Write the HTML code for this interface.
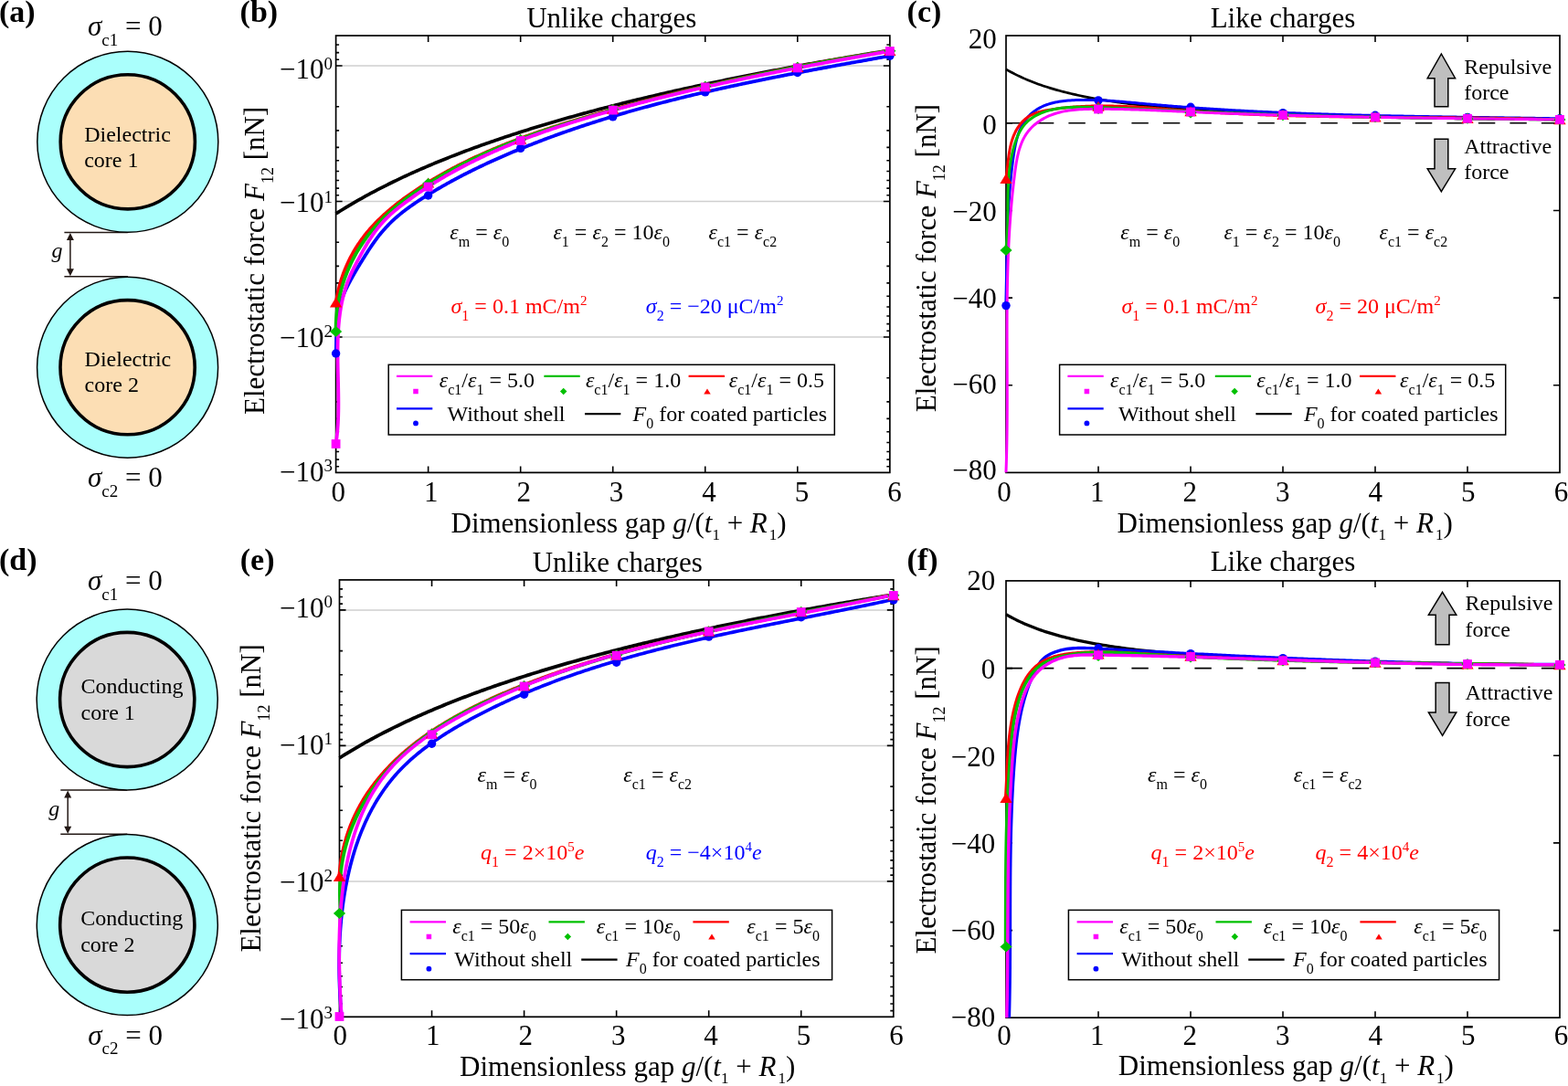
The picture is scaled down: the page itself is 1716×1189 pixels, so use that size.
<!DOCTYPE html><html><head><meta charset='utf-8'><style>html,body{margin:0;padding:0;background:#fff;overflow:hidden}svg{display:block}</style></head><body><svg width='1716' height='1189' viewBox='0 0 1716 1189' font-family="'Liberation Serif', 'Times New Roman', serif">
<rect width='1716' height='1189' fill='#fff'/>
<defs><clipPath id='clipb'><rect x='359.60' y='39.00' width='622.24' height='478.40'/></clipPath><clipPath id='clipc'><rect x='1093.00' y='39.00' width='622.00' height='478.40'/></clipPath><clipPath id='clipe'><rect x='363.50' y='634.90' width='622.30' height='478.40'/></clipPath><clipPath id='clipf'><rect x='1093.00' y='635.90' width='622.00' height='478.30'/></clipPath></defs>
<line x1='367.60' y1='72.00' x2='973.84' y2='72.00' stroke='#cfcfcf' stroke-width='1.5'/>
<line x1='367.60' y1='220.50' x2='973.84' y2='220.50' stroke='#cfcfcf' stroke-width='1.5'/>
<line x1='367.60' y1='369.00' x2='973.84' y2='369.00' stroke='#cfcfcf' stroke-width='1.5'/>
<line x1='367.60' y1='517.50' x2='973.84' y2='517.50' stroke='#cfcfcf' stroke-width='1.5'/>
<line x1='1101.00' y1='134.80' x2='1707.00' y2='134.80' stroke='#000' stroke-width='1.6' stroke-dasharray='18.4,16.1' stroke-dashoffset='0.6'/>
<line x1='371.50' y1='667.90' x2='977.80' y2='667.90' stroke='#cfcfcf' stroke-width='1.5'/>
<line x1='371.50' y1='816.40' x2='977.80' y2='816.40' stroke='#cfcfcf' stroke-width='1.5'/>
<line x1='371.50' y1='964.90' x2='977.80' y2='964.90' stroke='#cfcfcf' stroke-width='1.5'/>
<line x1='371.50' y1='1113.40' x2='977.80' y2='1113.40' stroke='#cfcfcf' stroke-width='1.5'/>
<line x1='1101.00' y1='731.60' x2='1707.00' y2='731.60' stroke='#000' stroke-width='1.6' stroke-dasharray='18.4,16.1' stroke-dashoffset='0.6'/>
<path d='M468.64,517.40v-7M468.64,39.00v7M569.68,517.40v-7M569.68,39.00v7M670.72,517.40v-7M670.72,39.00v7M771.76,517.40v-7M771.76,39.00v7M872.80,517.40v-7M872.80,39.00v7M367.60,49.00h3.5M973.84,49.00h-3.5M367.60,57.61h3.5M973.84,57.61h-3.5M367.60,65.21h3.5M973.84,65.21h-3.5M367.60,72.00h7M973.84,72.00h-7M367.60,116.70h3.5M973.84,116.70h-3.5M367.60,142.85h3.5M973.84,142.85h-3.5M367.60,161.41h3.5M973.84,161.41h-3.5M367.60,175.80h3.5M973.84,175.80h-3.5M367.60,187.56h3.5M973.84,187.56h-3.5M367.60,197.50h3.5M973.84,197.50h-3.5M367.60,206.11h3.5M973.84,206.11h-3.5M367.60,213.71h3.5M973.84,213.71h-3.5M367.60,220.50h7M973.84,220.50h-7M367.60,265.20h3.5M973.84,265.20h-3.5M367.60,291.35h3.5M973.84,291.35h-3.5M367.60,309.91h3.5M973.84,309.91h-3.5M367.60,324.30h3.5M973.84,324.30h-3.5M367.60,336.06h3.5M973.84,336.06h-3.5M367.60,346.00h3.5M973.84,346.00h-3.5M367.60,354.61h3.5M973.84,354.61h-3.5M367.60,362.21h3.5M973.84,362.21h-3.5M367.60,369.00h7M973.84,369.00h-7M367.60,413.70h3.5M973.84,413.70h-3.5M367.60,439.85h3.5M973.84,439.85h-3.5M367.60,458.41h3.5M973.84,458.41h-3.5M367.60,472.80h3.5M973.84,472.80h-3.5M367.60,484.56h3.5M973.84,484.56h-3.5M367.60,494.50h3.5M973.84,494.50h-3.5M367.60,503.11h3.5M973.84,503.11h-3.5M367.60,510.71h3.5M973.84,510.71h-3.5' stroke='#000' stroke-width='1.6' fill='none'/>
<rect x='367.60' y='39.00' width='606.24' height='478.40' fill='none' stroke='#000' stroke-width='1.7'/>
<path d='M1202.00,517.40v-7M1202.00,39.00v7M1303.00,517.40v-7M1303.00,39.00v7M1404.00,517.40v-7M1404.00,39.00v7M1505.00,517.40v-7M1505.00,39.00v7M1606.00,517.40v-7M1606.00,39.00v7M1101.00,421.78h7M1707.00,421.78h-7M1101.00,326.12h7M1707.00,326.12h-7M1101.00,230.46h7M1707.00,230.46h-7M1101.00,134.80h7M1707.00,134.80h-7' stroke='#000' stroke-width='1.6' fill='none'/>
<rect x='1101.00' y='39.00' width='606.00' height='478.40' fill='none' stroke='#000' stroke-width='1.7'/>
<path d='M472.55,1113.30v-7M472.55,634.90v7M573.60,1113.30v-7M573.60,634.90v7M674.65,1113.30v-7M674.65,634.90v7M775.70,1113.30v-7M775.70,634.90v7M876.75,1113.30v-7M876.75,634.90v7M371.50,644.90h3.5M977.80,644.90h-3.5M371.50,653.51h3.5M977.80,653.51h-3.5M371.50,661.11h3.5M977.80,661.11h-3.5M371.50,667.90h7M977.80,667.90h-7M371.50,712.60h3.5M977.80,712.60h-3.5M371.50,738.75h3.5M977.80,738.75h-3.5M371.50,757.31h3.5M977.80,757.31h-3.5M371.50,771.70h3.5M977.80,771.70h-3.5M371.50,783.46h3.5M977.80,783.46h-3.5M371.50,793.40h3.5M977.80,793.40h-3.5M371.50,802.01h3.5M977.80,802.01h-3.5M371.50,809.61h3.5M977.80,809.61h-3.5M371.50,816.40h7M977.80,816.40h-7M371.50,861.10h3.5M977.80,861.10h-3.5M371.50,887.25h3.5M977.80,887.25h-3.5M371.50,905.81h3.5M977.80,905.81h-3.5M371.50,920.20h3.5M977.80,920.20h-3.5M371.50,931.96h3.5M977.80,931.96h-3.5M371.50,941.90h3.5M977.80,941.90h-3.5M371.50,950.51h3.5M977.80,950.51h-3.5M371.50,958.11h3.5M977.80,958.11h-3.5M371.50,964.90h7M977.80,964.90h-7M371.50,1009.60h3.5M977.80,1009.60h-3.5M371.50,1035.75h3.5M977.80,1035.75h-3.5M371.50,1054.31h3.5M977.80,1054.31h-3.5M371.50,1068.70h3.5M977.80,1068.70h-3.5M371.50,1080.46h3.5M977.80,1080.46h-3.5M371.50,1090.40h3.5M977.80,1090.40h-3.5M371.50,1099.01h3.5M977.80,1099.01h-3.5M371.50,1106.61h3.5M977.80,1106.61h-3.5' stroke='#000' stroke-width='1.6' fill='none'/>
<rect x='371.50' y='634.90' width='606.30' height='478.40' fill='none' stroke='#000' stroke-width='1.7'/>
<path d='M1202.00,1114.20v-7M1202.00,635.90v7M1303.00,1114.20v-7M1303.00,635.90v7M1404.00,1114.20v-7M1404.00,635.90v7M1505.00,1114.20v-7M1505.00,635.90v7M1606.00,1114.20v-7M1606.00,635.90v7M1101.00,1018.58h7M1707.00,1018.58h-7M1101.00,922.92h7M1707.00,922.92h-7M1101.00,827.26h7M1707.00,827.26h-7M1101.00,731.60h7M1707.00,731.60h-7' stroke='#000' stroke-width='1.6' fill='none'/>
<rect x='1101.00' y='635.90' width='606.00' height='478.30' fill='none' stroke='#000' stroke-width='1.7'/>
<path d='M367.60,233.98L370.14,232.37L372.67,230.78L375.21,229.21L377.75,227.66L380.28,226.13L382.82,224.62L385.36,223.12L387.89,221.64L390.43,220.18L392.97,218.73L395.50,217.30L398.04,215.88L400.58,214.48L403.11,213.10L405.65,211.73L408.19,210.38L410.72,209.03L413.26,207.71L415.79,206.39L418.33,205.09L420.87,203.80L423.40,202.53L425.94,201.27L428.48,200.02L431.01,198.78L433.55,197.55L436.09,196.34L438.62,195.13L441.16,193.94L443.70,192.76L446.23,191.59L448.77,190.43L451.31,189.28L453.84,188.14L456.38,187.01L458.92,185.89L461.45,184.78L463.99,183.68L466.53,182.59L469.06,181.50L471.60,180.43L474.14,179.37L476.67,178.31L479.21,177.26L481.75,176.22L484.28,175.19L486.82,174.17L489.36,173.16L491.89,172.15L494.43,171.15L496.97,170.16L499.50,169.18L502.04,168.20L504.57,167.23L507.11,166.27L509.65,165.32L512.18,164.37L514.72,163.43L517.26,162.50L519.79,161.57L522.33,160.65L524.87,159.73L527.40,158.83L529.94,157.93L532.48,157.03L535.01,156.14L537.55,155.26L540.09,154.38L542.62,153.51L545.16,152.65L547.70,151.79L550.23,150.94L552.77,150.09L555.31,149.25L557.84,148.41L560.38,147.58L562.92,146.75L565.45,145.93L567.99,145.12L570.53,144.31L573.06,143.50L575.60,142.70L578.14,141.91L580.67,141.11L583.21,140.33L585.74,139.55L588.28,138.77L590.82,138.00L593.35,137.23L595.89,136.47L598.43,135.71L600.96,134.96L603.50,134.21L606.04,133.47L608.57,132.72L611.11,131.99L613.65,131.26L616.18,130.53L618.72,129.80L621.26,129.08L623.79,128.37L626.33,127.66L628.87,126.95L631.40,126.24L633.94,125.54L636.48,124.85L639.01,124.15L641.55,123.47L644.09,122.78L646.62,122.10L649.16,121.42L651.70,120.74L654.23,120.07L656.77,119.41L659.31,118.74L661.84,118.08L664.38,117.42L666.92,116.77L669.45,116.12L671.99,115.47L674.52,114.83L677.06,114.18L679.60,113.55L682.13,112.91L684.67,112.28L687.21,111.65L689.74,111.03L692.28,110.40L694.82,109.78L697.35,109.17L699.89,108.55L702.43,107.94L704.96,107.33L707.50,106.73L710.04,106.13L712.57,105.53L715.11,104.93L717.65,104.34L720.18,103.75L722.72,103.16L725.26,102.57L727.79,101.99L730.33,101.41L732.87,100.83L735.40,100.25L737.94,99.68L740.48,99.11L743.01,98.54L745.55,97.98L748.09,97.41L750.62,96.85L753.16,96.30L755.70,95.74L758.23,95.19L760.77,94.64L763.30,94.09L765.84,93.54L768.38,93.00L770.91,92.46L773.45,91.92L775.99,91.38L778.52,90.85L781.06,90.31L783.60,89.78L786.13,89.25L788.67,88.73L791.21,88.20L793.74,87.68L796.28,87.16L798.82,86.64L801.35,86.13L803.89,85.62L806.43,85.10L808.96,84.59L811.50,84.09L814.04,83.58L816.57,83.08L819.11,82.58L821.65,82.08L824.18,81.58L826.72,81.08L829.26,80.59L831.79,80.10L834.33,79.61L836.87,79.12L839.40,78.63L841.94,78.15L844.47,77.67L847.01,77.18L849.55,76.71L852.08,76.23L854.62,75.75L857.16,75.28L859.69,74.81L862.23,74.34L864.77,73.87L867.30,73.40L869.84,72.93L872.38,72.47L874.91,72.01L877.45,71.55L879.99,71.09L882.52,70.63L885.06,70.18L887.60,69.72L890.13,69.27L892.67,68.82L895.21,68.37L897.74,67.92L900.28,67.48L902.82,67.03L905.35,66.59L907.89,66.15L910.43,65.71L912.96,65.27L915.50,64.83L918.04,64.40L920.57,63.96L923.11,63.53L925.65,63.10L928.18,62.67L930.72,62.24L933.25,61.81L935.79,61.39L938.33,60.97L940.86,60.54L943.40,60.12L945.94,59.70L948.47,59.28L951.01,58.87L953.55,58.45L956.08,58.03L958.62,57.62L961.16,57.21L963.69,56.80L966.23,56.39L968.77,55.98L971.30,55.58L973.84,55.17' stroke='#000' stroke-width='3.7' fill='none' stroke-linejoin='round' stroke-linecap='butt' clip-path='url(#clipb)'/>
<path d='M367.69,387.02L367.77,385.19L367.83,383.35L367.89,381.50L367.95,379.65L367.99,377.78L368.04,375.92L368.08,374.05L368.12,372.18L368.17,370.30L368.22,368.42L368.28,366.54L368.34,364.66L368.41,362.79L368.50,360.91L368.60,359.03L368.71,357.16L368.84,355.29L368.99,353.43L369.17,351.57L369.36,349.71L369.58,347.87L369.83,346.03L370.10,344.19L370.40,342.37L370.74,340.56L371.10,338.76L371.50,336.96L371.93,335.18L372.40,333.40L372.89,331.64L373.43,329.89L373.99,328.15L374.59,326.42L375.22,324.70L375.88,323.00L376.57,321.30L377.29,319.61L378.04,317.93L378.81,316.26L379.61,314.59L380.42,312.94L381.26,311.29L382.12,309.64L382.99,308.00L383.88,306.37L384.78,304.74L385.69,303.11L386.61,301.49L387.53,299.86L388.47,298.24L389.41,296.63L390.36,295.01L391.31,293.40L392.27,291.79L393.24,290.18L394.21,288.58L395.19,286.98L396.18,285.39L397.16,283.79L398.15,282.20L399.15,280.62L400.15,279.03L401.15,277.45L402.15,275.88L403.17,274.31L404.18,272.75L405.21,271.20L406.25,269.65L407.29,268.11L408.35,266.59L409.41,265.07L410.50,263.57L411.59,262.07L412.70,260.60L413.83,259.13L414.97,257.68L416.13,256.25L417.31,254.83L418.50,253.42L419.71,252.03L420.93,250.65L422.17,249.29L423.43,247.94L424.70,246.61L425.99,245.29L427.29,243.99L428.61,242.71L429.95,241.44L431.30,240.19L432.67,238.95L434.06,237.73L435.46,236.52L436.87,235.33L438.30,234.15L439.74,232.98L441.20,231.83L442.67,230.70L444.14,229.57L445.64,228.46L447.14,227.36L448.65,226.27L450.17,225.19L451.70,224.12L453.24,223.06L454.78,222.01L456.34,220.97L457.90,219.94L459.47,218.92L461.04,217.90L462.62,216.90L464.20,215.90L465.79,214.91L467.38,213.92L468.97,212.94L470.57,211.97L472.17,211.00L473.77,210.03L475.38,209.08L476.99,208.13L478.60,207.18L480.21,206.24L481.83,205.30L483.45,204.37L485.07,203.45L486.69,202.53L488.32,201.62L489.95,200.71L491.58,199.81L493.21,198.91L494.85,198.02L496.49,197.13L498.13,196.25L499.78,195.37L501.42,194.50L503.07,193.63L504.72,192.77L506.37,191.91L508.03,191.06L509.69,190.21L511.34,189.37L513.01,188.53L514.67,187.70L516.34,186.87L518.00,186.04L519.67,185.22L521.35,184.41L523.02,183.60L524.70,182.79L526.37,181.99L528.05,181.19L529.73,180.40L531.42,179.61L533.10,178.82L534.79,178.04L536.48,177.26L538.17,176.49L539.86,175.72L541.56,174.96L543.25,174.20L544.95,173.44L546.65,172.69L548.35,171.94L550.05,171.19L551.76,170.45L553.46,169.72L555.17,168.98L556.88,168.25L558.59,167.53L560.30,166.80L562.01,166.08L563.73,165.37L565.44,164.66L567.16,163.95L568.88,163.24L570.60,162.54L572.32,161.84L574.04,161.14L575.76,160.45L577.49,159.76L579.21,159.08L580.94,158.39L582.67,157.71L584.40,157.04L586.13,156.37L587.86,155.70L589.59,155.03L591.32,154.37L593.06,153.70L594.79,153.05L596.53,152.39L598.27,151.74L600.01,151.09L601.75,150.45L603.49,149.81L605.24,149.17L606.98,148.53L608.73,147.90L610.47,147.27L612.22,146.64L613.97,146.02L615.72,145.40L617.47,144.78L619.22,144.17L620.97,143.55L622.73,142.94L624.48,142.34L626.24,141.73L627.99,141.13L629.75,140.53L631.51,139.94L633.27,139.35L635.03,138.76L636.79,138.17L638.56,137.59L640.32,137.00L642.08,136.43L643.85,135.85L645.62,135.28L647.38,134.71L649.15,134.14L650.92,133.57L652.69,133.01L654.46,132.45L656.24,131.89L658.01,131.34L659.78,130.79L661.56,130.24L663.33,129.69L665.11,129.14L666.89,128.60L668.67,128.06L670.45,127.53L672.23,126.99L674.01,126.46L675.79,125.93L677.57,125.40L679.36,124.88L681.14,124.36L682.92,123.84L684.71,123.32L686.50,122.80L688.28,122.29L690.07,121.78L691.86,121.27L693.65,120.76L695.44,120.26L697.23,119.76L699.02,119.26L700.82,118.76L702.61,118.27L704.40,117.78L706.20,117.28L707.99,116.80L709.79,116.31L711.59,115.83L713.38,115.35L715.18,114.87L716.98,114.39L718.78,113.91L720.58,113.44L722.38,112.97L724.18,112.50L725.98,112.03L727.79,111.57L729.59,111.10L731.39,110.64L733.20,110.18L735.00,109.73L736.81,109.27L738.61,108.82L740.42,108.37L742.23,107.92L744.04,107.47L745.84,107.02L747.65,106.58L749.46,106.14L751.27,105.70L753.08,105.26L754.89,104.82L756.71,104.39L758.52,103.95L760.33,103.52L762.14,103.09L763.96,102.67L765.77,102.24L767.58,101.81L769.40,101.39L771.21,100.97L773.03,100.55L774.85,100.13L776.66,99.72L778.48,99.30L780.30,98.89L782.12,98.48L783.93,98.07L785.75,97.66L787.57,97.25L789.39,96.85L791.21,96.45L793.03,96.04L794.85,95.64L796.67,95.24L798.49,94.85L800.31,94.45L802.13,94.05L803.96,93.66L805.78,93.27L807.60,92.88L809.42,92.49L811.25,92.10L813.07,91.71L814.89,91.33L816.72,90.95L818.54,90.56L820.37,90.18L822.19,89.80L824.02,89.42L825.84,89.04L827.67,88.67L829.49,88.29L831.32,87.92L833.15,87.55L834.97,87.17L836.80,86.80L838.62,86.43L840.45,86.07L842.28,85.70L844.11,85.33L845.93,84.97L847.76,84.60L849.59,84.24L851.42,83.88L853.24,83.52L855.07,83.16L856.90,82.80L858.73,82.44L860.55,82.08L862.38,81.73L864.21,81.37L866.04,81.02L867.87,80.66L869.70,80.31L871.53,79.96L873.35,79.61L875.18,79.26L877.01,78.91L878.84,78.56L880.67,78.21L882.50,77.87L884.33,77.52L886.15,77.18L887.98,76.83L889.81,76.49L891.64,76.14L893.47,75.80L895.30,75.46L897.13,75.12L898.95,74.78L900.78,74.44L902.61,74.10L904.44,73.76L906.27,73.42L908.10,73.09L909.92,72.75L911.75,72.41L913.58,72.08L915.41,71.74L917.23,71.41L919.06,71.07L920.89,70.74L922.71,70.41L924.54,70.07L926.37,69.74L928.19,69.41L930.02,69.08L931.85,68.74L933.67,68.41L935.50,68.08L937.32,67.75L939.15,67.42L940.97,67.09L942.80,66.76L944.62,66.44L946.45,66.11L948.27,65.78L950.10,65.45L951.92,65.12L953.74,64.79L955.57,64.47L957.39,64.14L959.21,63.81L961.03,63.48L962.85,63.16L964.68,62.83L966.50,62.50L968.32,62.18L970.14,61.85L971.96,61.52L973.78,61.20' stroke='#0000ff' stroke-width='3.8' fill='none' stroke-linejoin='round' stroke-linecap='butt' clip-path='url(#clipb)'/>
<path d='M367.89,331.26L368.15,329.48L368.42,327.70L368.72,325.93L369.04,324.17L369.38,322.41L369.74,320.66L370.11,318.91L370.51,317.17L370.93,315.44L371.37,313.72L371.83,312.00L372.31,310.29L372.81,308.59L373.32,306.89L373.86,305.20L374.42,303.52L374.99,301.85L375.58,300.19L376.19,298.53L376.83,296.89L377.47,295.25L378.14,293.62L378.83,292.00L379.53,290.38L380.25,288.78L380.99,287.19L381.75,285.60L382.52,284.03L383.31,282.46L384.12,280.91L384.95,279.37L385.79,277.83L386.65,276.31L387.52,274.79L388.41,273.29L389.32,271.80L390.25,270.32L391.19,268.85L392.15,267.39L393.12,265.95L394.11,264.51L395.11,263.09L396.13,261.68L397.17,260.28L398.22,258.90L399.28,257.52L400.36,256.16L401.46,254.81L402.56,253.47L403.69,252.14L404.82,250.83L405.97,249.52L407.13,248.23L408.31,246.95L409.50,245.68L410.70,244.42L411.91,243.17L413.13,241.93L414.37,240.70L415.61,239.48L416.87,238.27L418.14,237.08L419.42,235.89L420.71,234.71L422.01,233.54L423.32,232.38L424.63,231.23L425.96,230.09L427.30,228.96L428.64,227.84L430.00,226.73L431.36,225.62L432.73,224.52L434.11,223.44L435.49,222.36L436.89,221.29L438.29,220.22L439.69,219.17L441.11,218.12L442.52,217.08L443.95,216.05L445.38,215.03L446.82,214.01L448.26,213.00L449.70,212.00L451.15,211.00L452.61,210.01L454.07,209.03L455.53,208.06L457.00,207.09L458.47,206.12L459.94,205.17L461.42,204.22L462.90,203.27L464.38,202.33L465.87,201.40L467.36,200.47L468.85,199.55L470.35,198.64L471.85,197.73L473.35,196.83L474.85,195.93L476.36,195.04L477.87,194.16L479.39,193.28L480.91,192.41L482.43,191.54L483.95,190.68L485.48,189.82L487.01,188.97L488.54,188.13L490.07,187.29L491.61,186.45L493.15,185.62L494.70,184.80L496.24,183.98L497.79,183.17L499.34,182.36L500.90,181.56L502.45,180.76L504.01,179.97L505.57,179.18L507.14,178.40L508.71,177.63L510.28,176.85L511.85,176.09L513.42,175.33L515.00,174.57L516.58,173.82L518.16,173.07L519.75,172.33L521.33,171.59L522.92,170.86L524.51,170.13L526.11,169.40L527.70,168.69L529.30,167.97L530.90,167.26L532.50,166.56L534.11,165.85L535.71,165.16L537.32,164.47L538.93,163.78L540.55,163.09L542.16,162.41L543.78,161.74L545.40,161.07L547.02,160.40L548.64,159.74L550.26,159.08L551.89,158.43L553.52,157.77L555.15,157.13L556.78,156.48L558.42,155.85L560.05,155.21L561.69,154.58L563.33,153.95L564.97,153.33L566.61,152.71L568.25,152.09L569.90,151.48L571.55,150.87L573.19,150.26L574.84,149.66L576.50,149.06L578.15,148.47L579.80,147.87L581.46,147.28L583.12,146.70L584.77,146.12L586.43,145.54L588.10,144.96L589.76,144.39L591.42,143.82L593.09,143.25L594.75,142.69L596.42,142.13L598.09,141.57L599.76,141.02L601.43,140.47L603.10,139.92L604.78,139.37L606.45,138.83L608.13,138.29L609.80,137.75L611.48,137.22L613.16,136.68L614.84,136.15L616.52,135.63L618.20,135.10L619.88,134.58L621.56,134.06L623.24,133.54L624.93,133.03L626.61,132.51L628.30,132.00L629.99,131.49L631.67,130.99L633.36,130.48L635.05,129.98L636.74,129.48L638.43,128.99L640.12,128.49L641.81,128.00L643.50,127.50L645.19,127.01L646.88,126.53L648.57,126.04L650.27,125.56L651.96,125.07L653.65,124.59L655.35,124.11L657.04,123.64L658.74,123.16L660.43,122.69L662.12,122.21L663.82,121.74L665.51,121.27L667.21,120.80L668.91,120.34L670.60,119.87L672.30,119.41L673.99,118.94L675.69,118.48L677.38,118.02L679.08,117.56L680.78,117.10L682.47,116.65L684.17,116.19L685.86,115.74L687.56,115.29L689.26,114.83L690.95,114.38L692.65,113.93L694.35,113.49L696.04,113.04L697.74,112.60L699.44,112.15L701.14,111.71L702.83,111.27L704.53,110.83L706.23,110.39L707.93,109.95L709.62,109.51L711.32,109.08L713.02,108.64L714.72,108.21L716.42,107.78L718.11,107.35L719.81,106.92L721.51,106.49L723.21,106.07L724.91,105.64L726.61,105.22L728.31,104.79L730.01,104.37L731.71,103.95L733.41,103.53L735.11,103.11L736.81,102.70L738.51,102.28L740.21,101.87L741.91,101.45L743.61,101.04L745.31,100.63L747.01,100.22L748.71,99.81L750.41,99.40L752.11,99.00L753.81,98.59L755.52,98.19L757.22,97.79L758.92,97.38L760.62,96.98L762.32,96.58L764.03,96.19L765.73,95.79L767.43,95.39L769.14,95.00L770.84,94.61L772.54,94.21L774.25,93.82L775.95,93.43L777.66,93.04L779.36,92.66L781.07,92.27L782.77,91.88L784.48,91.50L786.18,91.12L787.89,90.73L789.59,90.35L791.30,89.97L793.01,89.60L794.71,89.22L796.42,88.84L798.13,88.47L799.83,88.09L801.54,87.72L803.25,87.35L804.96,86.98L806.66,86.61L808.37,86.24L810.08,85.87L811.79,85.50L813.50,85.14L815.21,84.77L816.92,84.41L818.63,84.05L820.34,83.69L822.05,83.33L823.76,82.97L825.47,82.61L827.18,82.26L828.90,81.90L830.61,81.55L832.32,81.19L834.03,80.84L835.74,80.49L837.46,80.14L839.17,79.79L840.88,79.44L842.60,79.09L844.31,78.75L846.03,78.40L847.74,78.06L849.46,77.72L851.17,77.37L852.89,77.03L854.60,76.69L856.32,76.36L858.04,76.02L859.76,75.68L861.47,75.35L863.19,75.01L864.91,74.68L866.63,74.34L868.35,74.01L870.06,73.68L871.78,73.35L873.50,73.02L875.22,72.70L876.94,72.37L878.66,72.05L880.39,71.72L882.11,71.40L883.83,71.08L885.55,70.75L887.27,70.43L889.00,70.11L890.72,69.80L892.44,69.48L894.17,69.16L895.89,68.85L897.61,68.53L899.34,68.22L901.07,67.91L902.79,67.59L904.52,67.28L906.24,66.97L907.97,66.66L909.70,66.36L911.42,66.05L913.15,65.74L914.88,65.44L916.61,65.14L918.34,64.83L920.07,64.53L921.80,64.23L923.53,63.93L925.26,63.63L926.99,63.33L928.72,63.03L930.45,62.74L932.19,62.44L933.92,62.15L935.65,61.85L937.39,61.56L939.12,61.27L940.86,60.98L942.59,60.69L944.33,60.40L946.06,60.11L947.80,59.83L949.53,59.54L951.27,59.25L953.01,58.97L954.75,58.69L956.49,58.40L958.22,58.12L959.96,57.84L961.70,57.56L963.44,57.28L965.18,57.00L966.92,56.73L968.67,56.45L970.41,56.17L972.15,55.90L973.89,55.63' stroke='#ff0000' stroke-width='3.8' fill='none' stroke-linejoin='round' stroke-linecap='butt' clip-path='url(#clipb)'/>
<path d='M367.63,363.09L367.61,361.25L367.61,359.41L367.63,357.57L367.67,355.73L367.73,353.90L367.81,352.06L367.92,350.23L368.04,348.40L368.19,346.57L368.36,344.74L368.55,342.91L368.75,341.09L368.98,339.27L369.23,337.45L369.50,335.64L369.79,333.83L370.10,332.02L370.43,330.22L370.78,328.42L371.15,326.62L371.53,324.83L371.94,323.04L372.37,321.26L372.82,319.48L373.28,317.71L373.77,315.94L374.27,314.18L374.79,312.42L375.33,310.67L375.89,308.93L376.47,307.19L377.07,305.46L377.68,303.73L378.32,302.02L378.97,300.30L379.64,298.60L380.33,296.90L381.03,295.22L381.76,293.53L382.50,291.86L383.26,290.20L384.03,288.54L384.83,286.89L385.64,285.25L386.46,283.62L387.31,282.00L388.17,280.39L389.05,278.79L389.94,277.19L390.86,275.61L391.79,274.04L392.73,272.48L393.69,270.93L394.67,269.39L395.66,267.86L396.67,266.34L397.70,264.83L398.74,263.33L399.80,261.85L400.87,260.38L401.96,258.92L403.06,257.47L404.18,256.04L405.31,254.61L406.46,253.20L407.63,251.80L408.80,250.41L409.99,249.03L411.19,247.67L412.41,246.31L413.64,244.97L414.88,243.64L416.14,242.32L417.41,241.01L418.69,239.71L419.98,238.43L421.28,237.15L422.59,235.89L423.92,234.64L425.26,233.39L426.60,232.16L427.96,230.94L429.33,229.73L430.70,228.53L432.09,227.34L433.49,226.17L434.89,225.00L436.31,223.84L437.73,222.69L439.16,221.56L440.60,220.43L442.04,219.32L443.50,218.21L444.96,217.11L446.43,216.02L447.90,214.95L449.39,213.88L450.87,212.82L452.37,211.76L453.87,210.72L455.37,209.68L456.88,208.65L458.39,207.63L459.91,206.62L461.43,205.61L462.96,204.61L464.49,203.62L466.02,202.63L467.56,201.65L469.10,200.68L470.64,199.71L472.19,198.76L473.74,197.80L475.30,196.86L476.86,195.92L478.42,194.98L479.99,194.06L481.56,193.14L483.13,192.22L484.71,191.32L486.29,190.41L487.87,189.52L489.46,188.63L491.05,187.75L492.65,186.87L494.24,186.00L495.85,185.14L497.45,184.28L499.06,183.42L500.67,182.58L502.28,181.74L503.90,180.90L505.52,180.07L507.14,179.25L508.77,178.43L510.40,177.62L512.03,176.81L513.66,176.01L515.30,175.21L516.94,174.42L518.58,173.64L520.23,172.86L521.88,172.08L523.53,171.31L525.19,170.55L526.84,169.79L528.50,169.04L530.17,168.29L531.83,167.54L533.50,166.80L535.17,166.07L536.84,165.34L538.52,164.62L540.19,163.90L541.87,163.18L543.55,162.47L545.24,161.77L546.93,161.07L548.61,160.37L550.31,159.68L552.00,158.99L553.69,158.31L555.39,157.63L557.09,156.96L558.79,156.29L560.50,155.62L562.20,154.96L563.91,154.31L565.62,153.65L567.33,153.00L569.05,152.36L570.76,151.72L572.48,151.08L574.20,150.45L575.92,149.82L577.64,149.20L579.36,148.57L581.09,147.96L582.82,147.34L584.55,146.73L586.28,146.13L588.01,145.52L589.74,144.92L591.48,144.33L593.21,143.73L594.95,143.14L596.69,142.56L598.43,141.98L600.17,141.40L601.92,140.82L603.66,140.25L605.41,139.68L607.15,139.11L608.90,138.55L610.65,137.98L612.40,137.43L614.15,136.87L615.90,136.32L617.66,135.77L619.41,135.22L621.16,134.68L622.92,134.14L624.68,133.60L626.43,133.06L628.19,132.53L629.95,131.99L631.71,131.47L633.47,130.94L635.23,130.41L636.99,129.89L638.76,129.37L640.52,128.86L642.28,128.34L644.05,127.83L645.81,127.32L647.58,126.81L649.34,126.30L651.11,125.79L652.87,125.29L654.64,124.79L656.41,124.29L658.17,123.79L659.94,123.29L661.71,122.80L663.47,122.31L665.24,121.82L667.01,121.33L668.78,120.84L670.54,120.35L672.31,119.87L674.08,119.38L675.85,118.90L677.61,118.42L679.38,117.94L681.15,117.46L682.92,116.98L684.69,116.50L686.45,116.03L688.22,115.56L689.99,115.09L691.76,114.62L693.52,114.15L695.29,113.68L697.06,113.21L698.83,112.75L700.60,112.28L702.36,111.82L704.13,111.36L705.90,110.90L707.67,110.44L709.44,109.98L711.20,109.53L712.97,109.07L714.74,108.62L716.51,108.17L718.28,107.72L720.05,107.27L721.82,106.82L723.58,106.38L725.35,105.93L727.12,105.49L728.89,105.05L730.66,104.60L732.43,104.16L734.20,103.73L735.97,103.29L737.74,102.85L739.51,102.42L741.28,101.99L743.05,101.55L744.82,101.12L746.59,100.69L748.36,100.26L750.13,99.84L751.90,99.41L753.67,98.99L755.44,98.56L757.21,98.14L758.99,97.72L760.76,97.30L762.53,96.88L764.30,96.47L766.07,96.05L767.85,95.64L769.62,95.23L771.39,94.81L773.16,94.40L774.94,93.99L776.71,93.59L778.48,93.18L780.26,92.77L782.03,92.37L783.81,91.97L785.58,91.56L787.36,91.16L789.13,90.76L790.91,90.37L792.68,89.97L794.46,89.57L796.23,89.18L798.01,88.79L799.79,88.39L801.56,88.00L803.34,87.61L805.12,87.22L806.89,86.84L808.67,86.45L810.45,86.07L812.23,85.68L814.01,85.30L815.79,84.92L817.56,84.54L819.34,84.16L821.12,83.78L822.90,83.40L824.68,83.03L826.47,82.65L828.25,82.28L830.03,81.91L831.81,81.54L833.59,81.17L835.37,80.80L837.16,80.43L838.94,80.07L840.72,79.70L842.51,79.34L844.29,78.98L846.07,78.61L847.86,78.25L849.64,77.90L851.43,77.54L853.22,77.18L855.00,76.82L856.79,76.47L858.58,76.12L860.36,75.76L862.15,75.41L863.94,75.06L865.73,74.71L867.52,74.37L869.31,74.02L871.10,73.67L872.89,73.33L874.68,72.98L876.47,72.64L878.26,72.30L880.05,71.96L881.84,71.62L883.64,71.28L885.43,70.95L887.22,70.61L889.02,70.28L890.81,69.94L892.61,69.61L894.40,69.28L896.20,68.95L897.99,68.62L899.79,68.29L901.59,67.96L903.38,67.64L905.18,67.31L906.98,66.99L908.78,66.67L910.58,66.34L912.38,66.02L914.18,65.70L915.98,65.38L917.78,65.07L919.59,64.75L921.39,64.43L923.19,64.12L925.00,63.81L926.80,63.49L928.60,63.18L930.41,62.87L932.22,62.56L934.02,62.25L935.83,61.95L937.64,61.64L939.44,61.34L941.25,61.03L943.06,60.73L944.87,60.43L946.68,60.12L948.49,59.82L950.30,59.53L952.12,59.23L953.93,58.93L955.74,58.63L957.56,58.34L959.37,58.04L961.18,57.75L963.00,57.46L964.82,57.17L966.63,56.88L968.45,56.59L970.27,56.30L972.09,56.01L973.91,55.73' stroke='#00c000' stroke-width='3.8' fill='none' stroke-linejoin='round' stroke-linecap='butt' clip-path='url(#clipb)'/>
<path d='M367.59,485.99L367.89,483.95L368.17,481.91L368.43,479.86L368.68,477.81L368.90,475.75L369.10,473.69L369.29,471.62L369.46,469.54L369.61,467.46L369.75,465.37L369.87,463.28L369.98,461.18L370.08,459.08L370.16,456.98L370.23,454.87L370.28,452.75L370.33,450.64L370.36,448.51L370.39,446.39L370.40,444.26L370.41,442.13L370.40,439.99L370.39,437.85L370.38,435.71L370.35,433.57L370.33,431.42L370.29,429.28L370.25,427.13L370.21,424.97L370.17,422.82L370.12,420.67L370.07,418.51L370.02,416.35L369.96,414.19L369.91,412.03L369.86,409.87L369.81,407.71L369.76,405.55L369.72,403.39L369.67,401.23L369.64,399.07L369.60,396.91L369.57,394.75L369.55,392.59L369.53,390.44L369.52,388.28L369.51,386.12L369.52,383.97L369.53,381.82L369.56,379.67L369.59,377.52L369.63,375.37L369.69,373.23L369.75,371.09L369.83,368.95L369.93,366.81L370.03,364.68L370.15,362.55L370.29,360.43L370.44,358.30L370.61,356.19L370.79,354.07L370.99,351.96L371.21,349.86L371.45,347.75L371.71,345.66L371.99,343.56L372.29,341.48L372.61,339.39L372.95,337.32L373.32,335.25L373.71,333.18L374.12,331.12L374.56,329.07L375.02,327.02L375.51,324.98L376.02,322.95L376.56,320.92L377.13,318.90L377.73,316.88L378.36,314.88L379.01,312.88L379.70,310.89L380.41,308.90L381.16,306.93L381.94,304.96L382.76,303.00L383.60,301.05L384.47,299.11L385.37,297.17L386.30,295.24L387.24,293.32L388.21,291.41L389.19,289.50L390.19,287.60L391.20,285.71L392.21,283.82L393.24,281.93L394.26,280.06L395.29,278.18L396.33,276.31L397.36,274.45L398.41,272.60L399.46,270.75L400.53,268.92L401.61,267.09L402.70,265.28L403.82,263.48L404.95,261.69L406.11,259.92L407.29,258.16L408.49,256.42L409.72,254.69L410.98,252.99L412.26,251.30L413.56,249.63L414.89,247.98L416.25,246.36L417.63,244.76L419.04,243.18L420.48,241.62L421.95,240.09L423.44,238.58L424.96,237.10L426.51,235.65L428.08,234.21L429.67,232.80L431.28,231.41L432.91,230.04L434.56,228.68L436.22,227.35L437.90,226.02L439.58,224.72L441.28,223.42L442.99,222.14L444.70,220.86L446.42,219.60L448.14,218.35L449.87,217.10L451.61,215.86L453.35,214.64L455.09,213.42L456.84,212.21L458.60,211.01L460.36,209.82L462.12,208.64L463.89,207.46L465.67,206.30L467.45,205.14L469.23,203.99L471.02,202.85L472.82,201.72L474.62,200.60L476.42,199.49L478.23,198.38L480.04,197.28L481.86,196.19L483.68,195.11L485.51,194.04L487.34,192.97L489.17,191.91L491.01,190.87L492.85,189.82L494.70,188.79L496.55,187.76L498.41,186.74L500.27,185.73L502.13,184.73L504.00,183.73L505.87,182.74L507.75,181.76L509.63,180.79L511.51,179.82L513.40,178.86L515.29,177.91L517.18,176.96L519.08,176.02L520.98,175.09L522.89,174.17L524.80,173.25L526.71,172.34L528.63,171.43L530.55,170.53L532.47,169.64L534.39,168.76L536.32,167.88L538.26,167.01L540.19,166.14L542.13,165.28L544.07,164.43L546.02,163.58L547.96,162.74L549.92,161.91L551.87,161.08L553.83,160.26L555.79,159.44L557.75,158.63L559.71,157.82L561.68,157.02L563.65,156.23L565.62,155.44L567.60,154.66L569.58,153.88L571.56,153.11L573.54,152.34L575.53,151.58L577.51,150.83L579.51,150.08L581.50,149.33L583.49,148.59L585.49,147.86L587.49,147.13L589.49,146.40L591.49,145.68L593.50,144.96L595.51,144.25L597.51,143.55L599.53,142.85L601.54,142.15L603.55,141.46L605.57,140.77L607.59,140.09L609.61,139.41L611.63,138.73L613.65,138.06L615.68,137.39L617.70,136.73L619.73,136.07L621.76,135.42L623.79,134.77L625.82,134.12L627.86,133.48L629.89,132.84L631.93,132.20L633.96,131.57L636.00,130.94L638.04,130.32L640.08,129.70L642.12,129.08L644.16,128.47L646.21,127.85L648.25,127.25L650.30,126.64L652.34,126.04L654.39,125.44L656.43,124.85L658.48,124.25L660.53,123.67L662.58,123.08L664.63,122.49L666.68,121.91L668.73,121.34L670.78,120.76L672.83,120.19L674.88,119.62L676.93,119.05L678.98,118.48L681.04,117.92L683.09,117.36L685.14,116.80L687.20,116.24L689.25,115.69L691.30,115.14L693.36,114.59L695.41,114.04L697.47,113.50L699.53,112.96L701.58,112.42L703.64,111.88L705.69,111.35L707.75,110.81L709.81,110.28L711.87,109.76L713.92,109.23L715.98,108.71L718.04,108.19L720.10,107.67L722.16,107.15L724.22,106.64L726.28,106.12L728.34,105.61L730.40,105.10L732.46,104.60L734.52,104.09L736.59,103.59L738.65,103.09L740.71,102.59L742.77,102.10L744.84,101.60L746.90,101.11L748.97,100.62L751.03,100.14L753.09,99.65L755.16,99.16L757.23,98.68L759.29,98.20L761.36,97.72L763.42,97.25L765.49,96.77L767.56,96.30L769.63,95.83L771.69,95.36L773.76,94.89L775.83,94.43L777.90,93.96L779.97,93.50L782.04,93.04L784.11,92.58L786.18,92.12L788.25,91.67L790.32,91.22L792.39,90.76L794.46,90.31L796.53,89.86L798.61,89.42L800.68,88.97L802.75,88.53L804.83,88.08L806.90,87.64L808.97,87.20L811.05,86.77L813.12,86.33L815.20,85.89L817.27,85.46L819.35,85.03L821.42,84.60L823.50,84.17L825.58,83.74L827.65,83.32L829.73,82.89L831.81,82.47L833.89,82.04L835.97,81.62L838.04,81.20L840.12,80.78L842.20,80.37L844.28,79.95L846.36,79.54L848.44,79.12L850.52,78.71L852.60,78.30L854.69,77.89L856.77,77.48L858.85,77.07L860.93,76.67L863.02,76.26L865.10,75.86L867.18,75.45L869.27,75.05L871.35,74.65L873.43,74.25L875.52,73.85L877.60,73.46L879.69,73.06L881.77,72.66L883.86,72.27L885.95,71.87L888.03,71.48L890.12,71.09L892.21,70.70L894.30,70.31L896.38,69.92L898.47,69.53L900.56,69.14L902.65,68.75L904.74,68.37L906.83,67.98L908.92,67.60L911.01,67.21L913.10,66.83L915.19,66.45L917.28,66.07L919.37,65.68L921.46,65.30L923.56,64.92L925.65,64.55L927.74,64.17L929.84,63.79L931.93,63.41L934.02,63.04L936.12,62.66L938.21,62.28L940.31,61.91L942.40,61.54L944.50,61.16L946.59,60.79L948.69,60.42L950.79,60.04L952.88,59.67L954.98,59.30L957.08,58.93L959.17,58.56L961.27,58.19L963.37,57.82L965.47,57.45L967.57,57.08L969.67,56.71L971.77,56.34L973.87,55.97' stroke='#ff00ff' stroke-width='3.8' fill='none' stroke-linejoin='round' stroke-linecap='butt' clip-path='url(#clipb)'/>
<path d='M1101.00,75.85L1103.54,77.30L1106.07,78.70L1108.61,80.05L1111.14,81.35L1113.68,82.61L1116.21,83.82L1118.75,84.99L1121.28,86.12L1123.82,87.21L1126.36,88.27L1128.89,89.29L1131.43,90.27L1133.96,91.23L1136.50,92.15L1139.03,93.05L1141.57,93.92L1144.10,94.76L1146.64,95.58L1149.18,96.37L1151.71,97.13L1154.25,97.88L1156.78,98.60L1159.32,99.30L1161.85,99.99L1164.39,100.65L1166.92,101.29L1169.46,101.92L1172.00,102.52L1174.53,103.12L1177.07,103.69L1179.60,104.25L1182.14,104.80L1184.67,105.33L1187.21,105.84L1189.74,106.34L1192.28,106.83L1194.82,107.31L1197.35,107.78L1199.89,108.23L1202.42,108.67L1204.96,109.10L1207.49,109.52L1210.03,109.94L1212.56,110.34L1215.10,110.73L1217.64,111.11L1220.17,111.48L1222.71,111.84L1225.24,112.20L1227.78,112.55L1230.31,112.89L1232.85,113.22L1235.38,113.54L1237.92,113.86L1240.46,114.17L1242.99,114.47L1245.53,114.77L1248.06,115.06L1250.60,115.34L1253.13,115.62L1255.67,115.89L1258.21,116.16L1260.74,116.42L1263.28,116.67L1265.81,116.92L1268.35,117.17L1270.88,117.41L1273.42,117.64L1275.95,117.87L1278.49,118.10L1281.03,118.32L1283.56,118.53L1286.10,118.75L1288.63,118.96L1291.17,119.16L1293.70,119.36L1296.24,119.56L1298.77,119.75L1301.31,119.94L1303.85,120.12L1306.38,120.31L1308.92,120.48L1311.45,120.66L1313.99,120.83L1316.52,121.00L1319.06,121.17L1321.59,121.33L1324.13,121.49L1326.67,121.65L1329.20,121.80L1331.74,121.95L1334.27,122.10L1336.81,122.25L1339.34,122.39L1341.88,122.54L1344.41,122.68L1346.95,122.81L1349.49,122.95L1352.02,123.08L1354.56,123.21L1357.09,123.34L1359.63,123.46L1362.16,123.59L1364.70,123.71L1367.23,123.83L1369.77,123.95L1372.31,124.06L1374.84,124.18L1377.38,124.29L1379.91,124.40L1382.45,124.51L1384.98,124.62L1387.52,124.72L1390.05,124.82L1392.59,124.93L1395.13,125.03L1397.66,125.13L1400.20,125.22L1402.73,125.32L1405.27,125.42L1407.80,125.51L1410.34,125.60L1412.87,125.69L1415.41,125.78L1417.95,125.87L1420.48,125.95L1423.02,126.04L1425.55,126.12L1428.09,126.21L1430.62,126.29L1433.16,126.37L1435.69,126.45L1438.23,126.53L1440.77,126.60L1443.30,126.68L1445.84,126.76L1448.37,126.83L1450.91,126.90L1453.44,126.98L1455.98,127.05L1458.51,127.12L1461.05,127.19L1463.59,127.25L1466.12,127.32L1468.66,127.39L1471.19,127.45L1473.73,127.52L1476.26,127.58L1478.80,127.64L1481.33,127.71L1483.87,127.77L1486.41,127.83L1488.94,127.89L1491.48,127.95L1494.01,128.01L1496.55,128.06L1499.08,128.12L1501.62,128.18L1504.15,128.23L1506.69,128.29L1509.23,128.34L1511.76,128.39L1514.30,128.45L1516.83,128.50L1519.37,128.55L1521.90,128.60L1524.44,128.65L1526.97,128.70L1529.51,128.75L1532.05,128.80L1534.58,128.85L1537.12,128.89L1539.65,128.94L1542.19,128.99L1544.72,129.03L1547.26,129.08L1549.79,129.12L1552.33,129.16L1554.87,129.21L1557.40,129.25L1559.94,129.29L1562.47,129.34L1565.01,129.38L1567.54,129.42L1570.08,129.46L1572.62,129.50L1575.15,129.54L1577.69,129.58L1580.22,129.62L1582.76,129.65L1585.29,129.69L1587.83,129.73L1590.36,129.77L1592.90,129.80L1595.44,129.84L1597.97,129.88L1600.51,129.91L1603.04,129.95L1605.58,129.98L1608.11,130.02L1610.65,130.05L1613.18,130.08L1615.72,130.12L1618.26,130.15L1620.79,130.18L1623.33,130.22L1625.86,130.25L1628.40,130.28L1630.93,130.31L1633.47,130.34L1636.00,130.37L1638.54,130.40L1641.08,130.43L1643.61,130.46L1646.15,130.49L1648.68,130.52L1651.22,130.55L1653.75,130.58L1656.29,130.61L1658.82,130.63L1661.36,130.66L1663.90,130.69L1666.43,130.72L1668.97,130.74L1671.50,130.77L1674.04,130.80L1676.57,130.82L1679.11,130.85L1681.64,130.87L1684.18,130.90L1686.72,130.92L1689.25,130.95L1691.79,130.97L1694.32,131.00L1696.86,131.02L1699.39,131.05L1701.93,131.07L1704.46,131.09L1707.00,131.12' stroke='#000' stroke-width='2.7' fill='none' stroke-linejoin='round' stroke-linecap='butt' clip-path='url(#clipc)'/>
<path d='M1100.80,334.72L1100.86,332.67L1100.91,330.63L1100.96,328.59L1101.01,326.55L1101.05,324.51L1101.10,322.48L1101.14,320.46L1101.18,318.43L1101.22,316.41L1101.26,314.39L1101.30,312.37L1101.34,310.36L1101.38,308.35L1101.41,306.34L1101.45,304.33L1101.48,302.33L1101.52,300.32L1101.55,298.32L1101.59,296.32L1101.62,294.33L1101.66,292.33L1101.69,290.34L1101.73,288.35L1101.77,286.36L1101.80,284.37L1101.84,282.38L1101.88,280.40L1101.92,278.41L1101.96,276.43L1102.01,274.44L1102.05,272.46L1102.10,270.48L1102.14,268.50L1102.19,266.52L1102.24,264.54L1102.30,262.56L1102.35,260.59L1102.41,258.61L1102.47,256.63L1102.54,254.65L1102.60,252.67L1102.67,250.70L1102.74,248.72L1102.82,246.74L1102.90,244.76L1102.98,242.78L1103.06,240.80L1103.15,238.83L1103.24,236.84L1103.34,234.86L1103.44,232.88L1103.54,230.90L1103.65,228.91L1103.77,226.93L1103.88,224.94L1104.01,222.95L1104.13,220.97L1104.26,218.98L1104.40,216.98L1104.54,214.99L1104.69,212.99L1104.84,211.00L1105.00,209.00L1105.16,207.00L1105.33,204.99L1105.51,202.99L1105.69,200.98L1105.87,198.97L1106.07,196.96L1106.27,194.94L1106.47,192.93L1106.68,190.91L1106.90,188.88L1107.13,186.86L1107.36,184.83L1107.60,182.80L1107.85,180.76L1108.11,178.72L1108.37,176.68L1108.64,174.64L1108.92,172.59L1109.21,170.54L1109.51,168.50L1109.83,166.45L1110.17,164.42L1110.53,162.39L1110.91,160.38L1111.32,158.37L1111.75,156.39L1112.22,154.42L1112.72,152.46L1113.26,150.54L1113.84,148.63L1114.45,146.75L1115.11,144.90L1115.82,143.08L1116.57,141.29L1117.38,139.54L1118.23,137.83L1119.15,136.15L1120.12,134.52L1121.15,132.93L1122.24,131.39L1123.40,129.89L1124.63,128.45L1125.92,127.05L1127.27,125.71L1128.68,124.42L1130.14,123.19L1131.65,122.02L1133.22,120.90L1134.83,119.84L1136.49,118.83L1138.18,117.89L1139.92,117.01L1141.69,116.20L1143.50,115.44L1145.33,114.75L1147.20,114.10L1149.10,113.52L1151.02,112.98L1152.97,112.49L1154.94,112.05L1156.92,111.65L1158.93,111.30L1160.95,110.98L1162.99,110.71L1165.03,110.46L1167.09,110.25L1169.16,110.07L1171.23,109.92L1173.30,109.79L1175.38,109.68L1177.45,109.60L1179.53,109.53L1181.60,109.48L1183.66,109.45L1185.72,109.42L1187.77,109.41L1189.82,109.42L1191.86,109.44L1193.90,109.46L1195.93,109.50L1197.96,109.56L1199.99,109.62L1202.01,109.69L1204.03,109.77L1206.04,109.86L1208.05,109.96L1210.06,110.07L1212.06,110.19L1214.06,110.31L1216.06,110.44L1218.05,110.58L1220.05,110.73L1222.04,110.88L1224.02,111.03L1226.01,111.19L1227.99,111.36L1229.98,111.52L1231.96,111.70L1233.94,111.87L1235.91,112.05L1237.89,112.23L1239.87,112.41L1241.84,112.59L1243.82,112.78L1245.79,112.96L1247.77,113.15L1249.74,113.33L1251.72,113.51L1253.69,113.70L1255.67,113.88L1257.65,114.05L1259.62,114.23L1261.60,114.41L1263.58,114.58L1265.55,114.75L1267.53,114.92L1269.51,115.09L1271.49,115.26L1273.47,115.42L1275.45,115.59L1277.43,115.75L1279.41,115.91L1281.39,116.07L1283.38,116.23L1285.36,116.39L1287.34,116.54L1289.32,116.69L1291.31,116.85L1293.29,117.00L1295.27,117.15L1297.26,117.30L1299.24,117.44L1301.23,117.59L1303.21,117.73L1305.20,117.87L1307.19,118.01L1309.17,118.15L1311.16,118.29L1313.15,118.43L1315.13,118.56L1317.12,118.70L1319.11,118.83L1321.10,118.96L1323.09,119.09L1325.08,119.22L1327.07,119.35L1329.06,119.47L1331.05,119.60L1333.04,119.72L1335.03,119.84L1337.02,119.97L1339.01,120.09L1341.00,120.20L1342.99,120.32L1344.99,120.44L1346.98,120.55L1348.97,120.67L1350.96,120.78L1352.96,120.89L1354.95,121.00L1356.95,121.11L1358.94,121.22L1360.93,121.32L1362.93,121.43L1364.92,121.53L1366.92,121.64L1368.92,121.74L1370.91,121.84L1372.91,121.94L1374.90,122.04L1376.90,122.13L1378.90,122.23L1380.89,122.33L1382.89,122.42L1384.89,122.51L1386.89,122.61L1388.88,122.70L1390.88,122.79L1392.88,122.88L1394.88,122.96L1396.88,123.05L1398.88,123.14L1400.88,123.22L1402.87,123.31L1404.87,123.39L1406.87,123.47L1408.87,123.55L1410.87,123.63L1412.87,123.71L1414.87,123.79L1416.87,123.87L1418.88,123.95L1420.88,124.02L1422.88,124.10L1424.88,124.17L1426.88,124.24L1428.88,124.31L1430.88,124.39L1432.88,124.46L1434.89,124.53L1436.89,124.59L1438.89,124.66L1440.89,124.73L1442.90,124.80L1444.90,124.86L1446.90,124.93L1448.90,124.99L1450.91,125.05L1452.91,125.12L1454.91,125.18L1456.92,125.24L1458.92,125.30L1460.92,125.36L1462.93,125.42L1464.93,125.47L1466.93,125.53L1468.94,125.59L1470.94,125.64L1472.94,125.70L1474.95,125.75L1476.95,125.81L1478.96,125.86L1480.96,125.91L1482.96,125.97L1484.97,126.02L1486.97,126.07L1488.98,126.12L1490.98,126.17L1492.98,126.22L1494.99,126.26L1496.99,126.31L1499.00,126.36L1501.00,126.41L1503.01,126.45L1505.01,126.50L1507.02,126.54L1509.02,126.59L1511.03,126.63L1513.03,126.67L1515.03,126.72L1517.04,126.76L1519.04,126.80L1521.05,126.84L1523.05,126.88L1525.06,126.92L1527.06,126.97L1529.07,127.00L1531.07,127.04L1533.07,127.08L1535.08,127.12L1537.08,127.16L1539.09,127.20L1541.09,127.23L1543.10,127.27L1545.10,127.31L1547.10,127.34L1549.11,127.38L1551.11,127.41L1553.11,127.45L1555.12,127.48L1557.12,127.52L1559.13,127.55L1561.13,127.59L1563.13,127.62L1565.14,127.65L1567.14,127.69L1569.14,127.72L1571.15,127.75L1573.15,127.78L1575.15,127.82L1577.15,127.85L1579.16,127.88L1581.16,127.91L1583.16,127.94L1585.16,127.97L1587.17,128.00L1589.17,128.03L1591.17,128.06L1593.17,128.09L1595.17,128.13L1597.17,128.15L1599.18,128.18L1601.18,128.21L1603.18,128.24L1605.18,128.27L1607.18,128.30L1609.18,128.33L1611.18,128.36L1613.18,128.39L1615.18,128.42L1617.18,128.45L1619.18,128.48L1621.18,128.51L1623.18,128.53L1625.18,128.56L1627.18,128.59L1629.18,128.62L1631.17,128.65L1633.17,128.68L1635.17,128.71L1637.17,128.74L1639.17,128.76L1641.16,128.79L1643.16,128.82L1645.16,128.85L1647.15,128.88L1649.15,128.91L1651.15,128.94L1653.14,128.97L1655.14,129.00L1657.14,129.03L1659.13,129.06L1661.13,129.09L1663.12,129.12L1665.11,129.15L1667.11,129.18L1669.10,129.21L1671.10,129.24L1673.09,129.27L1675.08,129.30L1677.08,129.33L1679.07,129.36L1681.06,129.39L1683.05,129.43L1685.05,129.46L1687.04,129.49L1689.03,129.52L1691.02,129.56L1693.01,129.59L1695.00,129.62L1696.99,129.66L1698.98,129.69L1700.97,129.72L1702.96,129.76L1704.95,129.79L1706.93,129.83' stroke='#0000ff' stroke-width='3.0' fill='none' stroke-linejoin='round' stroke-linecap='butt' clip-path='url(#clipc)'/>
<path d='M1101.02,194.79L1101.25,193.29L1101.46,191.78L1101.66,190.24L1101.86,188.68L1102.04,187.10L1102.22,185.51L1102.40,183.90L1102.58,182.28L1102.76,180.64L1102.94,179.00L1103.13,177.34L1103.32,175.68L1103.52,174.02L1103.74,172.34L1103.96,170.67L1104.20,168.99L1104.46,167.32L1104.74,165.64L1105.04,163.97L1105.36,162.31L1105.71,160.65L1106.09,159.00L1106.49,157.36L1106.93,155.73L1107.40,154.12L1107.90,152.51L1108.44,150.93L1109.02,149.36L1109.64,147.81L1110.31,146.28L1111.02,144.78L1111.78,143.30L1112.59,141.84L1113.44,140.41L1114.35,139.02L1115.30,137.66L1116.29,136.34L1117.34,135.06L1118.42,133.82L1119.55,132.64L1120.72,131.51L1121.94,130.43L1123.19,129.41L1124.48,128.46L1125.81,127.57L1127.18,126.74L1128.58,125.98L1130.01,125.28L1131.47,124.63L1132.97,124.04L1134.48,123.49L1136.02,122.99L1137.58,122.52L1139.16,122.10L1140.75,121.71L1142.36,121.35L1143.98,121.02L1145.61,120.71L1147.24,120.43L1148.88,120.15L1150.53,119.90L1152.17,119.65L1153.81,119.41L1155.45,119.18L1157.10,118.96L1158.74,118.74L1160.38,118.54L1162.03,118.35L1163.67,118.16L1165.31,117.98L1166.96,117.81L1168.60,117.65L1170.24,117.50L1171.89,117.36L1173.53,117.22L1175.17,117.09L1176.82,116.97L1178.46,116.86L1180.10,116.75L1181.75,116.66L1183.39,116.56L1185.04,116.48L1186.68,116.40L1188.32,116.33L1189.97,116.27L1191.61,116.21L1193.26,116.16L1194.90,116.12L1196.54,116.08L1198.19,116.05L1199.83,116.03L1201.48,116.01L1203.12,115.99L1204.77,115.99L1206.41,115.99L1208.05,115.99L1209.70,116.00L1211.34,116.01L1212.99,116.03L1214.63,116.06L1216.28,116.08L1217.92,116.12L1219.57,116.16L1221.21,116.20L1222.86,116.25L1224.50,116.30L1226.15,116.36L1227.79,116.42L1229.44,116.48L1231.08,116.55L1232.73,116.62L1234.37,116.69L1236.02,116.77L1237.66,116.85L1239.31,116.94L1240.95,117.03L1242.60,117.12L1244.24,117.21L1245.89,117.31L1247.53,117.41L1249.18,117.51L1250.83,117.62L1252.47,117.72L1254.12,117.83L1255.76,117.94L1257.41,118.06L1259.05,118.17L1260.70,118.29L1262.34,118.41L1263.99,118.53L1265.64,118.65L1267.28,118.77L1268.93,118.89L1270.57,119.02L1272.22,119.14L1273.86,119.27L1275.51,119.40L1277.16,119.52L1278.80,119.65L1280.45,119.78L1282.09,119.91L1283.74,120.03L1285.39,120.16L1287.03,120.29L1288.68,120.42L1290.32,120.54L1291.97,120.67L1293.62,120.80L1295.26,120.92L1296.91,121.05L1298.55,121.17L1300.20,121.29L1301.85,121.41L1303.49,121.53L1305.14,121.65L1306.78,121.77L1308.43,121.88L1310.08,122.00L1311.72,122.11L1313.37,122.22L1315.01,122.33L1316.66,122.44L1318.31,122.55L1319.95,122.65L1321.60,122.76L1323.25,122.86L1324.89,122.96L1326.54,123.06L1328.18,123.16L1329.83,123.26L1331.48,123.36L1333.12,123.45L1334.77,123.54L1336.41,123.64L1338.06,123.73L1339.71,123.82L1341.35,123.91L1343.00,124.00L1344.65,124.08L1346.29,124.17L1347.94,124.25L1349.59,124.34L1351.23,124.42L1352.88,124.50L1354.52,124.58L1356.17,124.66L1357.82,124.73L1359.46,124.81L1361.11,124.88L1362.76,124.96L1364.40,125.03L1366.05,125.10L1367.70,125.17L1369.34,125.24L1370.99,125.31L1372.63,125.38L1374.28,125.45L1375.93,125.51L1377.57,125.58L1379.22,125.64L1380.87,125.70L1382.51,125.76L1384.16,125.82L1385.81,125.88L1387.45,125.94L1389.10,126.00L1390.75,126.06L1392.39,126.11L1394.04,126.17L1395.69,126.22L1397.33,126.27L1398.98,126.33L1400.63,126.38L1402.27,126.43L1403.92,126.48L1405.56,126.53L1407.21,126.57L1408.86,126.62L1410.50,126.67L1412.15,126.71L1413.80,126.76L1415.44,126.80L1417.09,126.84L1418.74,126.89L1420.38,126.93L1422.03,126.97L1423.68,127.01L1425.32,127.05L1426.97,127.09L1428.62,127.12L1430.26,127.16L1431.91,127.20L1433.56,127.23L1435.21,127.27L1436.85,127.30L1438.50,127.33L1440.15,127.37L1441.79,127.40L1443.44,127.43L1445.09,127.46L1446.73,127.49L1448.38,127.52L1450.03,127.55L1451.67,127.58L1453.32,127.61L1454.97,127.64L1456.61,127.66L1458.26,127.69L1459.91,127.71L1461.55,127.74L1463.20,127.76L1464.85,127.79L1466.49,127.81L1468.14,127.84L1469.79,127.86L1471.44,127.88L1473.08,127.90L1474.73,127.92L1476.38,127.95L1478.02,127.97L1479.67,127.99L1481.32,128.01L1482.96,128.02L1484.61,128.04L1486.26,128.06L1487.90,128.08L1489.55,128.10L1491.20,128.11L1492.85,128.13L1494.49,128.15L1496.14,128.16L1497.79,128.18L1499.43,128.20L1501.08,128.21L1502.73,128.23L1504.37,128.24L1506.02,128.26L1507.67,128.27L1509.32,128.28L1510.96,128.30L1512.61,128.31L1514.26,128.32L1515.90,128.34L1517.55,128.35L1519.20,128.36L1520.85,128.38L1522.49,128.39L1524.14,128.40L1525.79,128.41L1527.43,128.42L1529.08,128.44L1530.73,128.45L1532.38,128.46L1534.02,128.47L1535.67,128.48L1537.32,128.49L1538.96,128.50L1540.61,128.51L1542.26,128.53L1543.91,128.54L1545.55,128.55L1547.20,128.56L1548.85,128.57L1550.49,128.58L1552.14,128.59L1553.79,128.60L1555.44,128.61L1557.08,128.62L1558.73,128.63L1560.38,128.64L1562.02,128.65L1563.67,128.67L1565.32,128.68L1566.97,128.69L1568.61,128.70L1570.26,128.71L1571.91,128.72L1573.56,128.73L1575.20,128.74L1576.85,128.76L1578.50,128.77L1580.14,128.78L1581.79,128.79L1583.44,128.80L1585.09,128.82L1586.73,128.83L1588.38,128.84L1590.03,128.86L1591.68,128.87L1593.32,128.88L1594.97,128.90L1596.62,128.91L1598.27,128.93L1599.91,128.94L1601.56,128.95L1603.21,128.97L1604.86,128.99L1606.50,129.00L1608.15,129.02L1609.80,129.03L1611.44,129.05L1613.09,129.07L1614.74,129.09L1616.39,129.10L1618.03,129.12L1619.68,129.14L1621.33,129.16L1622.98,129.18L1624.62,129.20L1626.27,129.22L1627.92,129.24L1629.57,129.26L1631.21,129.28L1632.86,129.30L1634.51,129.33L1636.16,129.35L1637.80,129.37L1639.45,129.40L1641.10,129.42L1642.75,129.45L1644.39,129.47L1646.04,129.50L1647.69,129.52L1649.34,129.55L1650.98,129.58L1652.63,129.61L1654.28,129.64L1655.93,129.66L1657.57,129.69L1659.22,129.73L1660.87,129.76L1662.52,129.79L1664.16,129.82L1665.81,129.85L1667.46,129.89L1669.11,129.92L1670.75,129.96L1672.40,129.99L1674.05,130.03L1675.70,130.07L1677.35,130.11L1678.99,130.14L1680.64,130.18L1682.29,130.22L1683.94,130.26L1685.58,130.31L1687.23,130.35L1688.88,130.39L1690.53,130.44L1692.17,130.48L1693.82,130.53L1695.47,130.57L1697.12,130.62L1698.76,130.67L1700.41,130.72L1702.06,130.77L1703.71,130.82L1705.35,130.87L1707.00,130.92' stroke='#ff0000' stroke-width='3.0' fill='none' stroke-linejoin='round' stroke-linecap='butt' clip-path='url(#clipc)'/>
<path d='M1100.66,273.87L1100.89,272.08L1101.11,270.30L1101.30,268.51L1101.49,266.71L1101.65,264.91L1101.81,263.11L1101.95,261.30L1102.07,259.49L1102.19,257.68L1102.29,255.86L1102.38,254.04L1102.46,252.22L1102.54,250.39L1102.60,248.56L1102.66,246.73L1102.71,244.90L1102.75,243.06L1102.79,241.22L1102.82,239.38L1102.85,237.54L1102.87,235.70L1102.89,233.85L1102.91,232.01L1102.93,230.16L1102.94,228.31L1102.96,226.46L1102.98,224.61L1103.00,222.76L1103.02,220.91L1103.04,219.05L1103.07,217.20L1103.11,215.35L1103.14,213.50L1103.19,211.65L1103.24,209.79L1103.29,207.94L1103.36,206.09L1103.43,204.24L1103.51,202.40L1103.61,200.55L1103.71,198.70L1103.82,196.86L1103.95,195.02L1104.09,193.17L1104.25,191.34L1104.41,189.50L1104.60,187.66L1104.80,185.83L1105.01,184.00L1105.24,182.17L1105.50,180.35L1105.76,178.53L1106.05,176.71L1106.36,174.90L1106.69,173.08L1107.04,171.28L1107.42,169.47L1107.81,167.67L1108.23,165.87L1108.68,164.08L1109.15,162.29L1109.64,160.51L1110.17,158.73L1110.72,156.96L1111.30,155.20L1111.91,153.46L1112.56,151.73L1113.25,150.02L1113.97,148.34L1114.74,146.69L1115.55,145.06L1116.41,143.48L1117.31,141.93L1118.27,140.42L1119.27,138.95L1120.33,137.54L1121.45,136.17L1122.63,134.86L1123.86,133.61L1125.15,132.42L1126.50,131.28L1127.90,130.20L1129.35,129.17L1130.84,128.19L1132.37,127.27L1133.94,126.39L1135.54,125.57L1137.17,124.79L1138.83,124.06L1140.52,123.38L1142.22,122.74L1143.94,122.14L1145.68,121.59L1147.43,121.07L1149.19,120.60L1150.96,120.17L1152.74,119.77L1154.53,119.40L1156.32,119.08L1158.13,118.78L1159.95,118.51L1161.77,118.28L1163.60,118.07L1165.43,117.89L1167.27,117.73L1169.12,117.60L1170.97,117.49L1172.83,117.40L1174.69,117.33L1176.56,117.28L1178.42,117.24L1180.29,117.22L1182.17,117.21L1184.04,117.22L1185.92,117.24L1187.79,117.26L1189.67,117.29L1191.54,117.33L1193.42,117.38L1195.29,117.43L1197.16,117.48L1199.03,117.53L1200.90,117.58L1202.76,117.64L1204.62,117.69L1206.49,117.75L1208.35,117.81L1210.20,117.87L1212.06,117.93L1213.91,118.00L1215.77,118.06L1217.62,118.13L1219.47,118.19L1221.32,118.26L1223.16,118.33L1225.01,118.40L1226.85,118.47L1228.70,118.54L1230.54,118.62L1232.38,118.69L1234.22,118.77L1236.05,118.84L1237.89,118.92L1239.72,119.00L1241.56,119.08L1243.39,119.16L1245.22,119.24L1247.05,119.32L1248.89,119.40L1250.71,119.48L1252.54,119.56L1254.37,119.64L1256.20,119.73L1258.02,119.81L1259.85,119.89L1261.67,119.98L1263.50,120.06L1265.32,120.15L1267.15,120.23L1268.97,120.32L1270.79,120.40L1272.61,120.49L1274.43,120.58L1276.25,120.66L1278.08,120.75L1279.90,120.83L1281.72,120.92L1283.54,121.00L1285.36,121.09L1287.18,121.18L1289.00,121.26L1290.82,121.35L1292.64,121.43L1294.46,121.51L1296.28,121.60L1298.10,121.68L1299.92,121.76L1301.74,121.85L1303.56,121.93L1305.38,122.01L1307.20,122.09L1309.03,122.17L1310.85,122.25L1312.67,122.33L1314.49,122.41L1316.32,122.49L1318.14,122.57L1319.96,122.65L1321.79,122.72L1323.61,122.80L1325.44,122.87L1327.26,122.95L1329.09,123.02L1330.91,123.10L1332.74,123.17L1334.56,123.25L1336.39,123.32L1338.22,123.39L1340.04,123.46L1341.87,123.54L1343.70,123.61L1345.52,123.68L1347.35,123.75L1349.18,123.82L1351.01,123.89L1352.84,123.95L1354.66,124.02L1356.49,124.09L1358.32,124.16L1360.15,124.22L1361.98,124.29L1363.81,124.36L1365.64,124.42L1367.47,124.49L1369.30,124.55L1371.13,124.62L1372.96,124.68L1374.79,124.74L1376.63,124.80L1378.46,124.87L1380.29,124.93L1382.12,124.99L1383.95,125.05L1385.78,125.11L1387.62,125.17L1389.45,125.23L1391.28,125.29L1393.11,125.35L1394.95,125.41L1396.78,125.46L1398.61,125.52L1400.45,125.58L1402.28,125.64L1404.12,125.69L1405.95,125.75L1407.78,125.80L1409.62,125.86L1411.45,125.91L1413.29,125.97L1415.12,126.02L1416.96,126.07L1418.79,126.13L1420.63,126.18L1422.46,126.23L1424.30,126.28L1426.13,126.33L1427.97,126.38L1429.81,126.43L1431.64,126.49L1433.48,126.53L1435.31,126.58L1437.15,126.63L1438.99,126.68L1440.82,126.73L1442.66,126.78L1444.50,126.83L1446.33,126.87L1448.17,126.92L1450.01,126.97L1451.85,127.01L1453.68,127.06L1455.52,127.10L1457.36,127.15L1459.20,127.19L1461.03,127.24L1462.87,127.28L1464.71,127.32L1466.55,127.37L1468.38,127.41L1470.22,127.45L1472.06,127.49L1473.90,127.54L1475.74,127.58L1477.58,127.62L1479.41,127.66L1481.25,127.70L1483.09,127.74L1484.93,127.78L1486.77,127.82L1488.61,127.86L1490.44,127.90L1492.28,127.93L1494.12,127.97L1495.96,128.01L1497.80,128.05L1499.64,128.09L1501.48,128.12L1503.32,128.16L1505.15,128.20L1506.99,128.23L1508.83,128.27L1510.67,128.30L1512.51,128.34L1514.35,128.37L1516.19,128.41L1518.03,128.44L1519.87,128.47L1521.70,128.51L1523.54,128.54L1525.38,128.57L1527.22,128.61L1529.06,128.64L1530.90,128.67L1532.74,128.70L1534.58,128.74L1536.42,128.77L1538.25,128.80L1540.09,128.83L1541.93,128.86L1543.77,128.89L1545.61,128.92L1547.45,128.95L1549.29,128.98L1551.12,129.01L1552.96,129.04L1554.80,129.07L1556.64,129.09L1558.48,129.12L1560.32,129.15L1562.15,129.18L1563.99,129.21L1565.83,129.23L1567.67,129.26L1569.51,129.29L1571.34,129.31L1573.18,129.34L1575.02,129.37L1576.86,129.39L1578.69,129.42L1580.53,129.44L1582.37,129.47L1584.21,129.49L1586.04,129.52L1587.88,129.54L1589.72,129.57L1591.55,129.59L1593.39,129.61L1595.23,129.64L1597.06,129.66L1598.90,129.69L1600.74,129.71L1602.57,129.73L1604.41,129.75L1606.24,129.78L1608.08,129.80L1609.91,129.82L1611.75,129.84L1613.59,129.86L1615.42,129.89L1617.26,129.91L1619.09,129.93L1620.93,129.95L1622.76,129.97L1624.59,129.99L1626.43,130.01L1628.26,130.03L1630.10,130.05L1631.93,130.07L1633.76,130.09L1635.60,130.11L1637.43,130.13L1639.26,130.15L1641.10,130.17L1642.93,130.19L1644.76,130.21L1646.60,130.23L1648.43,130.24L1650.26,130.26L1652.09,130.28L1653.92,130.30L1655.76,130.32L1657.59,130.34L1659.42,130.35L1661.25,130.37L1663.08,130.39L1664.91,130.41L1666.74,130.42L1668.57,130.44L1670.40,130.46L1672.23,130.47L1674.06,130.49L1675.89,130.51L1677.72,130.52L1679.55,130.54L1681.37,130.56L1683.20,130.57L1685.03,130.59L1686.86,130.60L1688.69,130.62L1690.51,130.63L1692.34,130.65L1694.17,130.67L1695.99,130.68L1697.82,130.70L1699.65,130.71L1701.47,130.73L1703.30,130.74L1705.12,130.76L1706.95,130.77' stroke='#00c000' stroke-width='3.0' fill='none' stroke-linejoin='round' stroke-linecap='butt' clip-path='url(#clipc)'/>
<path d='M1100.95,517.48L1101.04,515.03L1101.13,512.58L1101.22,510.13L1101.30,507.68L1101.37,505.24L1101.44,502.79L1101.51,500.35L1101.58,497.91L1101.64,495.47L1101.70,493.03L1101.75,490.59L1101.80,488.16L1101.85,485.72L1101.89,483.29L1101.94,480.86L1101.97,478.42L1102.01,475.99L1102.04,473.56L1102.07,471.13L1102.10,468.71L1102.13,466.28L1102.15,463.85L1102.17,461.43L1102.19,459.00L1102.20,456.58L1102.22,454.16L1102.23,451.74L1102.24,449.31L1102.25,446.89L1102.25,444.47L1102.26,442.06L1102.26,439.64L1102.26,437.22L1102.26,434.80L1102.26,432.39L1102.26,429.97L1102.25,427.56L1102.25,425.14L1102.24,422.73L1102.24,420.32L1102.23,417.91L1102.22,415.49L1102.21,413.08L1102.21,410.67L1102.20,408.26L1102.19,405.85L1102.18,403.44L1102.17,401.03L1102.16,398.62L1102.15,396.22L1102.14,393.81L1102.13,391.40L1102.12,388.99L1102.11,386.59L1102.10,384.18L1102.09,381.77L1102.08,379.37L1102.07,376.96L1102.07,374.55L1102.06,372.15L1102.06,369.74L1102.05,367.34L1102.05,364.93L1102.05,362.52L1102.05,360.12L1102.05,357.71L1102.05,355.31L1102.06,352.90L1102.07,350.50L1102.07,348.09L1102.08,345.68L1102.10,343.28L1102.11,340.87L1102.12,338.47L1102.14,336.06L1102.16,333.65L1102.19,331.25L1102.21,328.84L1102.24,326.43L1102.27,324.03L1102.30,321.62L1102.34,319.21L1102.37,316.80L1102.42,314.39L1102.46,311.98L1102.51,309.57L1102.56,307.16L1102.61,304.75L1102.67,302.34L1102.73,299.93L1102.80,297.52L1102.86,295.11L1102.94,292.69L1103.01,290.28L1103.09,287.87L1103.17,285.45L1103.26,283.04L1103.35,280.62L1103.45,278.20L1103.55,275.79L1103.66,273.37L1103.77,270.95L1103.88,268.53L1104.00,266.11L1104.12,263.69L1104.25,261.27L1104.38,258.84L1104.52,256.42L1104.67,254.00L1104.81,251.57L1104.97,249.14L1105.13,246.72L1105.29,244.29L1105.46,241.86L1105.64,239.43L1105.82,237.00L1106.01,234.57L1106.20,232.13L1106.40,229.70L1106.61,227.26L1106.82,224.83L1107.04,222.39L1107.26,219.95L1107.49,217.51L1107.73,215.07L1107.97,212.62L1108.23,210.18L1108.48,207.74L1108.75,205.29L1109.02,202.84L1109.30,200.39L1109.58,197.94L1109.87,195.49L1110.17,193.04L1110.48,190.58L1110.80,188.13L1111.13,185.67L1111.47,183.22L1111.83,180.78L1112.22,178.35L1112.64,175.93L1113.10,173.53L1113.59,171.16L1114.12,168.80L1114.70,166.47L1115.34,164.17L1116.03,161.90L1116.78,159.66L1117.60,157.47L1118.48,155.31L1119.44,153.21L1120.48,151.14L1121.61,149.13L1122.81,147.18L1124.12,145.28L1125.51,143.44L1127.01,141.66L1128.60,139.95L1130.29,138.30L1132.06,136.73L1133.90,135.22L1135.82,133.78L1137.80,132.42L1139.83,131.13L1141.92,129.91L1144.06,128.77L1146.23,127.71L1148.43,126.73L1150.66,125.83L1152.92,125.01L1155.21,124.25L1157.52,123.57L1159.85,122.95L1162.20,122.39L1164.57,121.89L1166.96,121.45L1169.37,121.06L1171.79,120.72L1174.22,120.43L1176.67,120.17L1179.13,119.96L1181.59,119.78L1184.07,119.64L1186.55,119.53L1189.03,119.44L1191.52,119.38L1194.01,119.33L1196.49,119.31L1198.98,119.29L1201.47,119.29L1203.95,119.29L1206.42,119.30L1208.89,119.32L1211.36,119.34L1213.82,119.36L1216.28,119.39L1218.73,119.43L1221.18,119.47L1223.62,119.52L1226.07,119.57L1228.50,119.62L1230.94,119.68L1233.37,119.74L1235.80,119.81L1238.22,119.88L1240.65,119.95L1243.07,120.03L1245.48,120.11L1247.90,120.19L1250.31,120.28L1252.72,120.37L1255.13,120.46L1257.53,120.55L1259.94,120.65L1262.34,120.75L1264.74,120.85L1267.14,120.95L1269.54,121.05L1271.93,121.15L1274.33,121.26L1276.73,121.36L1279.12,121.47L1281.51,121.58L1283.91,121.69L1286.30,121.80L1288.69,121.90L1291.09,122.01L1293.48,122.12L1295.87,122.23L1298.27,122.34L1300.66,122.44L1303.06,122.55L1305.45,122.65L1307.85,122.76L1310.24,122.86L1312.64,122.96L1315.04,123.06L1317.44,123.16L1319.84,123.26L1322.24,123.36L1324.64,123.45L1327.04,123.55L1329.45,123.65L1331.85,123.74L1334.25,123.83L1336.66,123.92L1339.06,124.01L1341.47,124.10L1343.88,124.19L1346.28,124.28L1348.69,124.37L1351.10,124.45L1353.51,124.54L1355.92,124.62L1358.33,124.71L1360.74,124.79L1363.15,124.87L1365.56,124.95L1367.97,125.03L1370.39,125.11L1372.80,125.19L1375.21,125.27L1377.63,125.34L1380.04,125.42L1382.46,125.49L1384.87,125.57L1387.29,125.64L1389.71,125.71L1392.12,125.78L1394.54,125.85L1396.96,125.92L1399.38,125.99L1401.80,126.06L1404.22,126.13L1406.64,126.20L1409.06,126.26L1411.48,126.33L1413.90,126.39L1416.32,126.46L1418.74,126.52L1421.16,126.58L1423.59,126.64L1426.01,126.71L1428.43,126.77L1430.85,126.83L1433.28,126.88L1435.70,126.94L1438.13,127.00L1440.55,127.06L1442.98,127.11L1445.40,127.17L1447.83,127.22L1450.25,127.28L1452.68,127.33L1455.10,127.39L1457.53,127.44L1459.95,127.49L1462.38,127.54L1464.81,127.59L1467.23,127.64L1469.66,127.69L1472.09,127.74L1474.52,127.79L1476.94,127.84L1479.37,127.89L1481.80,127.93L1484.23,127.98L1486.66,128.03L1489.08,128.07L1491.51,128.12L1493.94,128.16L1496.37,128.20L1498.80,128.25L1501.23,128.29L1503.65,128.33L1506.08,128.37L1508.51,128.42L1510.94,128.46L1513.37,128.50L1515.80,128.54L1518.23,128.58L1520.65,128.62L1523.08,128.65L1525.51,128.69L1527.94,128.73L1530.37,128.77L1532.80,128.81L1535.22,128.84L1537.65,128.88L1540.08,128.92L1542.51,128.95L1544.94,128.99L1547.36,129.02L1549.79,129.06L1552.22,129.09L1554.65,129.12L1557.08,129.16L1559.50,129.19L1561.93,129.22L1564.36,129.26L1566.78,129.29L1569.21,129.32L1571.64,129.35L1574.06,129.39L1576.49,129.42L1578.91,129.45L1581.34,129.48L1583.76,129.51L1586.19,129.54L1588.61,129.57L1591.04,129.60L1593.46,129.63L1595.89,129.66L1598.31,129.69L1600.73,129.72L1603.16,129.75L1605.58,129.77L1608.00,129.80L1610.42,129.83L1612.84,129.86L1615.26,129.89L1617.69,129.92L1620.11,129.94L1622.53,129.97L1624.95,130.00L1627.37,130.03L1629.78,130.05L1632.20,130.08L1634.62,130.11L1637.04,130.14L1639.46,130.16L1641.87,130.19L1644.29,130.22L1646.70,130.24L1649.12,130.27L1651.53,130.30L1653.95,130.32L1656.36,130.35L1658.78,130.38L1661.19,130.40L1663.60,130.43L1666.01,130.45L1668.42,130.48L1670.83,130.51L1673.24,130.53L1675.65,130.56L1678.06,130.59L1680.47,130.61L1682.88,130.64L1685.29,130.67L1687.69,130.69L1690.10,130.72L1692.50,130.75L1694.91,130.77L1697.31,130.80L1699.72,130.83L1702.12,130.86L1704.52,130.88L1706.92,130.91' stroke='#ff00ff' stroke-width='3.0' fill='none' stroke-linejoin='round' stroke-linecap='butt' clip-path='url(#clipc)'/>
<path d='M371.50,829.88L374.04,828.27L376.57,826.68L379.11,825.11L381.65,823.56L384.18,822.03L386.72,820.52L389.26,819.02L391.79,817.54L394.33,816.08L396.87,814.63L399.41,813.20L401.94,811.78L404.48,810.38L407.02,809.00L409.55,807.63L412.09,806.28L414.63,804.93L417.16,803.61L419.70,802.29L422.24,800.99L424.77,799.70L427.31,798.43L429.85,797.17L432.38,795.92L434.92,794.68L437.46,793.45L439.99,792.24L442.53,791.03L445.07,789.84L447.60,788.66L450.14,787.49L452.68,786.33L455.22,785.18L457.75,784.04L460.29,782.91L462.83,781.79L465.36,780.68L467.90,779.58L470.44,778.49L472.97,777.40L475.51,776.33L478.05,775.27L480.58,774.21L483.12,773.16L485.66,772.12L488.19,771.09L490.73,770.07L493.27,769.06L495.80,768.05L498.34,767.05L500.88,766.06L503.41,765.08L505.95,764.10L508.49,763.13L511.03,762.17L513.56,761.22L516.10,760.27L518.64,759.33L521.17,758.40L523.71,757.47L526.25,756.55L528.78,755.63L531.32,754.73L533.86,753.83L536.39,752.93L538.93,752.04L541.47,751.16L544.00,750.28L546.54,749.41L549.08,748.55L551.61,747.69L554.15,746.84L556.69,745.99L559.22,745.15L561.76,744.31L564.30,743.48L566.84,742.65L569.37,741.83L571.91,741.02L574.45,740.21L576.98,739.40L579.52,738.60L582.06,737.81L584.59,737.01L587.13,736.23L589.67,735.45L592.20,734.67L594.74,733.90L597.28,733.13L599.81,732.37L602.35,731.61L604.89,730.86L607.42,730.11L609.96,729.37L612.50,728.62L615.03,727.89L617.57,727.16L620.11,726.43L622.65,725.70L625.18,724.98L627.72,724.27L630.26,723.56L632.79,722.85L635.33,722.14L637.87,721.44L640.40,720.75L642.94,720.05L645.48,719.37L648.01,718.68L650.55,718.00L653.09,717.32L655.62,716.64L658.16,715.97L660.70,715.31L663.23,714.64L665.77,713.98L668.31,713.32L670.84,712.67L673.38,712.02L675.92,711.37L678.46,710.73L680.99,710.08L683.53,709.45L686.07,708.81L688.60,708.18L691.14,707.55L693.68,706.93L696.21,706.30L698.75,705.68L701.29,705.07L703.82,704.45L706.36,703.84L708.90,703.23L711.43,702.63L713.97,702.03L716.51,701.43L719.04,700.83L721.58,700.24L724.12,699.65L726.65,699.06L729.19,698.47L731.73,697.89L734.27,697.31L736.80,696.73L739.34,696.15L741.88,695.58L744.41,695.01L746.95,694.44L749.49,693.88L752.02,693.31L754.56,692.75L757.10,692.20L759.63,691.64L762.17,691.09L764.71,690.54L767.24,689.99L769.78,689.44L772.32,688.90L774.85,688.36L777.39,687.82L779.93,687.28L782.46,686.75L785.00,686.21L787.54,685.68L790.08,685.15L792.61,684.63L795.15,684.10L797.69,683.58L800.22,683.06L802.76,682.54L805.30,682.03L807.83,681.52L810.37,681.00L812.91,680.49L815.44,679.99L817.98,679.48L820.52,678.98L823.05,678.48L825.59,677.98L828.13,677.48L830.66,676.98L833.20,676.49L835.74,676.00L838.27,675.51L840.81,675.02L843.35,674.53L845.89,674.05L848.42,673.57L850.96,673.08L853.50,672.61L856.03,672.13L858.57,671.65L861.11,671.18L863.64,670.71L866.18,670.24L868.72,669.77L871.25,669.30L873.79,668.83L876.33,668.37L878.86,667.91L881.40,667.45L883.94,666.99L886.47,666.53L889.01,666.08L891.55,665.62L894.08,665.17L896.62,664.72L899.16,664.27L901.70,663.82L904.23,663.38L906.77,662.93L909.31,662.49L911.84,662.05L914.38,661.61L916.92,661.17L919.45,660.73L921.99,660.30L924.53,659.86L927.06,659.43L929.60,659.00L932.14,658.57L934.67,658.14L937.21,657.71L939.75,657.29L942.28,656.87L944.82,656.44L947.36,656.02L949.89,655.60L952.43,655.18L954.97,654.77L957.51,654.35L960.04,653.93L962.58,653.52L965.12,653.11L967.65,652.70L970.19,652.29L972.73,651.88L975.26,651.48L977.80,651.07' stroke='#000' stroke-width='3.8' fill='none' stroke-linejoin='round' stroke-linecap='butt' clip-path='url(#clipe)'/>
<path d='M374.14,1115.81L373.94,1113.77L373.75,1111.72L373.56,1109.66L373.39,1107.59L373.21,1105.51L373.05,1103.43L372.89,1101.34L372.73,1099.24L372.59,1097.14L372.45,1095.03L372.31,1092.92L372.18,1090.79L372.06,1088.67L371.95,1086.53L371.84,1084.40L371.74,1082.25L371.65,1080.10L371.57,1077.95L371.49,1075.79L371.42,1073.62L371.36,1071.46L371.30,1069.28L371.26,1067.11L371.22,1064.93L371.19,1062.74L371.17,1060.55L371.15,1058.36L371.15,1056.17L371.15,1053.97L371.16,1051.77L371.18,1049.57L371.21,1047.36L371.25,1045.15L371.29,1042.94L371.35,1040.73L371.41,1038.52L371.49,1036.30L371.57,1034.09L371.67,1031.87L371.77,1029.65L371.88,1027.43L372.00,1025.21L372.14,1022.99L372.28,1020.76L372.43,1018.54L372.59,1016.32L372.77,1014.10L372.95,1011.88L373.14,1009.66L373.35,1007.44L373.56,1005.22L373.79,1003.00L374.03,1000.78L374.28,998.57L374.54,996.35L374.81,994.14L375.09,991.93L375.38,989.72L375.69,987.52L376.00,985.31L376.33,983.11L376.67,980.92L377.02,978.72L377.39,976.53L377.77,974.34L378.16,972.16L378.56,969.98L378.97,967.80L379.40,965.63L379.84,963.46L380.29,961.30L380.75,959.14L381.23,956.98L381.72,954.83L382.23,952.69L382.74,950.55L383.28,948.42L383.82,946.29L384.38,944.17L384.95,942.05L385.54,939.94L386.14,937.84L386.75,935.74L387.38,933.65L388.02,931.57L388.68,929.49L389.35,927.43L390.03,925.37L390.73,923.31L391.45,921.27L392.18,919.23L392.92,917.20L393.68,915.18L394.46,913.17L395.25,911.17L396.05,909.17L396.87,907.19L397.71,905.21L398.56,903.25L399.43,901.29L400.32,899.34L401.22,897.40L402.13,895.48L403.06,893.56L404.01,891.66L404.98,889.76L405.96,887.88L406.96,886.00L407.97,884.14L409.01,882.29L410.05,880.45L411.12,878.63L412.20,876.81L413.30,875.01L414.42,873.22L415.56,871.44L416.71,869.67L417.88,867.92L419.07,866.18L420.27,864.46L421.50,862.74L422.74,861.04L424.00,859.36L425.28,857.69L426.57,856.03L427.89,854.39L429.22,852.76L430.57,851.14L431.95,849.54L433.34,847.96L434.74,846.39L436.17,844.84L437.62,843.30L439.08,841.77L440.56,840.26L442.06,838.76L443.58,837.28L445.11,835.81L446.66,834.36L448.22,832.92L449.80,831.49L451.39,830.08L453.00,828.68L454.63,827.29L456.27,825.91L457.92,824.55L459.59,823.20L461.27,821.86L462.96,820.54L464.67,819.22L466.39,817.92L468.12,816.63L469.86,815.35L471.62,814.09L473.38,812.83L475.16,811.59L476.95,810.35L478.74,809.13L480.55,807.92L482.37,806.71L484.20,805.52L486.03,804.34L487.87,803.17L489.73,802.01L491.59,800.85L493.46,799.71L495.33,798.58L497.21,797.45L499.10,796.34L501.00,795.23L502.90,794.13L504.81,793.04L506.72,791.96L508.64,790.88L510.56,789.82L512.49,788.76L514.42,787.71L516.36,786.67L518.30,785.63L520.24,784.60L522.18,783.58L524.13,782.57L526.08,781.56L528.03,780.56L529.99,779.56L531.95,778.58L533.91,777.60L535.87,776.62L537.84,775.65L539.81,774.69L541.78,773.74L543.75,772.79L545.72,771.85L547.70,770.91L549.68,769.98L551.66,769.06L553.65,768.14L555.63,767.23L557.62,766.33L559.61,765.43L561.61,764.54L563.60,763.65L565.60,762.77L567.60,761.90L569.60,761.03L571.61,760.17L573.62,759.31L575.62,758.46L577.63,757.61L579.65,756.77L581.66,755.94L583.68,755.11L585.70,754.29L587.72,753.47L589.74,752.66L591.77,751.86L593.79,751.06L595.82,750.26L597.85,749.47L599.89,748.69L601.92,747.91L603.96,747.14L606.00,746.37L608.04,745.60L610.08,744.85L612.12,744.09L614.17,743.35L616.21,742.60L618.26,741.87L620.31,741.13L622.37,740.40L624.42,739.68L626.48,738.96L628.53,738.25L630.59,737.54L632.65,736.84L634.72,736.14L636.78,735.44L638.84,734.75L640.91,734.07L642.98,733.39L645.05,732.71L647.12,732.04L649.19,731.37L651.27,730.71L653.35,730.05L655.42,729.39L657.50,728.74L659.58,728.10L661.66,727.46L663.75,726.82L665.83,726.18L667.92,725.55L670.00,724.93L672.09,724.31L674.18,723.69L676.27,723.07L678.36,722.46L680.46,721.86L682.55,721.26L684.65,720.66L686.74,720.06L688.84,719.47L690.94,718.88L693.04,718.30L695.14,717.72L697.24,717.14L699.35,716.57L701.45,716.00L703.55,715.43L705.66,714.87L707.77,714.31L709.88,713.75L711.99,713.19L714.10,712.64L716.21,712.10L718.32,711.55L720.43,711.01L722.55,710.47L724.66,709.94L726.78,709.41L728.89,708.88L731.01,708.35L733.13,707.83L735.24,707.31L737.36,706.79L739.48,706.27L741.60,705.76L743.73,705.25L745.85,704.74L747.97,704.24L750.09,703.73L752.22,703.23L754.34,702.74L756.47,702.24L758.59,701.75L760.72,701.26L762.85,700.77L764.97,700.29L767.10,699.80L769.23,699.32L771.36,698.84L773.49,698.37L775.62,697.89L777.75,697.42L779.88,696.95L782.01,696.48L784.14,696.01L786.27,695.54L788.40,695.08L790.53,694.62L792.67,694.16L794.80,693.70L796.93,693.24L799.07,692.79L801.20,692.34L803.33,691.88L805.47,691.43L807.60,690.99L809.73,690.54L811.87,690.09L814.00,689.65L816.14,689.20L818.27,688.76L820.40,688.32L822.54,687.88L824.67,687.44L826.81,687.01L828.94,686.57L831.08,686.13L833.21,685.70L835.35,685.27L837.48,684.83L839.61,684.40L841.75,683.97L843.88,683.54L846.02,683.11L848.15,682.68L850.28,682.26L852.42,681.83L854.55,681.40L856.68,680.98L858.81,680.55L860.95,680.13L863.08,679.70L865.21,679.28L867.34,678.86L869.47,678.43L871.60,678.01L873.73,677.59L875.86,677.17L877.99,676.74L880.12,676.32L882.25,675.90L884.37,675.48L886.50,675.06L888.63,674.63L890.75,674.21L892.88,673.79L895.01,673.37L897.13,672.95L899.25,672.52L901.38,672.10L903.50,671.68L905.62,671.25L907.74,670.83L909.86,670.41L911.98,669.98L914.10,669.56L916.22,669.13L918.34,668.70L920.46,668.28L922.57,667.85L924.69,667.42L926.80,666.99L928.92,666.56L931.03,666.13L933.14,665.70L935.25,665.27L937.36,664.84L939.47,664.40L941.58,663.97L943.69,663.53L945.80,663.10L947.90,662.66L950.00,662.22L952.11,661.78L954.21,661.34L956.31,660.89L958.41,660.45L960.51,660.00L962.61,659.56L964.71,659.11L966.80,658.66L968.90,658.21L970.99,657.75L973.08,657.30L975.17,656.84L977.26,656.39' stroke='#0000ff' stroke-width='3.7' fill='none' stroke-linejoin='round' stroke-linecap='butt' clip-path='url(#clipe)'/>
<path d='M371.21,960.75L371.35,958.71L371.51,956.69L371.69,954.67L371.89,952.67L372.10,950.68L372.33,948.71L372.59,946.74L372.86,944.79L373.15,942.85L373.46,940.91L373.78,939.00L374.13,937.09L374.49,935.19L374.87,933.31L375.26,931.44L375.68,929.58L376.11,927.73L376.56,925.89L377.03,924.06L377.51,922.25L378.01,920.45L378.53,918.65L379.06,916.87L379.61,915.10L380.18,913.34L380.76,911.59L381.36,909.85L381.97,908.13L382.60,906.41L383.25,904.71L383.91,903.01L384.59,901.33L385.28,899.66L385.99,897.99L386.71,896.34L387.45,894.70L388.20,893.07L388.97,891.45L389.75,889.84L390.55,888.24L391.36,886.65L392.18,885.07L393.02,883.50L393.87,881.94L394.74,880.40L395.62,878.86L396.52,877.33L397.42,875.81L398.34,874.30L399.28,872.80L400.22,871.31L401.18,869.83L402.16,868.36L403.14,866.90L404.14,865.45L405.15,864.01L406.17,862.58L407.21,861.16L408.26,859.75L409.31,858.34L410.39,856.95L411.47,855.57L412.56,854.19L413.67,852.82L414.78,851.47L415.91,850.12L417.05,848.78L418.20,847.45L419.36,846.13L420.53,844.82L421.71,843.52L422.90,842.22L424.11,840.94L425.32,839.66L426.54,838.39L427.77,837.13L429.02,835.88L430.27,834.64L431.53,833.40L432.80,832.18L434.08,830.96L435.37,829.75L436.67,828.55L437.97,827.36L439.29,826.17L440.61,825.00L441.95,823.83L443.29,822.67L444.64,821.52L446.00,820.37L447.36,819.24L448.74,818.11L450.12,816.99L451.51,815.88L452.90,814.77L454.31,813.67L455.72,812.58L457.14,811.50L458.57,810.43L460.00,809.36L461.44,808.30L462.89,807.25L464.35,806.20L465.81,805.16L467.28,804.13L468.76,803.11L470.24,802.09L471.73,801.08L473.22,800.08L474.73,799.08L476.23,798.09L477.75,797.11L479.27,796.13L480.79,795.16L482.33,794.20L483.87,793.24L485.41,792.30L486.96,791.35L488.51,790.42L490.07,789.49L491.64,788.56L493.21,787.64L494.79,786.73L496.37,785.83L497.96,784.93L499.55,784.04L501.14,783.15L502.74,782.27L504.35,781.39L505.96,780.52L507.58,779.66L509.19,778.80L510.82,777.95L512.45,777.10L514.08,776.26L515.71,775.43L517.35,774.60L519.00,773.77L520.64,772.95L522.29,772.14L523.95,771.33L525.61,770.53L527.27,769.73L528.93,768.94L530.60,768.15L532.27,767.37L533.94,766.59L535.62,765.82L537.30,765.05L538.98,764.28L540.67,763.53L542.36,762.77L544.05,762.02L545.74,761.28L547.43,760.54L549.13,759.80L550.83,759.07L552.53,758.35L554.23,757.62L555.94,756.90L557.64,756.19L559.35,755.48L561.06,754.78L562.77,754.07L564.49,753.38L566.20,752.68L567.92,751.99L569.63,751.31L571.35,750.63L573.07,749.95L574.79,749.27L576.51,748.60L578.23,747.94L579.95,747.27L581.68,746.61L583.40,745.96L585.12,745.30L586.85,744.65L588.58,744.01L590.30,743.37L592.03,742.73L593.76,742.09L595.49,741.46L597.22,740.83L598.95,740.21L600.68,739.59L602.41,738.97L604.15,738.36L605.88,737.75L607.62,737.14L609.35,736.53L611.09,735.93L612.82,735.33L614.56,734.74L616.30,734.15L618.04,733.56L619.78,732.97L621.52,732.39L623.26,731.81L625.00,731.24L626.75,730.66L628.49,730.10L630.23,729.53L631.98,728.97L633.72,728.40L635.47,727.85L637.22,727.29L638.96,726.74L640.71,726.19L642.46,725.65L644.21,725.10L645.96,724.56L647.71,724.03L649.46,723.49L651.21,722.96L652.96,722.43L654.72,721.91L656.47,721.38L658.22,720.86L659.98,720.34L661.73,719.83L663.49,719.32L665.24,718.81L667.00,718.30L668.76,717.79L670.51,717.29L672.27,716.79L674.03,716.30L675.79,715.80L677.55,715.31L679.31,714.82L681.07,714.33L682.83,713.85L684.59,713.37L686.36,712.89L688.12,712.41L689.88,711.93L691.65,711.46L693.41,710.99L695.17,710.52L696.94,710.06L698.70,709.59L700.47,709.13L702.24,708.67L704.00,708.22L705.77,707.76L707.54,707.31L709.30,706.86L711.07,706.41L712.84,705.96L714.61,705.52L716.38,705.08L718.15,704.63L719.92,704.20L721.69,703.76L723.46,703.33L725.23,702.89L727.00,702.46L728.77,702.03L730.54,701.61L732.32,701.18L734.09,700.76L735.86,700.34L737.63,699.92L739.41,699.50L741.18,699.08L742.95,698.67L744.73,698.26L746.50,697.85L748.28,697.44L750.05,697.03L751.83,696.62L753.60,696.22L755.38,695.82L757.16,695.42L758.93,695.02L760.71,694.62L762.48,694.22L764.26,693.83L766.04,693.43L767.82,693.04L769.59,692.65L771.37,692.26L773.15,691.87L774.93,691.49L776.70,691.10L778.48,690.72L780.26,690.33L782.04,689.95L783.82,689.57L785.60,689.19L787.37,688.82L789.15,688.44L790.93,688.06L792.71,687.69L794.49,687.32L796.27,686.95L798.05,686.57L799.83,686.21L801.61,685.84L803.39,685.47L805.17,685.10L806.95,684.74L808.73,684.37L810.51,684.01L812.29,683.65L814.07,683.28L815.85,682.92L817.63,682.56L819.41,682.20L821.19,681.84L822.96,681.49L824.74,681.13L826.52,680.77L828.30,680.42L830.08,680.06L831.86,679.71L833.64,679.36L835.42,679.00L837.20,678.65L838.98,678.30L840.76,677.95L842.54,677.60L844.32,677.25L846.10,676.90L847.88,676.55L849.66,676.20L851.44,675.85L853.22,675.51L854.99,675.16L856.77,674.81L858.55,674.47L860.33,674.12L862.11,673.78L863.89,673.43L865.66,673.09L867.44,672.74L869.22,672.40L871.00,672.05L872.77,671.71L874.55,671.37L876.33,671.02L878.10,670.68L879.88,670.34L881.66,670.00L883.43,669.65L885.21,669.31L886.99,668.97L888.76,668.62L890.54,668.28L892.31,667.94L894.09,667.60L895.86,667.25L897.63,666.91L899.41,666.57L901.18,666.23L902.95,665.88L904.73,665.54L906.50,665.20L908.27,664.85L910.04,664.51L911.82,664.17L913.59,663.82L915.36,663.48L917.13,663.13L918.90,662.79L920.67,662.44L922.44,662.10L924.21,661.75L925.98,661.40L927.75,661.06L929.52,660.71L931.28,660.36L933.05,660.01L934.82,659.66L936.59,659.31L938.35,658.96L940.12,658.61L941.88,658.26L943.65,657.91L945.41,657.56L947.18,657.21L948.94,656.85L950.70,656.50L952.47,656.14L954.23,655.79L955.99,655.43L957.75,655.07L959.51,654.72L961.27,654.36L963.03,654.00L964.79,653.64L966.55,653.28L968.31,652.91L970.07,652.55L971.83,652.19L973.58,651.82L975.34,651.45L977.10,651.09' stroke='#ff0000' stroke-width='3.7' fill='none' stroke-linejoin='round' stroke-linecap='butt' clip-path='url(#clipe)'/>
<path d='M373.59,1001.96L373.33,999.84L373.09,997.72L372.88,995.61L372.68,993.51L372.51,991.41L372.36,989.32L372.23,987.24L372.13,985.16L372.04,983.09L371.98,981.03L371.94,978.98L371.92,976.93L371.92,974.89L371.94,972.85L371.99,970.82L372.05,968.81L372.13,966.79L372.24,964.79L372.36,962.79L372.51,960.80L372.67,958.82L372.86,956.84L373.07,954.87L373.29,952.91L373.54,950.96L373.80,949.01L374.08,947.07L374.39,945.14L374.71,943.22L375.05,941.30L375.41,939.40L375.79,937.50L376.19,935.60L376.61,933.72L377.04,931.84L377.49,929.97L377.96,928.11L378.45,926.26L378.96,924.42L379.49,922.58L380.03,920.75L380.59,918.93L381.17,917.12L381.76,915.31L382.37,913.52L383.00,911.73L383.65,909.95L384.31,908.17L384.99,906.41L385.69,904.66L386.40,902.91L387.13,901.17L387.87,899.44L388.63,897.72L389.41,896.01L390.20,894.30L391.01,892.61L391.83,890.92L392.67,889.24L393.53,887.57L394.40,885.91L395.28,884.25L396.18,882.61L397.10,880.98L398.03,879.35L398.97,877.73L399.93,876.12L400.90,874.52L401.89,872.93L402.89,871.35L403.90,869.78L404.93,868.21L405.98,866.66L407.03,865.11L408.10,863.58L409.18,862.05L410.28,860.53L411.39,859.02L412.51,857.52L413.65,856.03L414.79,854.55L415.95,853.08L417.13,851.62L418.31,850.17L419.51,848.72L420.72,847.29L421.94,845.87L423.17,844.45L424.41,843.05L425.67,841.65L426.94,840.27L428.22,838.89L429.51,837.53L430.81,836.17L432.12,834.82L433.44,833.49L434.78,832.16L436.12,830.84L437.48,829.54L438.84,828.24L440.22,826.95L441.60,825.68L443.00,824.41L444.40,823.15L445.82,821.91L447.24,820.67L448.68,819.45L450.12,818.23L451.57,817.02L453.03,815.83L454.50,814.64L455.98,813.46L457.47,812.30L458.97,811.14L460.47,809.99L461.99,808.85L463.51,807.72L465.04,806.60L466.58,805.49L468.13,804.38L469.68,803.29L471.24,802.21L472.81,801.13L474.39,800.06L475.97,799.00L477.57,797.95L479.16,796.91L480.77,795.88L482.38,794.85L484.00,793.83L485.63,792.82L487.26,791.82L488.90,790.83L490.55,789.84L492.20,788.87L493.86,787.90L495.52,786.93L497.19,785.98L498.86,785.03L500.54,784.09L502.23,783.16L503.92,782.23L505.62,781.31L507.32,780.40L509.03,779.50L510.74,778.60L512.46,777.71L514.18,776.82L515.90,775.94L517.63,775.07L519.37,774.21L521.11,773.35L522.85,772.50L524.60,771.65L526.35,770.81L528.10,769.98L529.86,769.15L531.62,768.33L533.38,767.51L535.15,766.70L536.92,765.89L538.70,765.09L540.47,764.30L542.25,763.51L544.03,762.73L545.82,761.95L547.61,761.18L549.40,760.41L551.19,759.64L552.98,758.89L554.78,758.13L556.57,757.38L558.37,756.64L560.17,755.90L561.98,755.16L563.78,754.43L565.58,753.70L567.39,752.98L569.20,752.26L571.01,751.55L572.81,750.84L574.62,750.13L576.43,749.43L578.24,748.73L580.05,748.03L581.87,747.34L583.68,746.66L585.49,745.97L587.30,745.29L589.12,744.61L590.93,743.94L592.75,743.27L594.56,742.61L596.38,741.94L598.20,741.28L600.01,740.63L601.83,739.98L603.65,739.33L605.47,738.68L607.29,738.04L609.11,737.41L610.93,736.77L612.75,736.14L614.57,735.51L616.39,734.89L618.22,734.27L620.04,733.65L621.86,733.04L623.69,732.43L625.51,731.82L627.34,731.21L629.16,730.61L630.99,730.01L632.82,729.42L634.65,728.83L636.47,728.24L638.30,727.65L640.13,727.07L641.96,726.49L643.79,725.91L645.62,725.34L647.45,724.77L649.28,724.20L651.12,723.64L652.95,723.08L654.78,722.52L656.62,721.96L658.45,721.41L660.29,720.86L662.12,720.31L663.96,719.77L665.79,719.23L667.63,718.69L669.47,718.15L671.30,717.62L673.14,717.09L674.98,716.56L676.82,716.04L678.66,715.51L680.50,714.99L682.34,714.48L684.18,713.96L686.02,713.45L687.86,712.94L689.71,712.43L691.55,711.93L693.39,711.43L695.24,710.93L697.08,710.43L698.92,709.93L700.77,709.44L702.61,708.95L704.46,708.46L706.31,707.98L708.15,707.49L710.00,707.01L711.85,706.54L713.70,706.06L715.54,705.58L717.39,705.11L719.24,704.64L721.09,704.18L722.94,703.71L724.79,703.25L726.64,702.79L728.50,702.33L730.35,701.87L732.20,701.41L734.05,700.96L735.91,700.51L737.76,700.06L739.61,699.61L741.47,699.17L743.32,698.73L745.18,698.29L747.03,697.85L748.89,697.41L750.75,696.97L752.60,696.54L754.46,696.11L756.32,695.68L758.17,695.25L760.03,694.82L761.89,694.39L763.75,693.97L765.61,693.55L767.47,693.13L769.33,692.71L771.19,692.29L773.05,691.88L774.91,691.46L776.77,691.05L778.64,690.64L780.50,690.23L782.36,689.82L784.22,689.42L786.09,689.01L787.95,688.61L789.81,688.21L791.68,687.80L793.54,687.41L795.41,687.01L797.27,686.61L799.14,686.21L801.01,685.82L802.87,685.43L804.74,685.04L806.61,684.64L808.47,684.26L810.34,683.87L812.21,683.48L814.08,683.09L815.95,682.71L817.82,682.32L819.68,681.94L821.55,681.56L823.42,681.18L825.29,680.80L827.17,680.42L829.04,680.04L830.91,679.67L832.78,679.29L834.65,678.91L836.52,678.54L838.39,678.17L840.27,677.79L842.14,677.42L844.01,677.05L845.89,676.68L847.76,676.31L849.64,675.94L851.51,675.57L853.38,675.21L855.26,674.84L857.13,674.47L859.01,674.11L860.89,673.74L862.76,673.38L864.64,673.01L866.51,672.65L868.39,672.29L870.27,671.92L872.15,671.56L874.02,671.20L875.90,670.84L877.78,670.48L879.66,670.12L881.54,669.76L883.41,669.40L885.29,669.04L887.17,668.68L889.05,668.32L890.93,667.96L892.81,667.61L894.69,667.25L896.57,666.89L898.45,666.53L900.33,666.18L902.21,665.82L904.10,665.46L905.98,665.10L907.86,664.75L909.74,664.39L911.62,664.03L913.51,663.68L915.39,663.32L917.27,662.96L919.15,662.61L921.04,662.25L922.92,661.89L924.80,661.53L926.69,661.18L928.57,660.82L930.46,660.46L932.34,660.10L934.23,659.74L936.11,659.39L938.00,659.03L939.88,658.67L941.77,658.31L943.65,657.95L945.54,657.59L947.42,657.23L949.31,656.87L951.19,656.51L953.08,656.14L954.97,655.78L956.85,655.42L958.74,655.06L960.63,654.69L962.52,654.33L964.40,653.96L966.29,653.60L968.18,653.23L970.07,652.87L971.95,652.50L973.84,652.13L975.73,651.76L977.62,651.39' stroke='#00c000' stroke-width='3.7' fill='none' stroke-linejoin='round' stroke-linecap='butt' clip-path='url(#clipe)'/>
<path d='M373.68,1112.32L373.56,1110.30L373.44,1108.28L373.32,1106.24L373.20,1104.19L373.09,1102.14L372.98,1100.07L372.86,1098.00L372.76,1095.92L372.65,1093.83L372.54,1091.73L372.44,1089.63L372.34,1087.52L372.25,1085.40L372.16,1083.27L372.07,1081.14L371.98,1079.00L371.90,1076.85L371.82,1074.69L371.75,1072.53L371.68,1070.37L371.61,1068.20L371.55,1066.02L371.49,1063.83L371.44,1061.65L371.40,1059.45L371.35,1057.26L371.32,1055.05L371.29,1052.85L371.26,1050.64L371.24,1048.42L371.23,1046.20L371.22,1043.98L371.22,1041.75L371.23,1039.52L371.24,1037.29L371.26,1035.06L371.28,1032.82L371.32,1030.58L371.36,1028.34L371.41,1026.10L371.46,1023.85L371.53,1021.60L371.60,1019.36L371.68,1017.11L371.76,1014.86L371.86,1012.61L371.97,1010.35L372.08,1008.10L372.20,1005.85L372.33,1003.60L372.47,1001.35L372.63,999.09L372.79,996.84L372.96,994.59L373.14,992.34L373.33,990.10L373.53,987.85L373.74,985.61L373.96,983.36L374.19,981.12L374.43,978.89L374.69,976.65L374.95,974.42L375.23,972.19L375.52,969.96L375.82,967.74L376.13,965.52L376.46,963.30L376.80,961.09L377.14,958.88L377.51,956.67L377.88,954.47L378.27,952.28L378.67,950.09L379.08,947.90L379.51,945.72L379.95,943.55L380.41,941.38L380.88,939.22L381.36,937.06L381.86,934.91L382.37,932.77L382.90,930.63L383.44,928.50L383.99,926.38L384.57,924.26L385.15,922.16L385.75,920.06L386.37,917.96L387.01,915.88L387.66,913.80L388.32,911.73L389.00,909.68L389.70,907.63L390.42,905.59L391.15,903.55L391.90,901.53L392.66,899.52L393.45,897.52L394.25,895.53L395.06,893.54L395.90,891.57L396.75,889.61L397.63,887.66L398.52,885.73L399.43,883.80L400.35,881.88L401.30,879.98L402.26,878.09L403.25,876.21L404.25,874.34L405.27,872.49L406.32,870.65L407.38,868.82L408.46,867.00L409.56,865.20L410.69,863.41L411.83,861.64L412.99,859.87L414.18,858.13L415.38,856.40L416.61,854.68L417.85,852.97L419.12,851.29L420.41,849.61L421.73,847.96L423.06,846.31L424.42,844.69L425.79,843.08L427.19,841.48L428.61,839.90L430.05,838.33L431.51,836.78L432.98,835.24L434.48,833.72L435.99,832.21L437.53,830.72L439.08,829.24L440.65,827.77L442.23,826.32L443.84,824.88L445.46,823.45L447.09,822.04L448.75,820.63L450.41,819.25L452.10,817.87L453.79,816.51L455.51,815.16L457.23,813.82L458.97,812.50L460.73,811.18L462.49,809.88L464.27,808.59L466.06,807.31L467.87,806.05L469.68,804.79L471.51,803.54L473.35,802.31L475.20,801.09L477.06,799.88L478.92,798.67L480.80,797.48L482.69,796.30L484.59,795.13L486.49,793.97L488.41,792.82L490.33,791.67L492.25,790.54L494.19,789.42L496.13,788.30L498.08,787.20L500.04,786.10L502.00,785.01L503.96,783.93L505.94,782.86L507.91,781.80L509.89,780.75L511.88,779.70L513.86,778.66L515.86,777.63L517.85,776.61L519.85,775.59L521.85,774.58L523.85,773.58L525.85,772.59L527.85,771.60L529.86,770.62L531.87,769.65L533.88,768.68L535.89,767.72L537.90,766.76L539.91,765.82L541.93,764.88L543.95,763.94L545.96,763.02L547.98,762.10L550.01,761.18L552.03,760.27L554.06,759.37L556.08,758.48L558.11,757.59L560.14,756.71L562.17,755.83L564.20,754.96L566.24,754.10L568.27,753.24L570.31,752.39L572.35,751.54L574.39,750.70L576.43,749.87L578.47,749.04L580.52,748.22L582.56,747.40L584.61,746.59L586.66,745.79L588.71,744.99L590.76,744.19L592.81,743.41L594.86,742.62L596.92,741.85L598.98,741.08L601.03,740.31L603.09,739.55L605.15,738.80L607.22,738.05L609.28,737.30L611.34,736.56L613.41,735.83L615.48,735.10L617.54,734.38L619.61,733.66L621.68,732.94L623.76,732.23L625.83,731.53L627.90,730.83L629.98,730.14L632.06,729.45L634.13,728.76L636.21,728.08L638.29,727.41L640.37,726.74L642.46,726.07L644.54,725.41L646.63,724.75L648.71,724.10L650.80,723.45L652.89,722.81L654.98,722.17L657.07,721.54L659.16,720.91L661.25,720.28L663.34,719.66L665.44,719.04L667.53,718.43L669.63,717.82L671.73,717.21L673.83,716.61L675.93,716.01L678.03,715.42L680.13,714.83L682.23,714.24L684.34,713.66L686.44,713.08L688.55,712.51L690.65,711.94L692.76,711.37L694.87,710.80L696.98,710.24L699.09,709.69L701.20,709.13L703.31,708.58L705.42,708.04L707.54,707.49L709.65,706.95L711.76,706.41L713.88,705.88L716.00,705.35L718.12,704.82L720.23,704.30L722.35,703.78L724.47,703.26L726.59,702.74L728.72,702.23L730.84,701.72L732.96,701.21L735.09,700.71L737.21,700.21L739.34,699.71L741.46,699.21L743.59,698.72L745.72,698.23L747.84,697.74L749.97,697.25L752.10,696.77L754.23,696.29L756.36,695.81L758.49,695.33L760.63,694.86L762.76,694.39L764.89,693.92L767.03,693.45L769.16,692.98L771.30,692.52L773.43,692.06L775.57,691.60L777.70,691.14L779.84,690.69L781.98,690.23L784.12,689.78L786.26,689.33L788.40,688.88L790.54,688.44L792.68,687.99L794.82,687.55L796.96,687.11L799.10,686.67L801.24,686.23L803.39,685.79L805.53,685.35L807.67,684.92L809.82,684.49L811.96,684.05L814.11,683.62L816.25,683.19L818.40,682.76L820.54,682.34L822.69,681.91L824.84,681.49L826.98,681.06L829.13,680.64L831.28,680.22L833.43,679.80L835.58,679.37L837.72,678.96L839.87,678.54L842.02,678.12L844.17,677.70L846.32,677.28L848.47,676.87L850.62,676.45L852.77,676.03L854.92,675.62L857.07,675.21L859.22,674.79L861.38,674.38L863.53,673.96L865.68,673.55L867.83,673.14L869.98,672.72L872.14,672.31L874.29,671.90L876.44,671.49L878.59,671.07L880.75,670.66L882.90,670.25L885.05,669.83L887.20,669.42L889.36,669.01L891.51,668.59L893.66,668.18L895.82,667.76L897.97,667.35L900.12,666.93L902.28,666.52L904.43,666.10L906.58,665.69L908.74,665.27L910.89,664.85L913.04,664.43L915.20,664.01L917.35,663.59L919.50,663.17L921.66,662.75L923.81,662.33L925.96,661.90L928.12,661.48L930.27,661.05L932.42,660.63L934.58,660.20L936.73,659.77L938.88,659.34L941.03,658.91L943.18,658.48L945.34,658.05L947.49,657.61L949.64,657.17L951.79,656.74L953.94,656.30L956.09,655.86L958.24,655.41L960.40,654.97L962.55,654.52L964.70,654.08L966.85,653.63L969.00,653.18L971.14,652.73L973.29,652.27L975.44,651.82L977.59,651.36' stroke='#ff00ff' stroke-width='3.7' fill='none' stroke-linejoin='round' stroke-linecap='butt' clip-path='url(#clipe)'/>
<path d='M1101.00,672.65L1103.54,674.10L1106.07,675.50L1108.61,676.85L1111.14,678.15L1113.68,679.41L1116.21,680.62L1118.75,681.79L1121.28,682.92L1123.82,684.01L1126.36,685.07L1128.89,686.09L1131.43,687.07L1133.96,688.03L1136.50,688.95L1139.03,689.85L1141.57,690.72L1144.10,691.56L1146.64,692.38L1149.18,693.17L1151.71,693.93L1154.25,694.68L1156.78,695.40L1159.32,696.10L1161.85,696.79L1164.39,697.45L1166.92,698.09L1169.46,698.72L1172.00,699.32L1174.53,699.92L1177.07,700.49L1179.60,701.05L1182.14,701.60L1184.67,702.13L1187.21,702.64L1189.74,703.14L1192.28,703.63L1194.82,704.11L1197.35,704.58L1199.89,705.03L1202.42,705.47L1204.96,705.90L1207.49,706.32L1210.03,706.74L1212.56,707.14L1215.10,707.53L1217.64,707.91L1220.17,708.28L1222.71,708.64L1225.24,709.00L1227.78,709.35L1230.31,709.69L1232.85,710.02L1235.38,710.34L1237.92,710.66L1240.46,710.97L1242.99,711.27L1245.53,711.57L1248.06,711.86L1250.60,712.14L1253.13,712.42L1255.67,712.69L1258.21,712.96L1260.74,713.22L1263.28,713.47L1265.81,713.72L1268.35,713.97L1270.88,714.21L1273.42,714.44L1275.95,714.67L1278.49,714.90L1281.03,715.12L1283.56,715.33L1286.10,715.55L1288.63,715.76L1291.17,715.96L1293.70,716.16L1296.24,716.36L1298.77,716.55L1301.31,716.74L1303.85,716.92L1306.38,717.11L1308.92,717.28L1311.45,717.46L1313.99,717.63L1316.52,717.80L1319.06,717.97L1321.59,718.13L1324.13,718.29L1326.67,718.45L1329.20,718.60L1331.74,718.75L1334.27,718.90L1336.81,719.05L1339.34,719.19L1341.88,719.34L1344.41,719.48L1346.95,719.61L1349.49,719.75L1352.02,719.88L1354.56,720.01L1357.09,720.14L1359.63,720.26L1362.16,720.39L1364.70,720.51L1367.23,720.63L1369.77,720.75L1372.31,720.86L1374.84,720.98L1377.38,721.09L1379.91,721.20L1382.45,721.31L1384.98,721.42L1387.52,721.52L1390.05,721.62L1392.59,721.73L1395.13,721.83L1397.66,721.93L1400.20,722.02L1402.73,722.12L1405.27,722.22L1407.80,722.31L1410.34,722.40L1412.87,722.49L1415.41,722.58L1417.95,722.67L1420.48,722.75L1423.02,722.84L1425.55,722.92L1428.09,723.01L1430.62,723.09L1433.16,723.17L1435.69,723.25L1438.23,723.33L1440.77,723.40L1443.30,723.48L1445.84,723.56L1448.37,723.63L1450.91,723.70L1453.44,723.78L1455.98,723.85L1458.51,723.92L1461.05,723.99L1463.59,724.05L1466.12,724.12L1468.66,724.19L1471.19,724.25L1473.73,724.32L1476.26,724.38L1478.80,724.44L1481.33,724.51L1483.87,724.57L1486.41,724.63L1488.94,724.69L1491.48,724.75L1494.01,724.81L1496.55,724.86L1499.08,724.92L1501.62,724.98L1504.15,725.03L1506.69,725.09L1509.23,725.14L1511.76,725.19L1514.30,725.25L1516.83,725.30L1519.37,725.35L1521.90,725.40L1524.44,725.45L1526.97,725.50L1529.51,725.55L1532.05,725.60L1534.58,725.65L1537.12,725.69L1539.65,725.74L1542.19,725.79L1544.72,725.83L1547.26,725.88L1549.79,725.92L1552.33,725.96L1554.87,726.01L1557.40,726.05L1559.94,726.09L1562.47,726.14L1565.01,726.18L1567.54,726.22L1570.08,726.26L1572.62,726.30L1575.15,726.34L1577.69,726.38L1580.22,726.42L1582.76,726.45L1585.29,726.49L1587.83,726.53L1590.36,726.57L1592.90,726.60L1595.44,726.64L1597.97,726.68L1600.51,726.71L1603.04,726.75L1605.58,726.78L1608.11,726.82L1610.65,726.85L1613.18,726.88L1615.72,726.92L1618.26,726.95L1620.79,726.98L1623.33,727.02L1625.86,727.05L1628.40,727.08L1630.93,727.11L1633.47,727.14L1636.00,727.17L1638.54,727.20L1641.08,727.23L1643.61,727.26L1646.15,727.29L1648.68,727.32L1651.22,727.35L1653.75,727.38L1656.29,727.41L1658.82,727.43L1661.36,727.46L1663.90,727.49L1666.43,727.52L1668.97,727.54L1671.50,727.57L1674.04,727.60L1676.57,727.62L1679.11,727.65L1681.64,727.67L1684.18,727.70L1686.72,727.72L1689.25,727.75L1691.79,727.77L1694.32,727.80L1696.86,727.82L1699.39,727.85L1701.93,727.87L1704.46,727.89L1707.00,727.92' stroke='#000' stroke-width='3.3' fill='none' stroke-linejoin='round' stroke-linecap='butt' clip-path='url(#clipf)'/>
<path d='M1104.31,1116.05L1104.38,1113.61L1104.45,1111.17L1104.51,1108.73L1104.57,1106.29L1104.63,1103.85L1104.69,1101.41L1104.74,1098.97L1104.79,1096.54L1104.84,1094.10L1104.89,1091.66L1104.93,1089.23L1104.97,1086.79L1105.01,1084.36L1105.05,1081.92L1105.08,1079.49L1105.12,1077.05L1105.15,1074.62L1105.17,1072.19L1105.20,1069.76L1105.23,1067.33L1105.25,1064.89L1105.27,1062.46L1105.29,1060.03L1105.31,1057.60L1105.33,1055.17L1105.34,1052.74L1105.36,1050.31L1105.37,1047.88L1105.38,1045.46L1105.39,1043.03L1105.40,1040.60L1105.41,1038.17L1105.42,1035.74L1105.43,1033.32L1105.43,1030.89L1105.44,1028.46L1105.44,1026.04L1105.45,1023.61L1105.45,1021.19L1105.46,1018.76L1105.46,1016.33L1105.47,1013.91L1105.47,1011.48L1105.47,1009.06L1105.48,1006.63L1105.48,1004.21L1105.48,1001.78L1105.49,999.36L1105.49,996.94L1105.49,994.51L1105.50,992.09L1105.50,989.66L1105.51,987.24L1105.52,984.82L1105.52,982.39L1105.53,979.97L1105.54,977.55L1105.55,975.12L1105.56,972.70L1105.57,970.28L1105.59,967.85L1105.60,965.43L1105.62,963.00L1105.63,960.58L1105.65,958.16L1105.67,955.73L1105.69,953.31L1105.71,950.89L1105.74,948.46L1105.77,946.04L1105.79,943.62L1105.82,941.19L1105.86,938.77L1105.89,936.34L1105.93,933.92L1105.97,931.49L1106.01,929.07L1106.05,926.65L1106.09,924.22L1106.14,921.80L1106.19,919.37L1106.25,916.95L1106.30,914.52L1106.36,912.09L1106.42,909.67L1106.49,907.24L1106.56,904.82L1106.63,902.39L1106.70,899.96L1106.78,897.53L1106.86,895.11L1106.94,892.68L1107.03,890.25L1107.12,887.82L1107.21,885.39L1107.31,882.97L1107.41,880.54L1107.51,878.11L1107.62,875.68L1107.74,873.25L1107.85,870.82L1107.97,868.38L1108.10,865.95L1108.23,863.52L1108.36,861.09L1108.50,858.66L1108.64,856.22L1108.79,853.79L1108.94,851.36L1109.10,848.92L1109.26,846.49L1109.42,844.05L1109.59,841.61L1109.77,839.18L1109.95,836.74L1110.13,834.31L1110.33,831.87L1110.53,829.43L1110.74,827.00L1110.96,824.56L1111.18,822.13L1111.42,819.70L1111.67,817.27L1111.93,814.84L1112.20,812.42L1112.48,809.99L1112.78,807.57L1113.09,805.16L1113.42,802.74L1113.76,800.34L1114.12,797.93L1114.50,795.53L1114.89,793.13L1115.30,790.74L1115.73,788.35L1116.18,785.97L1116.65,783.59L1117.14,781.22L1117.65,778.85L1118.18,776.49L1118.74,774.14L1119.32,771.79L1119.92,769.46L1120.55,767.12L1121.21,764.80L1121.89,762.48L1122.59,760.17L1123.33,757.87L1124.09,755.58L1124.88,753.30L1125.70,751.02L1126.56,748.76L1127.44,746.51L1128.35,744.26L1129.30,742.03L1130.28,739.80L1131.29,737.59L1132.33,735.38L1133.42,733.20L1134.55,731.04L1135.76,728.93L1137.05,726.90L1138.45,724.95L1139.96,723.11L1141.61,721.41L1143.41,719.85L1145.36,718.44L1147.42,717.17L1149.56,716.02L1151.76,715.00L1154.00,714.08L1156.26,713.26L1158.54,712.54L1160.83,711.91L1163.15,711.37L1165.48,710.90L1167.82,710.51L1170.19,710.20L1172.56,709.94L1174.95,709.75L1177.35,709.61L1179.75,709.53L1182.17,709.49L1184.60,709.49L1187.03,709.52L1189.47,709.58L1191.91,709.67L1194.36,709.78L1196.81,709.90L1199.26,710.04L1201.71,710.17L1204.16,710.31L1206.61,710.45L1209.06,710.59L1211.51,710.73L1213.96,710.86L1216.41,711.00L1218.86,711.14L1221.30,711.27L1223.75,711.41L1226.20,711.54L1228.64,711.68L1231.09,711.81L1233.53,711.95L1235.97,712.08L1238.42,712.22L1240.86,712.35L1243.30,712.48L1245.75,712.62L1248.19,712.75L1250.63,712.88L1253.07,713.01L1255.51,713.15L1257.95,713.28L1260.39,713.41L1262.83,713.54L1265.27,713.67L1267.70,713.80L1270.14,713.93L1272.58,714.06L1275.01,714.19L1277.45,714.32L1279.89,714.45L1282.32,714.57L1284.76,714.70L1287.19,714.83L1289.63,714.95L1292.06,715.08L1294.49,715.21L1296.93,715.33L1299.36,715.46L1301.79,715.58L1304.22,715.71L1306.65,715.83L1309.09,715.95L1311.52,716.08L1313.95,716.20L1316.38,716.32L1318.81,716.44L1321.24,716.57L1323.67,716.69L1326.10,716.81L1328.52,716.93L1330.95,717.05L1333.38,717.16L1335.81,717.28L1338.24,717.40L1340.66,717.52L1343.09,717.64L1345.52,717.75L1347.94,717.87L1350.37,717.99L1352.80,718.10L1355.22,718.22L1357.65,718.33L1360.07,718.44L1362.50,718.56L1364.92,718.67L1367.35,718.78L1369.77,718.89L1372.19,719.00L1374.62,719.11L1377.04,719.22L1379.47,719.33L1381.89,719.44L1384.31,719.55L1386.74,719.66L1389.16,719.77L1391.58,719.87L1394.00,719.98L1396.43,720.09L1398.85,720.19L1401.27,720.30L1403.69,720.40L1406.11,720.50L1408.53,720.61L1410.96,720.71L1413.38,720.81L1415.80,720.91L1418.22,721.01L1420.64,721.11L1423.06,721.21L1425.48,721.31L1427.90,721.41L1430.32,721.50L1432.75,721.60L1435.17,721.70L1437.59,721.79L1440.01,721.89L1442.43,721.98L1444.85,722.07L1447.27,722.17L1449.69,722.26L1452.11,722.35L1454.53,722.44L1456.95,722.53L1459.37,722.62L1461.79,722.71L1464.21,722.80L1466.63,722.89L1469.05,722.97L1471.47,723.06L1473.89,723.15L1476.31,723.23L1478.73,723.31L1481.15,723.40L1483.57,723.48L1485.99,723.56L1488.41,723.64L1490.83,723.72L1493.25,723.80L1495.67,723.88L1498.09,723.96L1500.51,724.04L1502.93,724.12L1505.36,724.19L1507.78,724.27L1510.20,724.34L1512.62,724.42L1515.04,724.49L1517.46,724.56L1519.88,724.63L1522.30,724.70L1524.73,724.77L1527.15,724.84L1529.57,724.91L1531.99,724.98L1534.41,725.05L1536.84,725.11L1539.26,725.18L1541.68,725.24L1544.11,725.30L1546.53,725.37L1548.95,725.43L1551.38,725.49L1553.80,725.55L1556.22,725.61L1558.65,725.67L1561.07,725.73L1563.50,725.78L1565.92,725.84L1568.35,725.90L1570.77,725.95L1573.20,726.00L1575.62,726.06L1578.05,726.11L1580.47,726.16L1582.90,726.21L1585.33,726.26L1587.75,726.31L1590.18,726.35L1592.61,726.40L1595.04,726.45L1597.46,726.49L1599.89,726.54L1602.32,726.58L1604.75,726.62L1607.18,726.66L1609.61,726.70L1612.04,726.74L1614.47,726.78L1616.90,726.82L1619.33,726.85L1621.76,726.89L1624.19,726.92L1626.62,726.96L1629.06,726.99L1631.49,727.02L1633.92,727.05L1636.36,727.08L1638.79,727.11L1641.22,727.14L1643.66,727.17L1646.09,727.19L1648.53,727.22L1650.96,727.24L1653.40,727.27L1655.84,727.29L1658.27,727.31L1660.71,727.33L1663.15,727.35L1665.59,727.37L1668.03,727.38L1670.47,727.40L1672.90,727.41L1675.34,727.43L1677.79,727.44L1680.23,727.45L1682.67,727.46L1685.11,727.47L1687.55,727.48L1690.00,727.49L1692.44,727.50L1694.88,727.50L1697.33,727.51L1699.77,727.51L1702.22,727.51L1704.66,727.51L1707.11,727.51' stroke='#0000ff' stroke-width='3.4' fill='none' stroke-linejoin='round' stroke-linecap='butt' clip-path='url(#clipf)'/>
<path d='M1100.58,873.53L1100.71,871.68L1100.83,869.83L1100.94,867.98L1101.05,866.13L1101.15,864.29L1101.25,862.46L1101.34,860.62L1101.43,858.79L1101.52,856.96L1101.61,855.14L1101.69,853.32L1101.78,851.50L1101.86,849.68L1101.94,847.87L1102.02,846.06L1102.10,844.25L1102.19,842.44L1102.27,840.63L1102.36,838.83L1102.45,837.03L1102.54,835.22L1102.63,833.42L1102.73,831.62L1102.83,829.82L1102.94,828.03L1103.05,826.23L1103.17,824.43L1103.29,822.63L1103.42,820.84L1103.56,819.04L1103.70,817.24L1103.86,815.45L1104.02,813.65L1104.18,811.85L1104.36,810.05L1104.55,808.25L1104.75,806.45L1104.96,804.65L1105.18,802.84L1105.41,801.04L1105.65,799.23L1105.90,797.42L1106.17,795.61L1106.45,793.80L1106.75,791.99L1107.06,790.17L1107.38,788.35L1107.72,786.53L1108.08,784.70L1108.45,782.87L1108.83,781.04L1109.24,779.21L1109.66,777.37L1110.10,775.54L1110.56,773.70L1111.04,771.87L1111.54,770.04L1112.06,768.22L1112.60,766.41L1113.17,764.60L1113.76,762.81L1114.37,761.03L1115.01,759.26L1115.67,757.51L1116.36,755.78L1117.07,754.06L1117.81,752.37L1118.58,750.70L1119.38,749.05L1120.21,747.43L1121.07,745.83L1121.96,744.27L1122.88,742.73L1123.84,741.22L1124.82,739.75L1125.84,738.32L1126.90,736.92L1127.99,735.55L1129.11,734.23L1130.28,732.95L1131.48,731.72L1132.71,730.52L1133.99,729.38L1135.30,728.28L1136.66,727.23L1138.05,726.23L1139.49,725.29L1140.97,724.39L1142.48,723.55L1144.04,722.76L1145.63,722.02L1147.25,721.33L1148.91,720.68L1150.59,720.07L1152.30,719.50L1154.04,718.98L1155.80,718.49L1157.58,718.03L1159.39,717.62L1161.21,717.23L1163.04,716.87L1164.89,716.55L1166.75,716.25L1168.62,715.98L1170.50,715.73L1172.38,715.50L1174.27,715.30L1176.16,715.11L1178.05,714.94L1179.94,714.79L1181.82,714.65L1183.70,714.52L1185.57,714.41L1187.45,714.31L1189.31,714.22L1191.18,714.14L1193.04,714.07L1194.90,714.02L1196.75,713.97L1198.60,713.94L1200.45,713.92L1202.30,713.90L1204.14,713.90L1205.98,713.90L1207.82,713.91L1209.65,713.93L1211.48,713.96L1213.31,714.00L1215.14,714.04L1216.97,714.09L1218.79,714.15L1220.61,714.21L1222.43,714.28L1224.25,714.35L1226.07,714.43L1227.89,714.51L1229.70,714.60L1231.52,714.69L1233.33,714.79L1235.14,714.89L1236.95,714.99L1238.76,715.09L1240.57,715.19L1242.38,715.30L1244.19,715.41L1246.00,715.52L1247.81,715.63L1249.62,715.74L1251.42,715.85L1253.23,715.96L1255.04,716.07L1256.85,716.17L1258.66,716.28L1260.47,716.39L1262.28,716.49L1264.09,716.60L1265.90,716.70L1267.71,716.81L1269.52,716.91L1271.33,717.01L1273.15,717.12L1274.96,717.22L1276.77,717.32L1278.58,717.42L1280.39,717.51L1282.21,717.61L1284.02,717.71L1285.83,717.81L1287.65,717.90L1289.46,718.00L1291.27,718.09L1293.09,718.19L1294.90,718.28L1296.72,718.37L1298.53,718.47L1300.35,718.56L1302.16,718.65L1303.98,718.74L1305.79,718.83L1307.61,718.92L1309.42,719.00L1311.24,719.09L1313.06,719.18L1314.87,719.27L1316.69,719.35L1318.51,719.44L1320.32,719.52L1322.14,719.60L1323.96,719.69L1325.78,719.77L1327.59,719.85L1329.41,719.93L1331.23,720.01L1333.05,720.09L1334.87,720.17L1336.68,720.25L1338.50,720.33L1340.32,720.41L1342.14,720.48L1343.96,720.56L1345.78,720.64L1347.60,720.71L1349.42,720.79L1351.24,720.86L1353.06,720.93L1354.88,721.01L1356.70,721.08L1358.52,721.15L1360.34,721.22L1362.16,721.29L1363.99,721.36L1365.81,721.43L1367.63,721.50L1369.45,721.57L1371.27,721.64L1373.09,721.71L1374.92,721.77L1376.74,721.84L1378.56,721.90L1380.38,721.97L1382.20,722.03L1384.03,722.10L1385.85,722.16L1387.67,722.23L1389.50,722.29L1391.32,722.35L1393.14,722.41L1394.97,722.47L1396.79,722.53L1398.61,722.59L1400.44,722.65L1402.26,722.71L1404.08,722.77L1405.91,722.83L1407.73,722.89L1409.56,722.94L1411.38,723.00L1413.21,723.06L1415.03,723.11L1416.86,723.17L1418.68,723.22L1420.50,723.28L1422.33,723.33L1424.15,723.38L1425.98,723.44L1427.81,723.49L1429.63,723.54L1431.46,723.59L1433.28,723.64L1435.11,723.69L1436.93,723.74L1438.76,723.79L1440.58,723.84L1442.41,723.89L1444.24,723.94L1446.06,723.99L1447.89,724.03L1449.71,724.08L1451.54,724.13L1453.37,724.17L1455.19,724.22L1457.02,724.26L1458.84,724.31L1460.67,724.35L1462.50,724.40L1464.32,724.44L1466.15,724.49L1467.98,724.53L1469.80,724.57L1471.63,724.61L1473.46,724.65L1475.28,724.70L1477.11,724.74L1478.94,724.78L1480.76,724.82L1482.59,724.86L1484.42,724.90L1486.25,724.94L1488.07,724.98L1489.90,725.01L1491.73,725.05L1493.55,725.09L1495.38,725.13L1497.21,725.16L1499.03,725.20L1500.86,725.24L1502.69,725.27L1504.52,725.31L1506.34,725.34L1508.17,725.38L1510.00,725.41L1511.82,725.45L1513.65,725.48L1515.48,725.52L1517.31,725.55L1519.13,725.58L1520.96,725.61L1522.79,725.65L1524.61,725.68L1526.44,725.71L1528.27,725.74L1530.10,725.77L1531.92,725.80L1533.75,725.83L1535.58,725.86L1537.40,725.89L1539.23,725.92L1541.06,725.95L1542.88,725.98L1544.71,726.01L1546.54,726.04L1548.37,726.07L1550.19,726.10L1552.02,726.12L1553.85,726.15L1555.67,726.18L1557.50,726.21L1559.32,726.23L1561.15,726.26L1562.98,726.29L1564.80,726.31L1566.63,726.34L1568.46,726.36L1570.28,726.39L1572.11,726.41L1573.94,726.44L1575.76,726.46L1577.59,726.49L1579.41,726.51L1581.24,726.54L1583.06,726.56L1584.89,726.58L1586.72,726.61L1588.54,726.63L1590.37,726.65L1592.19,726.68L1594.02,726.70L1595.84,726.72L1597.67,726.74L1599.49,726.76L1601.32,726.79L1603.14,726.81L1604.97,726.83L1606.79,726.85L1608.62,726.87L1610.44,726.89L1612.27,726.91L1614.09,726.93L1615.91,726.95L1617.74,726.97L1619.56,726.99L1621.39,727.01L1623.21,727.03L1625.03,727.05L1626.86,727.07L1628.68,727.09L1630.50,727.11L1632.33,727.13L1634.15,727.15L1635.97,727.17L1637.80,727.19L1639.62,727.20L1641.44,727.22L1643.26,727.24L1645.09,727.26L1646.91,727.28L1648.73,727.30L1650.55,727.31L1652.37,727.33L1654.20,727.35L1656.02,727.37L1657.84,727.38L1659.66,727.40L1661.48,727.42L1663.30,727.43L1665.12,727.45L1666.94,727.47L1668.76,727.49L1670.58,727.50L1672.40,727.52L1674.22,727.54L1676.04,727.55L1677.86,727.57L1679.68,727.58L1681.50,727.60L1683.32,727.62L1685.14,727.63L1686.96,727.65L1688.78,727.67L1690.60,727.68L1692.41,727.70L1694.23,727.71L1696.05,727.73L1697.87,727.75L1699.69,727.76L1701.50,727.78L1703.32,727.79L1705.14,727.81L1706.95,727.82' stroke='#ff0000' stroke-width='3.4' fill='none' stroke-linejoin='round' stroke-linecap='butt' clip-path='url(#clipf)'/>
<path d='M1100.45,1036.69L1100.46,1034.44L1100.47,1032.20L1100.48,1029.95L1100.49,1027.71L1100.50,1025.47L1100.50,1023.23L1100.51,1020.99L1100.51,1018.75L1100.52,1016.51L1100.53,1014.27L1100.53,1012.04L1100.54,1009.80L1100.54,1007.57L1100.55,1005.33L1100.55,1003.10L1100.56,1000.87L1100.56,998.64L1100.57,996.41L1100.57,994.18L1100.58,991.95L1100.59,989.72L1100.59,987.50L1100.60,985.27L1100.61,983.04L1100.62,980.82L1100.62,978.60L1100.63,976.37L1100.64,974.15L1100.65,971.93L1100.67,969.71L1100.68,967.48L1100.69,965.26L1100.71,963.04L1100.72,960.82L1100.74,958.60L1100.76,956.39L1100.77,954.17L1100.79,951.95L1100.82,949.73L1100.84,947.51L1100.86,945.30L1100.89,943.08L1100.91,940.86L1100.94,938.65L1100.97,936.43L1101.01,934.22L1101.04,932.00L1101.07,929.79L1101.11,927.57L1101.15,925.36L1101.19,923.14L1101.23,920.93L1101.28,918.71L1101.32,916.50L1101.37,914.28L1101.42,912.07L1101.48,909.85L1101.53,907.64L1101.59,905.42L1101.65,903.21L1101.72,900.99L1101.78,898.78L1101.85,896.56L1101.92,894.34L1101.99,892.13L1102.07,889.91L1102.15,887.70L1102.23,885.48L1102.31,883.26L1102.40,881.04L1102.49,878.83L1102.58,876.61L1102.68,874.39L1102.78,872.17L1102.88,869.95L1102.99,867.73L1103.10,865.51L1103.21,863.29L1103.33,861.07L1103.45,858.85L1103.57,856.63L1103.70,854.40L1103.83,852.18L1103.96,849.96L1104.10,847.73L1104.24,845.51L1104.39,843.28L1104.53,841.05L1104.69,838.82L1104.84,836.60L1105.01,834.37L1105.17,832.14L1105.34,829.91L1105.51,827.67L1105.69,825.44L1105.87,823.21L1106.06,820.97L1106.25,818.74L1106.45,816.50L1106.65,814.27L1106.86,812.03L1107.08,809.80L1107.31,807.56L1107.56,805.33L1107.81,803.10L1108.08,800.87L1108.37,798.64L1108.67,796.42L1108.99,794.20L1109.33,791.98L1109.69,789.76L1110.07,787.56L1110.47,785.35L1110.90,783.15L1111.35,780.96L1111.83,778.77L1112.34,776.59L1112.88,774.41L1113.44,772.24L1114.04,770.08L1114.67,767.93L1115.33,765.78L1116.03,763.64L1116.77,761.51L1117.54,759.39L1118.35,757.29L1119.20,755.19L1120.10,753.12L1121.04,751.07L1122.02,749.06L1123.06,747.07L1124.14,745.13L1125.27,743.23L1126.46,741.38L1127.71,739.58L1129.01,737.84L1130.36,736.17L1131.78,734.56L1133.26,733.02L1134.81,731.57L1136.42,730.19L1138.10,728.89L1139.84,727.68L1141.63,726.55L1143.49,725.48L1145.39,724.49L1147.34,723.57L1149.33,722.71L1151.36,721.91L1153.42,721.17L1155.52,720.49L1157.65,719.86L1159.80,719.27L1161.97,718.74L1164.16,718.24L1166.36,717.79L1168.57,717.37L1170.79,716.98L1173.01,716.63L1175.23,716.30L1177.45,716.00L1179.67,715.72L1181.90,715.48L1184.12,715.26L1186.34,715.06L1188.57,714.88L1190.79,714.73L1193.02,714.60L1195.24,714.49L1197.47,714.40L1199.70,714.33L1201.92,714.28L1204.15,714.24L1206.38,714.22L1208.61,714.22L1210.84,714.24L1213.07,714.26L1215.29,714.30L1217.52,714.36L1219.75,714.42L1221.98,714.50L1224.22,714.58L1226.45,714.68L1228.68,714.78L1230.91,714.89L1233.14,715.01L1235.37,715.13L1237.60,715.26L1239.83,715.40L1242.06,715.53L1244.29,715.67L1246.52,715.81L1248.75,715.95L1250.98,716.09L1253.21,716.24L1255.45,716.38L1257.68,716.51L1259.90,716.65L1262.13,716.79L1264.36,716.92L1266.59,717.05L1268.82,717.18L1271.05,717.31L1273.28,717.44L1275.51,717.57L1277.74,717.70L1279.97,717.82L1282.19,717.95L1284.42,718.07L1286.65,718.19L1288.88,718.31L1291.10,718.43L1293.33,718.55L1295.56,718.67L1297.79,718.78L1300.01,718.90L1302.24,719.01L1304.47,719.12L1306.69,719.23L1308.92,719.34L1311.15,719.45L1313.37,719.56L1315.60,719.66L1317.82,719.77L1320.05,719.87L1322.28,719.98L1324.50,720.08L1326.73,720.18L1328.95,720.28L1331.18,720.38L1333.40,720.48L1335.63,720.57L1337.85,720.67L1340.08,720.76L1342.30,720.86L1344.53,720.95L1346.75,721.04L1348.97,721.13L1351.20,721.22L1353.42,721.31L1355.65,721.40L1357.87,721.48L1360.09,721.57L1362.32,721.65L1364.54,721.74L1366.77,721.82L1368.99,721.90L1371.21,721.98L1373.44,722.06L1375.66,722.14L1377.88,722.22L1380.11,722.30L1382.33,722.37L1384.55,722.45L1386.77,722.52L1389.00,722.60L1391.22,722.67L1393.44,722.74L1395.66,722.81L1397.89,722.88L1400.11,722.95L1402.33,723.02L1404.55,723.09L1406.78,723.16L1409.00,723.22L1411.22,723.29L1413.44,723.35L1415.66,723.42L1417.89,723.48L1420.11,723.54L1422.33,723.60L1424.55,723.66L1426.77,723.72L1429.00,723.78L1431.22,723.84L1433.44,723.90L1435.66,723.96L1437.88,724.01L1440.10,724.07L1442.33,724.13L1444.55,724.18L1446.77,724.23L1448.99,724.29L1451.21,724.34L1453.43,724.39L1455.66,724.44L1457.88,724.49L1460.10,724.54L1462.32,724.59L1464.54,724.64L1466.76,724.69L1468.98,724.74L1471.21,724.78L1473.43,724.83L1475.65,724.87L1477.87,724.92L1480.09,724.96L1482.31,725.01L1484.53,725.05L1486.76,725.09L1488.98,725.14L1491.20,725.18L1493.42,725.22L1495.64,725.26L1497.86,725.30L1500.09,725.34L1502.31,725.38L1504.53,725.42L1506.75,725.46L1508.97,725.50L1511.19,725.53L1513.42,725.57L1515.64,725.61L1517.86,725.64L1520.08,725.68L1522.30,725.72L1524.52,725.75L1526.75,725.79L1528.97,725.82L1531.19,725.85L1533.41,725.89L1535.64,725.92L1537.86,725.95L1540.08,725.99L1542.30,726.02L1544.52,726.05L1546.75,726.08L1548.97,726.11L1551.19,726.14L1553.41,726.17L1555.64,726.20L1557.86,726.23L1560.08,726.26L1562.31,726.29L1564.53,726.32L1566.75,726.35L1568.98,726.38L1571.20,726.41L1573.42,726.44L1575.65,726.46L1577.87,726.49L1580.09,726.52L1582.32,726.55L1584.54,726.57L1586.76,726.60L1588.99,726.63L1591.21,726.65L1593.44,726.68L1595.66,726.70L1597.88,726.73L1600.11,726.76L1602.33,726.78L1604.56,726.81L1606.78,726.83L1609.01,726.86L1611.23,726.88L1613.46,726.91L1615.68,726.93L1617.91,726.96L1620.13,726.98L1622.36,727.01L1624.59,727.03L1626.81,727.06L1629.04,727.08L1631.26,727.11L1633.49,727.13L1635.72,727.16L1637.94,727.18L1640.17,727.21L1642.40,727.23L1644.62,727.25L1646.85,727.28L1649.08,727.30L1651.30,727.33L1653.53,727.35L1655.76,727.38L1657.99,727.40L1660.21,727.43L1662.44,727.45L1664.67,727.48L1666.90,727.50L1669.13,727.53L1671.36,727.55L1673.59,727.58L1675.81,727.60L1678.04,727.63L1680.27,727.65L1682.50,727.68L1684.73,727.71L1686.96,727.73L1689.19,727.76L1691.42,727.78L1693.65,727.81L1695.88,727.84L1698.11,727.86L1700.35,727.89L1702.58,727.92L1704.81,727.95L1707.04,727.97' stroke='#00c000' stroke-width='3.4' fill='none' stroke-linejoin='round' stroke-linecap='butt' clip-path='url(#clipf)'/>
<path d='M1101.70,1115.97L1101.76,1113.57L1101.82,1111.17L1101.87,1108.76L1101.92,1106.36L1101.97,1103.96L1102.02,1101.55L1102.07,1099.15L1102.11,1096.74L1102.16,1094.33L1102.20,1091.93L1102.24,1089.52L1102.27,1087.11L1102.31,1084.70L1102.34,1082.30L1102.38,1079.89L1102.41,1077.48L1102.44,1075.07L1102.47,1072.66L1102.49,1070.24L1102.52,1067.83L1102.54,1065.42L1102.57,1063.01L1102.59,1060.60L1102.61,1058.18L1102.63,1055.77L1102.65,1053.36L1102.67,1050.94L1102.68,1048.53L1102.70,1046.11L1102.72,1043.70L1102.73,1041.28L1102.75,1038.87L1102.76,1036.45L1102.78,1034.04L1102.79,1031.62L1102.80,1029.21L1102.81,1026.79L1102.83,1024.37L1102.84,1021.96L1102.85,1019.54L1102.86,1017.12L1102.87,1014.71L1102.89,1012.29L1102.90,1009.87L1102.91,1007.45L1102.92,1005.04L1102.94,1002.62L1102.95,1000.20L1102.96,997.78L1102.98,995.37L1102.99,992.95L1103.00,990.53L1103.02,988.11L1103.04,985.70L1103.05,983.28L1103.07,980.86L1103.09,978.44L1103.11,976.03L1103.13,973.61L1103.15,971.19L1103.17,968.78L1103.19,966.36L1103.22,963.94L1103.24,961.53L1103.27,959.11L1103.30,956.69L1103.33,954.28L1103.36,951.86L1103.39,949.45L1103.42,947.03L1103.46,944.62L1103.50,942.20L1103.53,939.79L1103.58,937.37L1103.62,934.96L1103.66,932.54L1103.71,930.13L1103.76,927.72L1103.81,925.31L1103.86,922.89L1103.91,920.48L1103.97,918.07L1104.03,915.66L1104.09,913.25L1104.16,910.84L1104.22,908.43L1104.29,906.02L1104.36,903.61L1104.44,901.20L1104.51,898.79L1104.59,896.39L1104.68,893.98L1104.76,891.57L1104.85,889.17L1104.94,886.76L1105.03,884.36L1105.13,881.95L1105.23,879.55L1105.33,877.14L1105.44,874.74L1105.55,872.34L1105.66,869.94L1105.78,867.54L1105.90,865.14L1106.02,862.74L1106.15,860.34L1106.28,857.94L1106.42,855.55L1106.56,853.15L1106.70,850.75L1106.84,848.36L1106.99,845.97L1107.15,843.57L1107.31,841.18L1107.47,838.79L1107.64,836.40L1107.81,834.01L1107.99,831.62L1108.18,829.23L1108.37,826.84L1108.58,824.45L1108.79,822.06L1109.02,819.67L1109.26,817.28L1109.51,814.89L1109.77,812.49L1110.05,810.10L1110.35,807.71L1110.66,805.31L1110.99,802.92L1111.34,800.52L1111.71,798.12L1112.09,795.72L1112.50,793.32L1112.93,790.92L1113.39,788.51L1113.86,786.10L1114.36,783.69L1114.89,781.28L1115.44,778.87L1116.02,776.45L1116.64,774.04L1117.28,771.64L1117.96,769.25L1118.68,766.87L1119.44,764.51L1120.24,762.17L1121.09,759.86L1121.99,757.58L1122.94,755.33L1123.94,753.12L1124.99,750.95L1126.10,748.83L1127.28,746.75L1128.51,744.73L1129.82,742.76L1131.19,740.85L1132.63,739.00L1134.14,737.22L1135.73,735.51L1137.39,733.88L1139.13,732.32L1140.94,730.83L1142.81,729.43L1144.75,728.09L1146.74,726.84L1148.78,725.67L1150.87,724.57L1153.00,723.55L1155.17,722.62L1157.37,721.76L1159.61,720.99L1161.87,720.29L1164.15,719.68L1166.45,719.15L1168.77,718.69L1171.11,718.29L1173.46,717.96L1175.83,717.68L1178.21,717.46L1180.61,717.28L1183.01,717.15L1185.42,717.06L1187.85,717.00L1190.28,716.96L1192.71,716.95L1195.15,716.96L1197.59,716.99L1200.04,717.02L1202.48,717.05L1204.92,717.09L1207.36,717.13L1209.80,717.17L1212.24,717.21L1214.68,717.25L1217.12,717.29L1219.56,717.34L1222.00,717.38L1224.44,717.42L1226.87,717.47L1229.31,717.52L1231.74,717.56L1234.18,717.61L1236.61,717.66L1239.04,717.71L1241.48,717.76L1243.91,717.82L1246.34,717.87L1248.77,717.92L1251.20,717.98L1253.63,718.03L1256.06,718.09L1258.49,718.14L1260.91,718.20L1263.34,718.26L1265.77,718.32L1268.19,718.38L1270.62,718.44L1273.04,718.50L1275.47,718.56L1277.89,718.62L1280.32,718.68L1282.74,718.75L1285.16,718.81L1287.58,718.87L1290.00,718.94L1292.42,719.00L1294.84,719.07L1297.26,719.14L1299.68,719.20L1302.10,719.27L1304.52,719.34L1306.94,719.41L1309.36,719.48L1311.77,719.55L1314.19,719.62L1316.61,719.69L1319.02,719.76L1321.44,719.83L1323.85,719.90L1326.27,719.97L1328.68,720.04L1331.09,720.12L1333.51,720.19L1335.92,720.26L1338.33,720.34L1340.74,720.41L1343.16,720.49L1345.57,720.56L1347.98,720.64L1350.39,720.71L1352.80,720.79L1355.21,720.86L1357.62,720.94L1360.03,721.01L1362.44,721.09L1364.85,721.17L1367.26,721.24L1369.67,721.32L1372.07,721.40L1374.48,721.47L1376.89,721.55L1379.30,721.63L1381.70,721.70L1384.11,721.78L1386.52,721.86L1388.92,721.94L1391.33,722.01L1393.74,722.09L1396.14,722.17L1398.55,722.25L1400.95,722.32L1403.36,722.40L1405.76,722.48L1408.17,722.56L1410.57,722.63L1412.98,722.71L1415.38,722.79L1417.78,722.87L1420.19,722.94L1422.59,723.02L1425.00,723.10L1427.40,723.17L1429.80,723.25L1432.21,723.33L1434.61,723.40L1437.01,723.48L1439.42,723.55L1441.82,723.63L1444.22,723.70L1446.62,723.78L1449.03,723.85L1451.43,723.93L1453.83,724.00L1456.24,724.07L1458.64,724.15L1461.04,724.22L1463.44,724.29L1465.85,724.37L1468.25,724.44L1470.65,724.51L1473.05,724.58L1475.46,724.65L1477.86,724.72L1480.26,724.79L1482.66,724.86L1485.07,724.93L1487.47,725.00L1489.87,725.07L1492.27,725.13L1494.68,725.20L1497.08,725.27L1499.48,725.33L1501.89,725.40L1504.29,725.46L1506.69,725.53L1509.10,725.59L1511.50,725.65L1513.90,725.72L1516.31,725.78L1518.71,725.84L1521.11,725.90L1523.52,725.96L1525.92,726.02L1528.33,726.08L1530.73,726.14L1533.14,726.19L1535.54,726.25L1537.95,726.31L1540.35,726.36L1542.76,726.41L1545.16,726.47L1547.57,726.52L1549.97,726.57L1552.38,726.62L1554.79,726.67L1557.19,726.72L1559.60,726.77L1562.01,726.82L1564.41,726.86L1566.82,726.91L1569.23,726.95L1571.64,727.00L1574.05,727.04L1576.46,727.08L1578.86,727.12L1581.27,727.16L1583.68,727.20L1586.09,727.24L1588.50,727.28L1590.91,727.31L1593.33,727.35L1595.74,727.38L1598.15,727.42L1600.56,727.45L1602.97,727.48L1605.39,727.51L1607.80,727.54L1610.21,727.56L1612.63,727.59L1615.04,727.62L1617.46,727.64L1619.87,727.66L1622.29,727.68L1624.70,727.70L1627.12,727.72L1629.53,727.74L1631.95,727.76L1634.37,727.77L1636.79,727.79L1639.21,727.80L1641.62,727.81L1644.04,727.82L1646.46,727.83L1648.88,727.84L1651.31,727.84L1653.73,727.85L1656.15,727.85L1658.57,727.85L1660.99,727.86L1663.42,727.85L1665.84,727.85L1668.27,727.85L1670.69,727.84L1673.12,727.84L1675.54,727.83L1677.97,727.82L1680.40,727.81L1682.82,727.80L1685.25,727.78L1687.68,727.77L1690.11,727.75L1692.54,727.73L1694.97,727.71L1697.40,727.69L1699.84,727.67L1702.27,727.64L1704.70,727.62L1707.14,727.59' stroke='#ff00ff' stroke-width='3.4' fill='none' stroke-linejoin='round' stroke-linecap='butt' clip-path='url(#clipf)'/>
<circle cx='367.60' cy='387.00' r='4.7' fill='#0000ff'/>
<circle cx='468.64' cy='213.98' r='4.7' fill='#0000ff'/>
<circle cx='569.68' cy='162.38' r='4.7' fill='#0000ff'/>
<circle cx='670.72' cy='127.89' r='4.7' fill='#0000ff'/>
<circle cx='771.76' cy='100.88' r='4.7' fill='#0000ff'/>
<circle cx='872.80' cy='79.49' r='4.7' fill='#0000ff'/>
<circle cx='973.84' cy='61.27' r='4.7' fill='#0000ff'/>
<path d='M367.60,325.48L374.25,336.52L360.95,336.52Z' fill='#ff0000'/>
<path d='M468.64,194.46L475.29,205.50L461.99,205.50Z' fill='#ff0000'/>
<path d='M569.68,146.66L576.33,157.70L563.03,157.70Z' fill='#ff0000'/>
<path d='M670.72,113.77L677.37,124.81L664.07,124.81Z' fill='#ff0000'/>
<path d='M771.76,88.76L778.41,99.80L765.11,99.80Z' fill='#ff0000'/>
<path d='M872.80,67.87L879.45,78.91L866.15,78.91Z' fill='#ff0000'/>
<path d='M973.84,50.05L980.49,61.09L967.19,61.09Z' fill='#ff0000'/>
<path d='M367.60,357.10L374.20,363.00L367.60,368.90L361.00,363.00Z' fill='#00c000'/>
<path d='M468.64,195.08L475.24,200.98L468.64,206.88L462.04,200.98Z' fill='#00c000'/>
<path d='M569.68,146.88L576.28,152.78L569.68,158.68L563.08,152.78Z' fill='#00c000'/>
<path d='M670.72,113.89L677.32,119.79L670.72,125.69L664.12,119.79Z' fill='#00c000'/>
<path d='M771.76,88.68L778.36,94.58L771.76,100.48L765.16,94.58Z' fill='#00c000'/>
<path d='M872.80,67.69L879.40,73.59L872.80,79.49L866.20,73.59Z' fill='#00c000'/>
<path d='M973.84,49.77L980.44,55.67L973.84,61.57L967.24,55.67Z' fill='#00c000'/>
<rect x='362.70' y='481.10' width='9.8' height='9.8' fill='#ff00ff'/>
<rect x='463.74' y='199.58' width='9.8' height='9.8' fill='#ff00ff'/>
<rect x='564.78' y='149.08' width='9.8' height='9.8' fill='#ff00ff'/>
<rect x='665.82' y='115.69' width='9.8' height='9.8' fill='#ff00ff'/>
<rect x='766.86' y='90.48' width='9.8' height='9.8' fill='#ff00ff'/>
<rect x='867.90' y='69.49' width='9.8' height='9.8' fill='#ff00ff'/>
<rect x='968.94' y='51.07' width='9.8' height='9.8' fill='#ff00ff'/>
<circle cx='1101.00' cy='334.60' r='4.7' fill='#0000ff'/>
<circle cx='1202.00' cy='109.90' r='4.7' fill='#0000ff'/>
<circle cx='1303.00' cy='117.30' r='4.7' fill='#0000ff'/>
<circle cx='1404.00' cy='123.60' r='4.7' fill='#0000ff'/>
<circle cx='1505.00' cy='126.30' r='4.7' fill='#0000ff'/>
<circle cx='1606.00' cy='128.40' r='4.7' fill='#0000ff'/>
<circle cx='1707.00' cy='129.80' r='4.7' fill='#0000ff'/>
<path d='M1101.00,190.08L1107.65,201.12L1094.35,201.12Z' fill='#ff0000'/>
<path d='M1202.00,110.78L1208.65,121.82L1195.35,121.82Z' fill='#ff0000'/>
<path d='M1303.00,116.28L1309.65,127.32L1296.35,127.32Z' fill='#ff0000'/>
<path d='M1404.00,120.08L1410.65,131.12L1397.35,131.12Z' fill='#ff0000'/>
<path d='M1505.00,122.58L1511.65,133.62L1498.35,133.62Z' fill='#ff0000'/>
<path d='M1606.00,124.08L1612.65,135.12L1599.35,135.12Z' fill='#ff0000'/>
<path d='M1707.00,125.18L1713.65,136.22L1700.35,136.22Z' fill='#ff0000'/>
<path d='M1101.00,268.10L1107.60,274.00L1101.00,279.90L1094.40,274.00Z' fill='#00c000'/>
<path d='M1202.00,113.10L1208.60,119.00L1202.00,124.90L1195.40,119.00Z' fill='#00c000'/>
<path d='M1303.00,117.60L1309.60,123.50L1303.00,129.40L1296.40,123.50Z' fill='#00c000'/>
<path d='M1404.00,120.40L1410.60,126.30L1404.00,132.20L1397.40,126.30Z' fill='#00c000'/>
<path d='M1505.00,122.50L1511.60,128.40L1505.00,134.30L1498.40,128.40Z' fill='#00c000'/>
<path d='M1606.00,124.00L1612.60,129.90L1606.00,135.80L1599.40,129.90Z' fill='#00c000'/>
<path d='M1707.00,125.00L1713.60,130.90L1707.00,136.80L1700.40,130.90Z' fill='#00c000'/>
<rect x='1197.10' y='114.60' width='9.8' height='9.8' fill='#ff00ff'/>
<rect x='1298.10' y='117.60' width='9.8' height='9.8' fill='#ff00ff'/>
<rect x='1399.10' y='121.10' width='9.8' height='9.8' fill='#ff00ff'/>
<rect x='1500.10' y='123.50' width='9.8' height='9.8' fill='#ff00ff'/>
<rect x='1601.10' y='124.90' width='9.8' height='9.8' fill='#ff00ff'/>
<rect x='1702.10' y='126.00' width='9.8' height='9.8' fill='#ff00ff'/>
<circle cx='472.55' cy='814.28' r='4.7' fill='#0000ff'/>
<circle cx='573.60' cy='760.28' r='4.7' fill='#0000ff'/>
<circle cx='674.65' cy='725.19' r='4.7' fill='#0000ff'/>
<circle cx='775.70' cy='697.08' r='4.7' fill='#0000ff'/>
<circle cx='876.75' cy='675.79' r='4.7' fill='#0000ff'/>
<circle cx='977.80' cy='656.97' r='4.7' fill='#0000ff'/>
<path d='M371.50,953.98L378.15,965.02L364.85,965.02Z' fill='#ff0000'/>
<path d='M472.55,797.36L479.20,808.40L465.90,808.40Z' fill='#ff0000'/>
<path d='M573.60,745.16L580.25,756.20L566.95,756.20Z' fill='#ff0000'/>
<path d='M674.65,711.47L681.30,722.51L668.00,722.51Z' fill='#ff0000'/>
<path d='M775.70,685.36L782.35,696.40L769.05,696.40Z' fill='#ff0000'/>
<path d='M876.75,664.17L883.40,675.21L870.10,675.21Z' fill='#ff0000'/>
<path d='M977.80,646.15L984.45,657.19L971.15,657.19Z' fill='#ff0000'/>
<path d='M371.50,994.10L378.10,1000.00L371.50,1005.90L364.90,1000.00Z' fill='#00c000'/>
<path d='M472.55,797.48L479.15,803.38L472.55,809.28L465.95,803.38Z' fill='#00c000'/>
<path d='M573.60,745.08L580.20,750.98L573.60,756.88L567.00,750.98Z' fill='#00c000'/>
<path d='M674.65,711.39L681.25,717.29L674.65,723.19L668.05,717.29Z' fill='#00c000'/>
<path d='M775.70,685.18L782.30,691.08L775.70,696.98L769.10,691.08Z' fill='#00c000'/>
<path d='M876.75,663.99L883.35,669.89L876.75,675.79L870.15,669.89Z' fill='#00c000'/>
<path d='M977.80,645.87L984.40,651.77L977.80,657.67L971.20,651.77Z' fill='#00c000'/>
<rect x='366.60' y='1108.10' width='9.8' height='9.8' fill='#ff00ff'/>
<rect x='467.65' y='799.38' width='9.8' height='9.8' fill='#ff00ff'/>
<rect x='568.70' y='746.58' width='9.8' height='9.8' fill='#ff00ff'/>
<rect x='669.75' y='712.79' width='9.8' height='9.8' fill='#ff00ff'/>
<rect x='770.80' y='686.48' width='9.8' height='9.8' fill='#ff00ff'/>
<rect x='871.85' y='665.19' width='9.8' height='9.8' fill='#ff00ff'/>
<rect x='972.90' y='647.07' width='9.8' height='9.8' fill='#ff00ff'/>
<circle cx='1202.00' cy='709.70' r='4.7' fill='#0000ff'/>
<circle cx='1303.00' cy='715.60' r='4.7' fill='#0000ff'/>
<circle cx='1404.00' cy='720.60' r='4.7' fill='#0000ff'/>
<circle cx='1505.00' cy='724.30' r='4.7' fill='#0000ff'/>
<circle cx='1606.00' cy='726.40' r='4.7' fill='#0000ff'/>
<circle cx='1707.00' cy='727.60' r='4.7' fill='#0000ff'/>
<path d='M1101.00,867.98L1107.65,879.02L1094.35,879.02Z' fill='#ff0000'/>
<path d='M1202.00,710.48L1208.65,721.52L1195.35,721.52Z' fill='#ff0000'/>
<path d='M1303.00,712.78L1309.65,723.82L1296.35,723.82Z' fill='#ff0000'/>
<path d='M1404.00,717.28L1410.65,728.32L1397.35,728.32Z' fill='#ff0000'/>
<path d='M1505.00,719.78L1511.65,730.82L1498.35,730.82Z' fill='#ff0000'/>
<path d='M1606.00,721.38L1612.65,732.42L1599.35,732.42Z' fill='#ff0000'/>
<path d='M1707.00,722.28L1713.65,733.32L1700.35,733.32Z' fill='#ff0000'/>
<path d='M1101.00,1030.70L1107.60,1036.60L1101.00,1042.50L1094.40,1036.60Z' fill='#00c000'/>
<path d='M1202.00,712.10L1208.60,718.00L1202.00,723.90L1195.40,718.00Z' fill='#00c000'/>
<path d='M1303.00,713.60L1309.60,719.50L1303.00,725.40L1296.40,719.50Z' fill='#00c000'/>
<path d='M1404.00,717.60L1410.60,723.50L1404.00,729.40L1397.40,723.50Z' fill='#00c000'/>
<path d='M1505.00,719.70L1511.60,725.60L1505.00,731.50L1498.40,725.60Z' fill='#00c000'/>
<path d='M1606.00,721.20L1612.60,727.10L1606.00,733.00L1599.40,727.10Z' fill='#00c000'/>
<path d='M1707.00,722.00L1713.60,727.90L1707.00,733.80L1700.40,727.90Z' fill='#00c000'/>
<rect x='1197.10' y='712.30' width='9.8' height='9.8' fill='#ff00ff'/>
<rect x='1298.10' y='714.00' width='9.8' height='9.8' fill='#ff00ff'/>
<rect x='1399.10' y='718.30' width='9.8' height='9.8' fill='#ff00ff'/>
<rect x='1500.10' y='720.60' width='9.8' height='9.8' fill='#ff00ff'/>
<rect x='1601.10' y='722.10' width='9.8' height='9.8' fill='#ff00ff'/>
<rect x='1702.10' y='722.90' width='9.8' height='9.8' fill='#ff00ff'/>
<path d='M70.4,254.4H139.8M70.4,302.7H139.8' stroke='#231815' stroke-width='1.5' fill='none'/>
<path d='M76.9,260.4V296.7' stroke='#231815' stroke-width='1.5' fill='none'/>
<path d='M76.9,254.9l-4,8h8z M76.9,302.2l-4,-8h8z' fill='#231815'/>
<text x='62.5' y='282.3' font-size='24' font-style='italic' text-anchor='middle'>g</text>
<circle cx='139.8' cy='155.3' r='99.0' fill='#aafffc' stroke='#000' stroke-width='1.5'/>
<circle cx='139.8' cy='155.3' r='73.6' fill='#fcdeb4' stroke='#000' stroke-width='3.6'/>
<circle cx='139.6' cy='402.2' r='99.0' fill='#aafffc' stroke='#000' stroke-width='1.5'/>
<circle cx='139.6' cy='402.2' r='73.6' fill='#fcdeb4' stroke='#000' stroke-width='3.6'/>
<text x='92.20' y='154.50' font-size='24' fill='#000' text-anchor='start' >Dielectric</text>
<text x='92.20' y='183.00' font-size='24' fill='#000' text-anchor='start' >core 1</text>
<text x='92.60' y='400.70' font-size='24' fill='#000' text-anchor='start' >Dielectric</text>
<text x='92.60' y='429.40' font-size='24' fill='#000' text-anchor='start' >core 2</text>
<text x='96.00' y='39.10' font-size='31' fill='#000' text-anchor='start' ><tspan font-style='italic'>σ</tspan><tspan dy='10.80' font-size='19'>c1</tspan><tspan dy='-10.80'> = 0</tspan></text>
<text x='96.00' y='532.90' font-size='31' fill='#000' text-anchor='start' ><tspan font-style='italic'>σ</tspan><tspan dy='10.80' font-size='19'>c2</tspan><tspan dy='-10.80'> = 0</tspan></text>
<path d='M66.3,865.1H139.2M66.3,913.3H139.2' stroke='#231815' stroke-width='1.5' fill='none'/>
<path d='M74.2,871.1V907.3' stroke='#231815' stroke-width='1.5' fill='none'/>
<path d='M74.2,865.6l-4,8h8z M74.2,912.8l-4,-8h8z' fill='#231815'/>
<text x='59.2' y='892.8' font-size='24' font-style='italic' text-anchor='middle'>g</text>
<circle cx='139.2' cy='766.0' r='99.0' fill='#aafffc' stroke='#000' stroke-width='1.5'/>
<circle cx='139.2' cy='766.0' r='73.6' fill='#d9d9d9' stroke='#000' stroke-width='3.6'/>
<circle cx='139.3' cy='1012.6' r='99.0' fill='#aafffc' stroke='#000' stroke-width='1.5'/>
<circle cx='139.3' cy='1012.6' r='73.6' fill='#d9d9d9' stroke='#000' stroke-width='3.6'/>
<text x='88.50' y='759.00' font-size='24' fill='#000' text-anchor='start' >Conducting</text>
<text x='88.50' y='788.00' font-size='24' fill='#000' text-anchor='start' >core 1</text>
<text x='88.20' y='1013.00' font-size='24' fill='#000' text-anchor='start' >Conducting</text>
<text x='88.20' y='1041.60' font-size='24' fill='#000' text-anchor='start' >core 2</text>
<text x='96.00' y='646.10' font-size='31' fill='#000' text-anchor='start' ><tspan font-style='italic'>σ</tspan><tspan dy='10.80' font-size='19'>c1</tspan><tspan dy='-10.80'> = 0</tspan></text>
<text x='96.30' y='1143.60' font-size='31' fill='#000' text-anchor='start' ><tspan font-style='italic'>σ</tspan><tspan dy='10.80' font-size='19'>c2</tspan><tspan dy='-10.80'> = 0</tspan></text>
<text x='-1.00' y='24.00' font-size='34' fill='#000' text-anchor='start' font-weight='bold'>(a)</text>
<text x='262.60' y='23.80' font-size='34' fill='#000' text-anchor='start' font-weight='bold'>(b)</text>
<text x='992.60' y='23.80' font-size='34' fill='#000' text-anchor='start' font-weight='bold'>(c)</text>
<text x='-1.00' y='624.00' font-size='34' fill='#000' text-anchor='start' font-weight='bold'>(d)</text>
<text x='262.80' y='623.90' font-size='34' fill='#000' text-anchor='start' font-weight='bold'>(e)</text>
<text x='992.60' y='623.90' font-size='34' fill='#000' text-anchor='start' font-weight='bold'>(f)</text>
<text x='669.30' y='29.50' font-size='31' fill='#000' text-anchor='middle' >Unlike charges</text>
<text x='1404.00' y='29.50' font-size='31' fill='#000' text-anchor='middle' >Like charges</text>
<text x='675.80' y='625.80' font-size='31' fill='#000' text-anchor='middle' >Unlike charges</text>
<text x='1404.00' y='625.30' font-size='31' fill='#000' text-anchor='middle' >Like charges</text>
<text x='370.20' y='549.00' font-size='31' fill='#000' text-anchor='middle' >0</text>
<text x='471.67' y='549.00' font-size='31' fill='#000' text-anchor='middle' >1</text>
<text x='573.14' y='549.00' font-size='31' fill='#000' text-anchor='middle' >2</text>
<text x='674.61' y='549.00' font-size='31' fill='#000' text-anchor='middle' >3</text>
<text x='776.08' y='549.00' font-size='31' fill='#000' text-anchor='middle' >4</text>
<text x='877.55' y='549.00' font-size='31' fill='#000' text-anchor='middle' >5</text>
<text x='979.02' y='549.00' font-size='31' fill='#000' text-anchor='middle' >6</text>
<text x='372.30' y='1144.10' font-size='31' fill='#000' text-anchor='middle' >0</text>
<text x='473.75' y='1144.10' font-size='31' fill='#000' text-anchor='middle' >1</text>
<text x='575.20' y='1144.10' font-size='31' fill='#000' text-anchor='middle' >2</text>
<text x='676.65' y='1144.10' font-size='31' fill='#000' text-anchor='middle' >3</text>
<text x='778.10' y='1144.10' font-size='31' fill='#000' text-anchor='middle' >4</text>
<text x='879.55' y='1144.10' font-size='31' fill='#000' text-anchor='middle' >5</text>
<text x='981.00' y='1144.10' font-size='31' fill='#000' text-anchor='middle' >6</text>
<text x='1099.10' y='549.00' font-size='31' fill='#000' text-anchor='middle' >0</text>
<text x='1200.65' y='549.00' font-size='31' fill='#000' text-anchor='middle' >1</text>
<text x='1302.20' y='549.00' font-size='31' fill='#000' text-anchor='middle' >2</text>
<text x='1403.75' y='549.00' font-size='31' fill='#000' text-anchor='middle' >3</text>
<text x='1505.30' y='549.00' font-size='31' fill='#000' text-anchor='middle' >4</text>
<text x='1606.85' y='549.00' font-size='31' fill='#000' text-anchor='middle' >5</text>
<text x='1708.40' y='549.00' font-size='31' fill='#000' text-anchor='middle' >6</text>
<text x='1099.10' y='1143.50' font-size='31' fill='#000' text-anchor='middle' >0</text>
<text x='1200.65' y='1143.50' font-size='31' fill='#000' text-anchor='middle' >1</text>
<text x='1302.20' y='1143.50' font-size='31' fill='#000' text-anchor='middle' >2</text>
<text x='1403.75' y='1143.50' font-size='31' fill='#000' text-anchor='middle' >3</text>
<text x='1505.30' y='1143.50' font-size='31' fill='#000' text-anchor='middle' >4</text>
<text x='1606.85' y='1143.50' font-size='31' fill='#000' text-anchor='middle' >5</text>
<text x='1708.40' y='1143.50' font-size='31' fill='#000' text-anchor='middle' >6</text>
<text x='364.00' y='86.20' font-size='31' fill='#000' text-anchor='end' ><tspan>−10</tspan><tspan dy='-10.60' font-size='19'>0</tspan></text>
<text x='364.00' y='232.40' font-size='31' fill='#000' text-anchor='end' ><tspan>−10</tspan><tspan dy='-10.60' font-size='19'>1</tspan></text>
<text x='364.00' y='379.80' font-size='31' fill='#000' text-anchor='end' ><tspan>−10</tspan><tspan dy='-10.60' font-size='19'>2</tspan></text>
<text x='364.00' y='526.60' font-size='31' fill='#000' text-anchor='end' ><tspan>−10</tspan><tspan dy='-10.60' font-size='19'>3</tspan></text>
<text x='364.00' y='675.90' font-size='31' fill='#000' text-anchor='end' ><tspan>−10</tspan><tspan dy='-10.60' font-size='19'>0</tspan></text>
<text x='364.00' y='826.00' font-size='31' fill='#000' text-anchor='end' ><tspan>−10</tspan><tspan dy='-10.60' font-size='19'>1</tspan></text>
<text x='364.00' y='976.00' font-size='31' fill='#000' text-anchor='end' ><tspan>−10</tspan><tspan dy='-10.60' font-size='19'>2</tspan></text>
<text x='364.00' y='1125.90' font-size='31' fill='#000' text-anchor='end' ><tspan>−10</tspan><tspan dy='-10.60' font-size='19'>3</tspan></text>
<text x='1090.80' y='52.80' font-size='31' fill='#000' text-anchor='end' >20</text>
<text x='1090.80' y='147.30' font-size='31' fill='#000' text-anchor='end' >0</text>
<text x='1090.80' y='242.30' font-size='31' fill='#000' text-anchor='end' >−20</text>
<text x='1090.80' y='336.60' font-size='31' fill='#000' text-anchor='end' >−40</text>
<text x='1090.80' y='430.90' font-size='31' fill='#000' text-anchor='end' >−60</text>
<text x='1090.80' y='525.10' font-size='31' fill='#000' text-anchor='end' >−80</text>
<text x='1089.30' y='646.00' font-size='31' fill='#000' text-anchor='end' >20</text>
<text x='1089.30' y='742.60' font-size='31' fill='#000' text-anchor='end' >0</text>
<text x='1089.30' y='838.50' font-size='31' fill='#000' text-anchor='end' >−20</text>
<text x='1089.30' y='934.20' font-size='31' fill='#000' text-anchor='end' >−40</text>
<text x='1089.30' y='1029.30' font-size='31' fill='#000' text-anchor='end' >−60</text>
<text x='1089.30' y='1124.20' font-size='31' fill='#000' text-anchor='end' >−80</text>
<text x='493.50' y='582.50' font-size='31' fill='#000' text-anchor='start' ><tspan>Dimensionless gap </tspan><tspan font-style='italic'>g</tspan><tspan>/(</tspan><tspan font-style='italic'>t</tspan><tspan dy='8.50' font-size='17'>1</tspan><tspan dy='-8.50'> + </tspan><tspan font-style='italic'>R</tspan><tspan dy='8.50' font-size='17' dx='2'>1</tspan><tspan dy='-8.50'>)</tspan></text>
<text x='1222.60' y='582.80' font-size='31' fill='#000' text-anchor='start' ><tspan>Dimensionless gap </tspan><tspan font-style='italic'>g</tspan><tspan>/(</tspan><tspan font-style='italic'>t</tspan><tspan dy='8.50' font-size='17'>1</tspan><tspan dy='-8.50'> + </tspan><tspan font-style='italic'>R</tspan><tspan dy='8.50' font-size='17' dx='2'>1</tspan><tspan dy='-8.50'>)</tspan></text>
<text x='503.10' y='1177.70' font-size='31' fill='#000' text-anchor='start' ><tspan>Dimensionless gap </tspan><tspan font-style='italic'>g</tspan><tspan>/(</tspan><tspan font-style='italic'>t</tspan><tspan dy='8.50' font-size='17'>1</tspan><tspan dy='-8.50'> + </tspan><tspan font-style='italic'>R</tspan><tspan dy='8.50' font-size='17' dx='2'>1</tspan><tspan dy='-8.50'>)</tspan></text>
<text x='1223.80' y='1177.00' font-size='31' fill='#000' text-anchor='start' ><tspan>Dimensionless gap </tspan><tspan font-style='italic'>g</tspan><tspan>/(</tspan><tspan font-style='italic'>t</tspan><tspan dy='8.50' font-size='17'>1</tspan><tspan dy='-8.50'> + </tspan><tspan font-style='italic'>R</tspan><tspan dy='8.50' font-size='17' dx='2'>1</tspan><tspan dy='-8.50'>)</tspan></text>
<text x='288.70' y='454.00' font-size='31' fill='#000' text-anchor='start' transform='rotate(-90 288.7 454.0)'><tspan>Electrostatic force </tspan><tspan font-style='italic'>F</tspan><tspan dy='10.00' font-size='18'>12</tspan><tspan dy='-10.00'> [nN]</tspan></text>
<text x='1024.50' y='451.20' font-size='31' fill='#000' text-anchor='start' transform='rotate(-90 1024.5 451.2)'><tspan>Electrostatic force </tspan><tspan font-style='italic'>F</tspan><tspan dy='10.00' font-size='18'>12</tspan><tspan dy='-10.00'> [nN]</tspan></text>
<text x='284.90' y='1042.60' font-size='31' fill='#000' text-anchor='start' transform='rotate(-90 284.9 1042.6)'><tspan>Electrostatic force </tspan><tspan font-style='italic'>F</tspan><tspan dy='10.00' font-size='18'>12</tspan><tspan dy='-10.00'> [nN]</tspan></text>
<text x='1024.50' y='1044.60' font-size='31' fill='#000' text-anchor='start' transform='rotate(-90 1024.5 1044.6)'><tspan>Electrostatic force </tspan><tspan font-style='italic'>F</tspan><tspan dy='10.00' font-size='18'>12</tspan><tspan dy='-10.00'> [nN]</tspan></text>
<text x='492.30' y='261.50' font-size='24' fill='#000' text-anchor='start' ><tspan font-style='italic'>ε</tspan><tspan dy='8.00' font-size='16'>m</tspan><tspan dy='-8.00'> = </tspan><tspan font-style='italic'>ε</tspan><tspan dy='8.00' font-size='16'>0</tspan></text>
<text x='605.40' y='261.50' font-size='24' fill='#000' text-anchor='start' ><tspan font-style='italic'>ε</tspan><tspan dy='8.00' font-size='16'>1</tspan><tspan dy='-8.00'> = </tspan><tspan font-style='italic'>ε</tspan><tspan dy='8.00' font-size='16'>2</tspan><tspan dy='-8.00'> = 10</tspan><tspan font-style='italic'>ε</tspan><tspan dy='8.00' font-size='16'>0</tspan></text>
<text x='775.50' y='261.50' font-size='24' fill='#000' text-anchor='start' ><tspan font-style='italic'>ε</tspan><tspan dy='8.00' font-size='16'>c1</tspan><tspan dy='-8.00'> = </tspan><tspan font-style='italic'>ε</tspan><tspan dy='8.00' font-size='16'>c2</tspan></text>
<text x='493.50' y='343.00' font-size='24' fill='#ff0000' text-anchor='start' ><tspan font-style='italic'>σ</tspan><tspan dy='8.00' font-size='16'>1</tspan><tspan dy='-8.00'> = 0.1 mC/m</tspan><tspan dy='-9.00' font-size='15'>2</tspan></text>
<text x='706.80' y='343.00' font-size='24' fill='#0000ff' text-anchor='start' ><tspan font-style='italic'>σ</tspan><tspan dy='8.00' font-size='16'>2</tspan><tspan dy='-8.00'> = −20 μC/m</tspan><tspan dy='-9.00' font-size='15'>2</tspan></text>
<text x='1226.30' y='261.50' font-size='24' fill='#000' text-anchor='start' ><tspan font-style='italic'>ε</tspan><tspan dy='8.00' font-size='16'>m</tspan><tspan dy='-8.00'> = </tspan><tspan font-style='italic'>ε</tspan><tspan dy='8.00' font-size='16'>0</tspan></text>
<text x='1339.40' y='261.50' font-size='24' fill='#000' text-anchor='start' ><tspan font-style='italic'>ε</tspan><tspan dy='8.00' font-size='16'>1</tspan><tspan dy='-8.00'> = </tspan><tspan font-style='italic'>ε</tspan><tspan dy='8.00' font-size='16'>2</tspan><tspan dy='-8.00'> = 10</tspan><tspan font-style='italic'>ε</tspan><tspan dy='8.00' font-size='16'>0</tspan></text>
<text x='1509.50' y='261.50' font-size='24' fill='#000' text-anchor='start' ><tspan font-style='italic'>ε</tspan><tspan dy='8.00' font-size='16'>c1</tspan><tspan dy='-8.00'> = </tspan><tspan font-style='italic'>ε</tspan><tspan dy='8.00' font-size='16'>c2</tspan></text>
<text x='1227.50' y='343.00' font-size='24' fill='#ff0000' text-anchor='start' ><tspan font-style='italic'>σ</tspan><tspan dy='8.00' font-size='16'>1</tspan><tspan dy='-8.00'> = 0.1 mC/m</tspan><tspan dy='-9.00' font-size='15'>2</tspan></text>
<text x='1439.60' y='343.00' font-size='24' fill='#ff0000' text-anchor='start' ><tspan font-style='italic'>σ</tspan><tspan dy='8.00' font-size='16'>2</tspan><tspan dy='-8.00'> = 20 μC/m</tspan><tspan dy='-9.00' font-size='15'>2</tspan></text>
<text x='522.60' y='856.10' font-size='24' fill='#000' text-anchor='start' ><tspan font-style='italic'>ε</tspan><tspan dy='8.00' font-size='16'>m</tspan><tspan dy='-8.00'> = </tspan><tspan font-style='italic'>ε</tspan><tspan dy='8.00' font-size='16'>0</tspan></text>
<text x='682.30' y='856.10' font-size='24' fill='#000' text-anchor='start' ><tspan font-style='italic'>ε</tspan><tspan dy='8.00' font-size='16'>c1</tspan><tspan dy='-8.00'> = </tspan><tspan font-style='italic'>ε</tspan><tspan dy='8.00' font-size='16'>c2</tspan></text>
<text x='526.10' y='941.20' font-size='24' fill='#ff0000' text-anchor='start' ><tspan font-style='italic'>q</tspan><tspan dy='8.00' font-size='16'>1</tspan><tspan dy='-8.00'> = 2×10</tspan><tspan dy='-9.00' font-size='15'>5</tspan><tspan dy='9.00' font-style='italic'>e</tspan></text>
<text x='706.80' y='941.20' font-size='24' fill='#0000ff' text-anchor='start' ><tspan font-style='italic'>q</tspan><tspan dy='8.00' font-size='16'>2</tspan><tspan dy='-8.00'> = −4×10</tspan><tspan dy='-9.00' font-size='15'>4</tspan><tspan dy='9.00' font-style='italic'>e</tspan></text>
<text x='1256.10' y='856.10' font-size='24' fill='#000' text-anchor='start' ><tspan font-style='italic'>ε</tspan><tspan dy='8.00' font-size='16'>m</tspan><tspan dy='-8.00'> = </tspan><tspan font-style='italic'>ε</tspan><tspan dy='8.00' font-size='16'>0</tspan></text>
<text x='1415.80' y='856.10' font-size='24' fill='#000' text-anchor='start' ><tspan font-style='italic'>ε</tspan><tspan dy='8.00' font-size='16'>c1</tspan><tspan dy='-8.00'> = </tspan><tspan font-style='italic'>ε</tspan><tspan dy='8.00' font-size='16'>c2</tspan></text>
<text x='1259.60' y='941.20' font-size='24' fill='#ff0000' text-anchor='start' ><tspan font-style='italic'>q</tspan><tspan dy='8.00' font-size='16'>1</tspan><tspan dy='-8.00'> = 2×10</tspan><tspan dy='-9.00' font-size='15'>5</tspan><tspan dy='9.00' font-style='italic'>e</tspan></text>
<text x='1439.60' y='941.20' font-size='24' fill='#ff0000' text-anchor='start' ><tspan font-style='italic'>q</tspan><tspan dy='8.00' font-size='16'>2</tspan><tspan dy='-8.00'> = 4×10</tspan><tspan dy='-9.00' font-size='15'>4</tspan><tspan dy='9.00' font-style='italic'>e</tspan></text>
<rect x='425.20' y='399.3' width='488.1' height='76.7' fill='#fff' stroke='#000' stroke-width='1.5'/>
<line x1='434.00' y1='411.9' x2='473.30' y2='411.9' stroke='#ff00ff' stroke-width='2.2'/>
<line x1='595.40' y1='411.9' x2='634.70' y2='411.9' stroke='#00c000' stroke-width='2.2'/>
<line x1='753.60' y1='411.9' x2='793.00' y2='411.9' stroke='#ff0000' stroke-width='2.2'/>
<line x1='434.00' y1='447.4' x2='473.30' y2='447.4' stroke='#0000ff' stroke-width='2.2'/>
<line x1='640.00' y1='453.2' x2='679.30' y2='453.2' stroke='#000' stroke-width='2.2'/>
<rect x='452.25' y='425.75' width='5.5' height='5.5' fill='#ff00ff'/>
<path d='M616.70,424.75L620.45,428.50L616.70,432.25L612.95,428.50Z' fill='#00c000'/>
<path d='M774.00,425.39L777.75,431.61L770.25,431.61Z' fill='#ff0000'/>
<circle cx='455.00' cy='463.40' r='2.9' fill='#0000ff'/>
<text x='480.70' y='424.40' font-size='24' fill='#000' text-anchor='start' ><tspan font-style='italic'>ε</tspan><tspan dy='8.00' font-size='16'>c1</tspan><tspan dy='-8.00'>/</tspan><tspan font-style='italic'>ε</tspan><tspan dy='8.00' font-size='16'>1</tspan><tspan dy='-8.00'> = 5.0</tspan></text>
<text x='640.90' y='424.40' font-size='24' fill='#000' text-anchor='start' ><tspan font-style='italic'>ε</tspan><tspan dy='8.00' font-size='16'>c1</tspan><tspan dy='-8.00'>/</tspan><tspan font-style='italic'>ε</tspan><tspan dy='8.00' font-size='16'>1</tspan><tspan dy='-8.00'> = 1.0</tspan></text>
<text x='797.70' y='424.40' font-size='24' fill='#000' text-anchor='start' ><tspan font-style='italic'>ε</tspan><tspan dy='8.00' font-size='16'>c1</tspan><tspan dy='-8.00'>/</tspan><tspan font-style='italic'>ε</tspan><tspan dy='8.00' font-size='16'>1</tspan><tspan dy='-8.00'> = 0.5</tspan></text>
<text x='489.50' y='460.80' font-size='24' fill='#000' text-anchor='start' >Without shell</text>
<text x='692.50' y='460.80' font-size='24' fill='#000' text-anchor='start' ><tspan font-style='italic'>F</tspan><tspan dy='8.00' font-size='16'>0</tspan><tspan dy='-8.00'> for coated particles</tspan></text>
<rect x='1159.60' y='399.3' width='488.1' height='76.7' fill='#fff' stroke='#000' stroke-width='1.5'/>
<line x1='1168.40' y1='411.9' x2='1207.70' y2='411.9' stroke='#ff00ff' stroke-width='2.2'/>
<line x1='1329.80' y1='411.9' x2='1369.10' y2='411.9' stroke='#00c000' stroke-width='2.2'/>
<line x1='1488.00' y1='411.9' x2='1527.40' y2='411.9' stroke='#ff0000' stroke-width='2.2'/>
<line x1='1168.40' y1='447.4' x2='1207.70' y2='447.4' stroke='#0000ff' stroke-width='2.2'/>
<line x1='1374.40' y1='453.2' x2='1413.70' y2='453.2' stroke='#000' stroke-width='2.2'/>
<rect x='1186.65' y='425.75' width='5.5' height='5.5' fill='#ff00ff'/>
<path d='M1351.10,424.75L1354.85,428.50L1351.10,432.25L1347.35,428.50Z' fill='#00c000'/>
<path d='M1508.40,425.39L1512.15,431.61L1504.65,431.61Z' fill='#ff0000'/>
<circle cx='1189.40' cy='463.40' r='2.9' fill='#0000ff'/>
<text x='1215.10' y='424.40' font-size='24' fill='#000' text-anchor='start' ><tspan font-style='italic'>ε</tspan><tspan dy='8.00' font-size='16'>c1</tspan><tspan dy='-8.00'>/</tspan><tspan font-style='italic'>ε</tspan><tspan dy='8.00' font-size='16'>1</tspan><tspan dy='-8.00'> = 5.0</tspan></text>
<text x='1375.30' y='424.40' font-size='24' fill='#000' text-anchor='start' ><tspan font-style='italic'>ε</tspan><tspan dy='8.00' font-size='16'>c1</tspan><tspan dy='-8.00'>/</tspan><tspan font-style='italic'>ε</tspan><tspan dy='8.00' font-size='16'>1</tspan><tspan dy='-8.00'> = 1.0</tspan></text>
<text x='1532.10' y='424.40' font-size='24' fill='#000' text-anchor='start' ><tspan font-style='italic'>ε</tspan><tspan dy='8.00' font-size='16'>c1</tspan><tspan dy='-8.00'>/</tspan><tspan font-style='italic'>ε</tspan><tspan dy='8.00' font-size='16'>1</tspan><tspan dy='-8.00'> = 0.5</tspan></text>
<text x='1223.90' y='460.80' font-size='24' fill='#000' text-anchor='start' >Without shell</text>
<text x='1426.90' y='460.80' font-size='24' fill='#000' text-anchor='start' ><tspan font-style='italic'>F</tspan><tspan dy='8.00' font-size='16'>0</tspan><tspan dy='-8.00'> for coated particles</tspan></text>
<rect x='439.40' y='996.4' width='471.2' height='76.3' fill='#fff' stroke='#000' stroke-width='1.5'/>
<line x1='448.60' y1='1009.3' x2='488.00' y2='1009.3' stroke='#ff00ff' stroke-width='2.2'/>
<line x1='600.50' y1='1009.3' x2='639.90' y2='1009.3' stroke='#00c000' stroke-width='2.2'/>
<line x1='758.40' y1='1009.3' x2='797.80' y2='1009.3' stroke='#ff0000' stroke-width='2.2'/>
<line x1='448.60' y1='1044.1' x2='488.00' y2='1044.1' stroke='#0000ff' stroke-width='2.2'/>
<line x1='636.20' y1='1050.7' x2='675.60' y2='1050.7' stroke='#000' stroke-width='2.2'/>
<rect x='466.65' y='1022.75' width='5.5' height='5.5' fill='#ff00ff'/>
<path d='M621.30,1021.75L625.05,1025.50L621.30,1029.25L617.55,1025.50Z' fill='#00c000'/>
<path d='M779.00,1022.39L782.75,1028.61L775.25,1028.61Z' fill='#ff0000'/>
<circle cx='469.40' cy='1060.70' r='2.9' fill='#0000ff'/>
<text x='495.20' y='1022.00' font-size='24' fill='#000' text-anchor='start' ><tspan font-style='italic'>ε</tspan><tspan dy='8.00' font-size='16'>c1</tspan><tspan dy='-8.00'> = 50</tspan><tspan font-style='italic'>ε</tspan><tspan dy='8.00' font-size='16'>0</tspan></text>
<text x='652.80' y='1022.00' font-size='24' fill='#000' text-anchor='start' ><tspan font-style='italic'>ε</tspan><tspan dy='8.00' font-size='16'>c1</tspan><tspan dy='-8.00'> = 10</tspan><tspan font-style='italic'>ε</tspan><tspan dy='8.00' font-size='16'>0</tspan></text>
<text x='817.30' y='1022.00' font-size='24' fill='#000' text-anchor='start' ><tspan font-style='italic'>ε</tspan><tspan dy='8.00' font-size='16'>c1</tspan><tspan dy='-8.00'> = 5</tspan><tspan font-style='italic'>ε</tspan><tspan dy='8.00' font-size='16'>0</tspan></text>
<text x='497.20' y='1057.80' font-size='24' fill='#000' text-anchor='start' >Without shell</text>
<text x='685.00' y='1057.80' font-size='24' fill='#000' text-anchor='start' ><tspan font-style='italic'>F</tspan><tspan dy='8.00' font-size='16'>0</tspan><tspan dy='-8.00'> for coated particles</tspan></text>
<rect x='1169.40' y='996.4' width='471.2' height='76.3' fill='#fff' stroke='#000' stroke-width='1.5'/>
<line x1='1178.60' y1='1009.3' x2='1218.00' y2='1009.3' stroke='#ff00ff' stroke-width='2.2'/>
<line x1='1330.50' y1='1009.3' x2='1369.90' y2='1009.3' stroke='#00c000' stroke-width='2.2'/>
<line x1='1488.40' y1='1009.3' x2='1527.80' y2='1009.3' stroke='#ff0000' stroke-width='2.2'/>
<line x1='1178.60' y1='1044.1' x2='1218.00' y2='1044.1' stroke='#0000ff' stroke-width='2.2'/>
<line x1='1366.20' y1='1050.7' x2='1405.60' y2='1050.7' stroke='#000' stroke-width='2.2'/>
<rect x='1196.65' y='1022.75' width='5.5' height='5.5' fill='#ff00ff'/>
<path d='M1351.30,1021.75L1355.05,1025.50L1351.30,1029.25L1347.55,1025.50Z' fill='#00c000'/>
<path d='M1509.00,1022.39L1512.75,1028.61L1505.25,1028.61Z' fill='#ff0000'/>
<circle cx='1199.40' cy='1060.70' r='2.9' fill='#0000ff'/>
<text x='1225.20' y='1022.00' font-size='24' fill='#000' text-anchor='start' ><tspan font-style='italic'>ε</tspan><tspan dy='8.00' font-size='16'>c1</tspan><tspan dy='-8.00'> = 50</tspan><tspan font-style='italic'>ε</tspan><tspan dy='8.00' font-size='16'>0</tspan></text>
<text x='1382.80' y='1022.00' font-size='24' fill='#000' text-anchor='start' ><tspan font-style='italic'>ε</tspan><tspan dy='8.00' font-size='16'>c1</tspan><tspan dy='-8.00'> = 10</tspan><tspan font-style='italic'>ε</tspan><tspan dy='8.00' font-size='16'>0</tspan></text>
<text x='1547.30' y='1022.00' font-size='24' fill='#000' text-anchor='start' ><tspan font-style='italic'>ε</tspan><tspan dy='8.00' font-size='16'>c1</tspan><tspan dy='-8.00'> = 5</tspan><tspan font-style='italic'>ε</tspan><tspan dy='8.00' font-size='16'>0</tspan></text>
<text x='1227.20' y='1057.80' font-size='24' fill='#000' text-anchor='start' >Without shell</text>
<text x='1415.00' y='1057.80' font-size='24' fill='#000' text-anchor='start' ><tspan font-style='italic'>F</tspan><tspan dy='8.00' font-size='16'>0</tspan><tspan dy='-8.00'> for coated particles</tspan></text>
<path d='M1577.4,59.0L1592.6000000000001,85.7L1584.8000000000002,85.7L1584.8000000000002,116.7L1570.0,116.7L1570.0,85.7L1562.2,85.7ZM1577.4,209.7L1592.6000000000001,184.8L1584.8000000000002,184.8L1584.8000000000002,152.3L1570.0,152.3L1570.0,184.8L1562.2,184.8Z' fill='#bfbfbf' stroke='#000' stroke-width='1.5' stroke-linejoin='miter'/>
<path d='M1578.6,648.3L1593.8,673.2L1586.0,673.2L1586.0,705.7L1571.1999999999998,705.7L1571.1999999999998,673.2L1563.3999999999999,673.2ZM1578.6,805.3L1593.8,779.9L1586.0,779.9L1586.0,747.4L1571.1999999999998,747.4L1571.1999999999998,779.9L1563.3999999999999,779.9Z' fill='#bfbfbf' stroke='#000' stroke-width='1.5' stroke-linejoin='miter'/>
<text x='1602.20' y='80.60' font-size='24' fill='#000' text-anchor='start' >Repulsive</text>
<text x='1602.20' y='109.00' font-size='24' fill='#000' text-anchor='start' >force</text>
<text x='1602.20' y='168.30' font-size='24' fill='#000' text-anchor='start' >Attractive</text>
<text x='1602.20' y='196.00' font-size='24' fill='#000' text-anchor='start' >force</text>
<text x='1603.50' y='668.10' font-size='24' fill='#000' text-anchor='start' >Repulsive</text>
<text x='1603.50' y='696.60' font-size='24' fill='#000' text-anchor='start' >force</text>
<text x='1603.50' y='765.90' font-size='24' fill='#000' text-anchor='start' >Attractive</text>
<text x='1603.50' y='794.60' font-size='24' fill='#000' text-anchor='start' >force</text>
</svg></body></html>
